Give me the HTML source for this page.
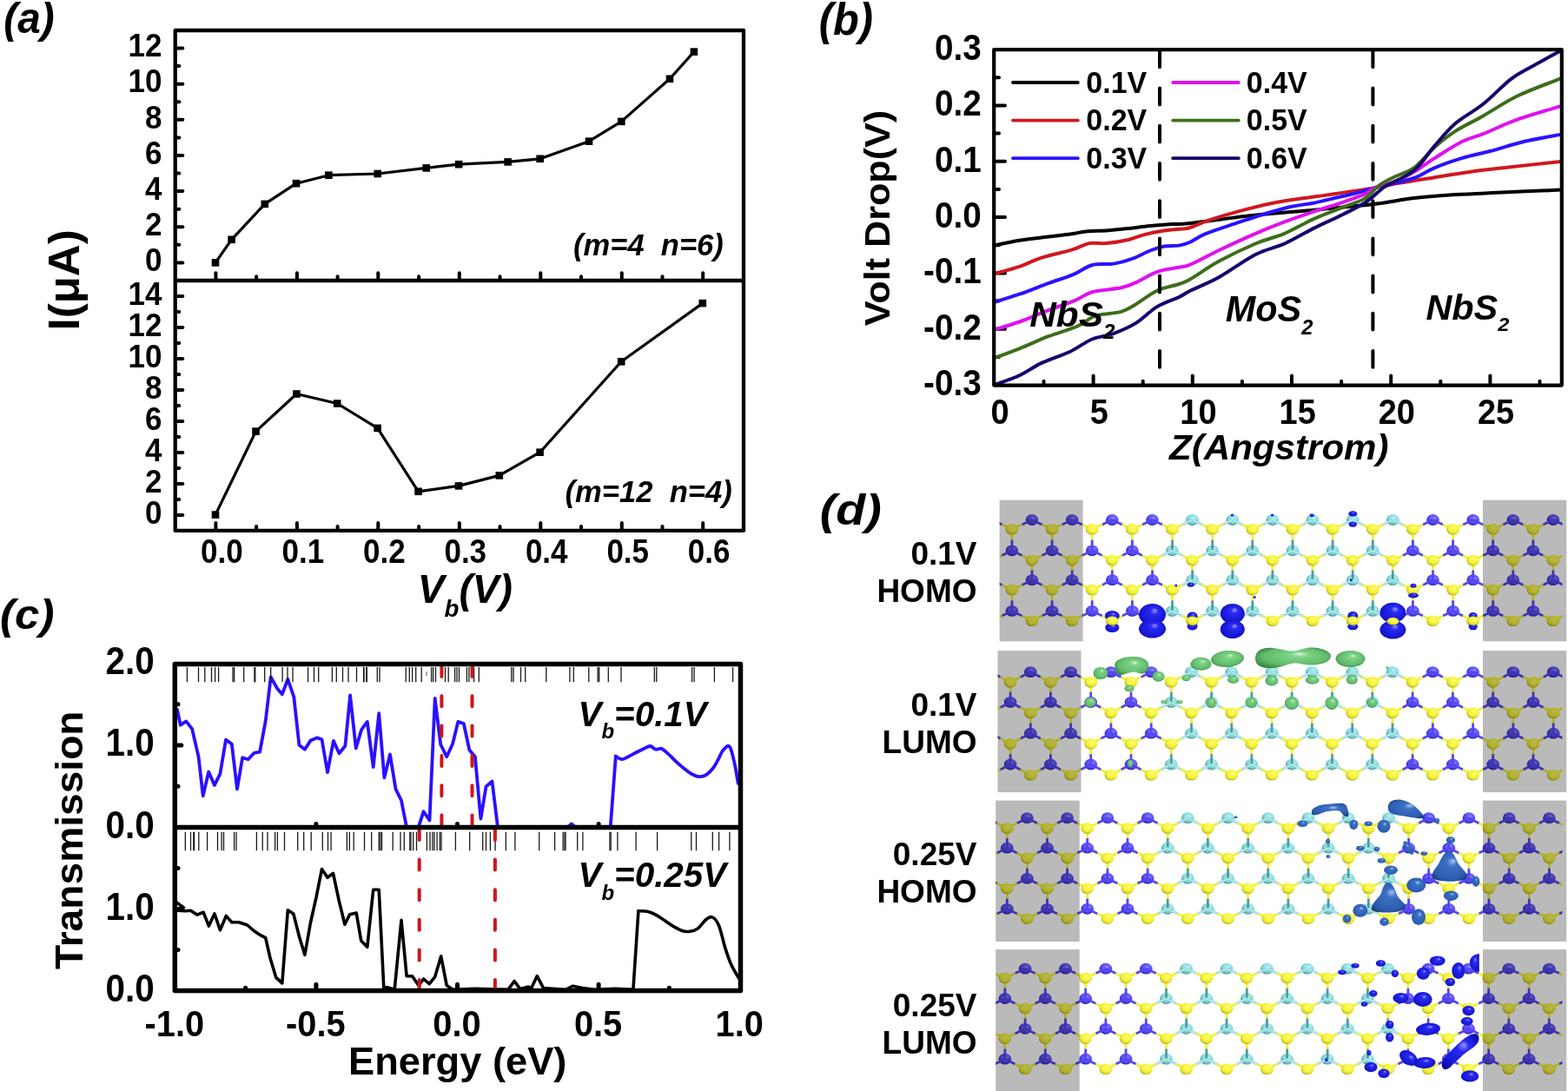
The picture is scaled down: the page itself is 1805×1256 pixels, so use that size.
<!DOCTYPE html>
<html><head><meta charset="utf-8"><title>Figure</title>
<style>
html,body{margin:0;padding:0;background:#fff;overflow:hidden;width:1805px;height:1256px;}
svg{display:block;}
text{font-family:'Liberation Sans', Arial, sans-serif;}
</style></head>
<body>
<svg width="1805" height="1256" viewBox="0 0 1805 1256">
<rect width="1805" height="1256" fill="#fff"/>
<line x1="201.7" y1="302.4" x2="210.3" y2="302.4" stroke="#000" stroke-width="4" stroke-linecap="round" />
<line x1="201.7" y1="281.8" x2="206.3" y2="281.8" stroke="#000" stroke-width="4" stroke-linecap="round" />
<line x1="201.7" y1="261.3" x2="210.3" y2="261.3" stroke="#000" stroke-width="4" stroke-linecap="round" />
<line x1="201.7" y1="240.7" x2="206.3" y2="240.7" stroke="#000" stroke-width="4" stroke-linecap="round" />
<line x1="201.7" y1="220.1" x2="210.3" y2="220.1" stroke="#000" stroke-width="4" stroke-linecap="round" />
<line x1="201.7" y1="199.5" x2="206.3" y2="199.5" stroke="#000" stroke-width="4" stroke-linecap="round" />
<line x1="201.7" y1="179.0" x2="210.3" y2="179.0" stroke="#000" stroke-width="4" stroke-linecap="round" />
<line x1="201.7" y1="158.4" x2="206.3" y2="158.4" stroke="#000" stroke-width="4" stroke-linecap="round" />
<line x1="201.7" y1="137.8" x2="210.3" y2="137.8" stroke="#000" stroke-width="4" stroke-linecap="round" />
<line x1="201.7" y1="117.3" x2="206.3" y2="117.3" stroke="#000" stroke-width="4" stroke-linecap="round" />
<line x1="201.7" y1="96.7" x2="210.3" y2="96.7" stroke="#000" stroke-width="4" stroke-linecap="round" />
<line x1="201.7" y1="76.1" x2="206.3" y2="76.1" stroke="#000" stroke-width="4" stroke-linecap="round" />
<line x1="201.7" y1="55.6" x2="210.3" y2="55.6" stroke="#000" stroke-width="4" stroke-linecap="round" />
<line x1="201.7" y1="592.9" x2="210.3" y2="592.9" stroke="#000" stroke-width="4" stroke-linecap="round" />
<line x1="201.7" y1="574.9" x2="206.3" y2="574.9" stroke="#000" stroke-width="4" stroke-linecap="round" />
<line x1="201.7" y1="556.9" x2="210.3" y2="556.9" stroke="#000" stroke-width="4" stroke-linecap="round" />
<line x1="201.7" y1="538.9" x2="206.3" y2="538.9" stroke="#000" stroke-width="4" stroke-linecap="round" />
<line x1="201.7" y1="520.9" x2="210.3" y2="520.9" stroke="#000" stroke-width="4" stroke-linecap="round" />
<line x1="201.7" y1="502.9" x2="206.3" y2="502.9" stroke="#000" stroke-width="4" stroke-linecap="round" />
<line x1="201.7" y1="484.9" x2="210.3" y2="484.9" stroke="#000" stroke-width="4" stroke-linecap="round" />
<line x1="201.7" y1="466.9" x2="206.3" y2="466.9" stroke="#000" stroke-width="4" stroke-linecap="round" />
<line x1="201.7" y1="448.9" x2="210.3" y2="448.9" stroke="#000" stroke-width="4" stroke-linecap="round" />
<line x1="201.7" y1="430.9" x2="206.3" y2="430.9" stroke="#000" stroke-width="4" stroke-linecap="round" />
<line x1="201.7" y1="412.9" x2="210.3" y2="412.9" stroke="#000" stroke-width="4" stroke-linecap="round" />
<line x1="201.7" y1="394.9" x2="206.3" y2="394.9" stroke="#000" stroke-width="4" stroke-linecap="round" />
<line x1="201.7" y1="376.9" x2="210.3" y2="376.9" stroke="#000" stroke-width="4" stroke-linecap="round" />
<line x1="201.7" y1="358.9" x2="206.3" y2="358.9" stroke="#000" stroke-width="4" stroke-linecap="round" />
<line x1="201.7" y1="340.9" x2="210.3" y2="340.9" stroke="#000" stroke-width="4" stroke-linecap="round" />
<line x1="248.4" y1="323.0" x2="248.4" y2="314.2" stroke="#000" stroke-width="4" stroke-linecap="round" />
<line x1="248.4" y1="610.9" x2="248.4" y2="602.1" stroke="#000" stroke-width="4" stroke-linecap="round" />
<line x1="295.1" y1="323.0" x2="295.1" y2="318.2" stroke="#000" stroke-width="4" stroke-linecap="round" />
<line x1="295.1" y1="610.9" x2="295.1" y2="606.1" stroke="#000" stroke-width="4" stroke-linecap="round" />
<line x1="341.9" y1="323.0" x2="341.9" y2="314.2" stroke="#000" stroke-width="4" stroke-linecap="round" />
<line x1="341.9" y1="610.9" x2="341.9" y2="602.1" stroke="#000" stroke-width="4" stroke-linecap="round" />
<line x1="388.6" y1="323.0" x2="388.6" y2="318.2" stroke="#000" stroke-width="4" stroke-linecap="round" />
<line x1="388.6" y1="610.9" x2="388.6" y2="606.1" stroke="#000" stroke-width="4" stroke-linecap="round" />
<line x1="435.3" y1="323.0" x2="435.3" y2="314.2" stroke="#000" stroke-width="4" stroke-linecap="round" />
<line x1="435.3" y1="610.9" x2="435.3" y2="602.1" stroke="#000" stroke-width="4" stroke-linecap="round" />
<line x1="482.1" y1="323.0" x2="482.1" y2="318.2" stroke="#000" stroke-width="4" stroke-linecap="round" />
<line x1="482.1" y1="610.9" x2="482.1" y2="606.1" stroke="#000" stroke-width="4" stroke-linecap="round" />
<line x1="528.8" y1="323.0" x2="528.8" y2="314.2" stroke="#000" stroke-width="4" stroke-linecap="round" />
<line x1="528.8" y1="610.9" x2="528.8" y2="602.1" stroke="#000" stroke-width="4" stroke-linecap="round" />
<line x1="575.5" y1="323.0" x2="575.5" y2="318.2" stroke="#000" stroke-width="4" stroke-linecap="round" />
<line x1="575.5" y1="610.9" x2="575.5" y2="606.1" stroke="#000" stroke-width="4" stroke-linecap="round" />
<line x1="622.3" y1="323.0" x2="622.3" y2="314.2" stroke="#000" stroke-width="4" stroke-linecap="round" />
<line x1="622.3" y1="610.9" x2="622.3" y2="602.1" stroke="#000" stroke-width="4" stroke-linecap="round" />
<line x1="669.0" y1="323.0" x2="669.0" y2="318.2" stroke="#000" stroke-width="4" stroke-linecap="round" />
<line x1="669.0" y1="610.9" x2="669.0" y2="606.1" stroke="#000" stroke-width="4" stroke-linecap="round" />
<line x1="715.8" y1="323.0" x2="715.8" y2="314.2" stroke="#000" stroke-width="4" stroke-linecap="round" />
<line x1="715.8" y1="610.9" x2="715.8" y2="602.1" stroke="#000" stroke-width="4" stroke-linecap="round" />
<line x1="762.5" y1="323.0" x2="762.5" y2="318.2" stroke="#000" stroke-width="4" stroke-linecap="round" />
<line x1="762.5" y1="610.9" x2="762.5" y2="606.1" stroke="#000" stroke-width="4" stroke-linecap="round" />
<line x1="809.2" y1="323.0" x2="809.2" y2="314.2" stroke="#000" stroke-width="4" stroke-linecap="round" />
<line x1="809.2" y1="610.9" x2="809.2" y2="602.1" stroke="#000" stroke-width="4" stroke-linecap="round" />
<path d="M201.7,610.9 L201.7,35.0 L856.0,35.0 L856.0,610.9 Z M201.7,323.0 L856.0,323.0" fill="none" stroke="#000" stroke-width="4.3" stroke-linejoin="round"/>
<text transform="translate(186.50,299.40) scale(1.0,1.08)" x="0" y="11.83" font-size="35" text-anchor="end" font-weight="bold">0</text>
<text transform="translate(186.50,258.26) scale(1.0,1.08)" x="0" y="11.83" font-size="35" text-anchor="end" font-weight="bold">2</text>
<text transform="translate(186.50,217.12) scale(1.0,1.08)" x="0" y="11.83" font-size="35" text-anchor="end" font-weight="bold">4</text>
<text transform="translate(186.50,175.98) scale(1.0,1.08)" x="0" y="11.83" font-size="35" text-anchor="end" font-weight="bold">6</text>
<text transform="translate(186.50,134.84) scale(1.0,1.08)" x="0" y="11.83" font-size="35" text-anchor="end" font-weight="bold">8</text>
<text transform="translate(186.50,93.70) scale(1.0,1.08)" x="0" y="11.83" font-size="35" text-anchor="end" font-weight="bold">10</text>
<text transform="translate(186.50,52.56) scale(1.0,1.08)" x="0" y="11.83" font-size="35" text-anchor="end" font-weight="bold">12</text>
<text transform="translate(186.50,589.90) scale(1.0,1.08)" x="0" y="11.83" font-size="35" text-anchor="end" font-weight="bold">0</text>
<text transform="translate(186.50,553.90) scale(1.0,1.08)" x="0" y="11.83" font-size="35" text-anchor="end" font-weight="bold">2</text>
<text transform="translate(186.50,517.90) scale(1.0,1.08)" x="0" y="11.83" font-size="35" text-anchor="end" font-weight="bold">4</text>
<text transform="translate(186.50,481.90) scale(1.0,1.08)" x="0" y="11.83" font-size="35" text-anchor="end" font-weight="bold">6</text>
<text transform="translate(186.50,445.90) scale(1.0,1.08)" x="0" y="11.83" font-size="35" text-anchor="end" font-weight="bold">8</text>
<text transform="translate(186.50,409.90) scale(1.0,1.08)" x="0" y="11.83" font-size="35" text-anchor="end" font-weight="bold">10</text>
<text transform="translate(186.50,373.90) scale(1.0,1.08)" x="0" y="11.83" font-size="35" text-anchor="end" font-weight="bold">12</text>
<text transform="translate(186.50,337.90) scale(1.0,1.08)" x="0" y="11.83" font-size="35" text-anchor="end" font-weight="bold">14</text>
<text transform="translate(255.35,635.10) scale(1.0,1.09)" x="0" y="11.83" font-size="35" text-anchor="middle" font-weight="bold">0.0</text>
<text transform="translate(348.82,635.10) scale(1.0,1.09)" x="0" y="11.83" font-size="35" text-anchor="middle" font-weight="bold">0.1</text>
<text transform="translate(442.29,635.10) scale(1.0,1.09)" x="0" y="11.83" font-size="35" text-anchor="middle" font-weight="bold">0.2</text>
<text transform="translate(535.76,635.10) scale(1.0,1.09)" x="0" y="11.83" font-size="35" text-anchor="middle" font-weight="bold">0.3</text>
<text transform="translate(629.23,635.10) scale(1.0,1.09)" x="0" y="11.83" font-size="35" text-anchor="middle" font-weight="bold">0.4</text>
<text transform="translate(722.70,635.10) scale(1.0,1.09)" x="0" y="11.83" font-size="35" text-anchor="middle" font-weight="bold">0.5</text>
<text transform="translate(816.17,635.10) scale(1.0,1.09)" x="0" y="11.83" font-size="35" text-anchor="middle" font-weight="bold">0.6</text>
<polyline points="248.0,302.4 266.6,275.8 304.8,234.9 341.0,211.2 378.4,201.7 434.7,200.0 490.7,193.4 528.1,189.2 584.6,186.4 621.7,182.8 678.0,162.7 715.3,139.9 771.0,90.8 798.9,59.6" fill="none" stroke="#000" stroke-width="3.2" stroke-linejoin="round" stroke-linecap="round" />
<rect x="243.7" y="298.1" width="8.6" height="8.6" fill="#000"/>
<rect x="262.3" y="271.5" width="8.6" height="8.6" fill="#000"/>
<rect x="300.5" y="230.6" width="8.6" height="8.6" fill="#000"/>
<rect x="336.7" y="206.9" width="8.6" height="8.6" fill="#000"/>
<rect x="374.1" y="197.4" width="8.6" height="8.6" fill="#000"/>
<rect x="430.4" y="195.7" width="8.6" height="8.6" fill="#000"/>
<rect x="486.4" y="189.1" width="8.6" height="8.6" fill="#000"/>
<rect x="523.8" y="184.9" width="8.6" height="8.6" fill="#000"/>
<rect x="580.3" y="182.1" width="8.6" height="8.6" fill="#000"/>
<rect x="617.4" y="178.5" width="8.6" height="8.6" fill="#000"/>
<rect x="673.7" y="158.4" width="8.6" height="8.6" fill="#000"/>
<rect x="711.0" y="135.6" width="8.6" height="8.6" fill="#000"/>
<rect x="766.7" y="86.5" width="8.6" height="8.6" fill="#000"/>
<rect x="794.6" y="55.3" width="8.6" height="8.6" fill="#000"/>
<polyline points="248.0,592.6 294.5,496.6 341.4,453.5 388.2,464.5 434.6,492.9 481.5,565.8 528.0,559.4 574.8,547.4 621.6,520.7 715.2,416.3 808.8,349.1" fill="none" stroke="#000" stroke-width="3.2" stroke-linejoin="round" stroke-linecap="round" />
<rect x="243.7" y="588.3" width="8.6" height="8.6" fill="#000"/>
<rect x="290.2" y="492.3" width="8.6" height="8.6" fill="#000"/>
<rect x="337.1" y="449.2" width="8.6" height="8.6" fill="#000"/>
<rect x="383.9" y="460.2" width="8.6" height="8.6" fill="#000"/>
<rect x="430.3" y="488.6" width="8.6" height="8.6" fill="#000"/>
<rect x="477.2" y="561.5" width="8.6" height="8.6" fill="#000"/>
<rect x="523.7" y="555.1" width="8.6" height="8.6" fill="#000"/>
<rect x="570.5" y="543.1" width="8.6" height="8.6" fill="#000"/>
<rect x="617.3" y="516.4" width="8.6" height="8.6" fill="#000"/>
<rect x="710.9" y="412.0" width="8.6" height="8.6" fill="#000"/>
<rect x="804.5" y="344.8" width="8.6" height="8.6" fill="#000"/>
<text transform="translate(4.33,38.22) scale(0.9356,0.9796)" font-size="51" font-weight="bold" style="font-style:italic;white-space:pre" xml:space="preserve">(a)</text>
<text transform="translate(91.14,380.54) rotate(-90) scale(0.9814,0.9694)" font-size="52" font-weight="bold" style="white-space:pre" xml:space="preserve">I(μA)</text>
<text transform="translate(480.79,694.09) scale(1.0029,0.9880)" font-size="46" font-weight="bold" style="font-style:italic;white-space:pre" xml:space="preserve">V<tspan font-size="27.5" dy="16">b</tspan><tspan dy="-16">(V)</tspan></text>
<text transform="translate(660.08,293.75) scale(1.0155,1.0355)" font-size="34" font-weight="bold" style="font-style:italic;white-space:pre" xml:space="preserve">(m=4  n=6)</text>
<text transform="translate(650.58,578.29) scale(1.0176,1.0581)" font-size="34" font-weight="bold" style="font-style:italic;white-space:pre" xml:space="preserve">(m=12  n=4)</text>
<line x1="1144.2" y1="410.9" x2="1150.0" y2="410.9" stroke="#000" stroke-width="4" stroke-linecap="round" />
<line x1="1144.2" y1="378.7" x2="1157.0" y2="378.7" stroke="#000" stroke-width="4" stroke-linecap="round" />
<line x1="1144.2" y1="346.6" x2="1150.0" y2="346.6" stroke="#000" stroke-width="4" stroke-linecap="round" />
<line x1="1144.2" y1="314.4" x2="1157.0" y2="314.4" stroke="#000" stroke-width="4" stroke-linecap="round" />
<line x1="1144.2" y1="282.2" x2="1150.0" y2="282.2" stroke="#000" stroke-width="4" stroke-linecap="round" />
<line x1="1144.2" y1="250.1" x2="1157.0" y2="250.1" stroke="#000" stroke-width="4" stroke-linecap="round" />
<line x1="1144.2" y1="217.9" x2="1150.0" y2="217.9" stroke="#000" stroke-width="4" stroke-linecap="round" />
<line x1="1144.2" y1="185.8" x2="1157.0" y2="185.8" stroke="#000" stroke-width="4" stroke-linecap="round" />
<line x1="1144.2" y1="153.6" x2="1150.0" y2="153.6" stroke="#000" stroke-width="4" stroke-linecap="round" />
<line x1="1144.2" y1="121.5" x2="1157.0" y2="121.5" stroke="#000" stroke-width="4" stroke-linecap="round" />
<line x1="1144.2" y1="89.3" x2="1150.0" y2="89.3" stroke="#000" stroke-width="4" stroke-linecap="round" />
<line x1="1201.5" y1="443.6" x2="1201.5" y2="438.7" stroke="#000" stroke-width="4" stroke-linecap="round" />
<line x1="1258.6" y1="443.6" x2="1258.6" y2="432.4" stroke="#000" stroke-width="4" stroke-linecap="round" />
<line x1="1315.7" y1="443.6" x2="1315.7" y2="438.7" stroke="#000" stroke-width="4" stroke-linecap="round" />
<line x1="1372.8" y1="443.6" x2="1372.8" y2="432.4" stroke="#000" stroke-width="4" stroke-linecap="round" />
<line x1="1429.9" y1="443.6" x2="1429.9" y2="438.7" stroke="#000" stroke-width="4" stroke-linecap="round" />
<line x1="1487.0" y1="443.6" x2="1487.0" y2="432.4" stroke="#000" stroke-width="4" stroke-linecap="round" />
<line x1="1544.1" y1="443.6" x2="1544.1" y2="438.7" stroke="#000" stroke-width="4" stroke-linecap="round" />
<line x1="1601.2" y1="443.6" x2="1601.2" y2="432.4" stroke="#000" stroke-width="4" stroke-linecap="round" />
<line x1="1658.3" y1="443.6" x2="1658.3" y2="438.7" stroke="#000" stroke-width="4" stroke-linecap="round" />
<line x1="1715.4" y1="443.6" x2="1715.4" y2="432.4" stroke="#000" stroke-width="4" stroke-linecap="round" />
<line x1="1772.5" y1="443.6" x2="1772.5" y2="438.7" stroke="#000" stroke-width="4" stroke-linecap="round" />
<clipPath id="bclip"><rect x="1144.2" y="55.2" width="653.5999999999999" height="390.40000000000003"/></clipPath>
<g clip-path="url(#bclip)">
<path d="M1144.2,282.6 C1149.1,281.6 1163.0,278.5 1173.5,276.8 C1184.0,275.1 1196.9,273.9 1206.9,272.6 C1216.9,271.4 1226.5,270.3 1233.7,269.3 C1241.0,268.3 1243.7,267.0 1250.4,266.4 C1257.1,265.8 1265.7,265.9 1273.8,265.4 C1281.9,264.8 1290.5,264.0 1298.9,263.1 C1307.3,262.2 1315.6,260.9 1324.0,260.1 C1332.4,259.3 1341.4,258.6 1349.1,258.1 C1356.8,257.6 1355.4,258.7 1370.0,257.1 C1384.6,255.5 1414.6,250.9 1436.9,248.4 C1459.2,245.9 1480.1,244.6 1503.8,242.4 C1527.5,240.2 1558.4,237.7 1579.1,235.3 C1599.8,232.9 1611.7,230.0 1627.8,228.1 C1643.9,226.2 1659.6,225.1 1675.5,224.1 C1691.4,223.1 1703.1,222.7 1723.3,221.8 C1743.5,220.9 1784.4,219.1 1796.6,218.6" fill="none" stroke="#000000" stroke-width="4" stroke-linejoin="round" stroke-linecap="round" />
<path d="M1144.2,315.3 C1149.1,313.9 1164.5,310.0 1173.5,306.9 C1182.5,303.8 1188.5,300.1 1198.5,296.9 C1208.5,293.7 1224.5,290.5 1233.7,287.7 C1242.9,284.9 1247.0,281.4 1253.7,280.1 C1260.4,278.8 1266.3,280.8 1273.8,280.1 C1281.3,279.4 1291.7,277.7 1298.9,276.0 C1306.2,274.3 1310.9,271.8 1317.3,270.1 C1323.7,268.4 1330.2,267.0 1337.4,265.9 C1344.7,264.8 1355.4,264.0 1360.8,263.4 C1366.2,262.8 1364.3,263.8 1370.0,262.0 C1375.7,260.2 1383.9,256.0 1395.1,252.4 C1406.2,248.8 1424.4,243.7 1436.9,240.4 C1449.5,237.1 1459.2,234.9 1470.4,232.8 C1481.6,230.7 1492.7,229.4 1503.8,227.8 C1514.9,226.2 1524.2,225.1 1537.3,223.1 C1550.4,221.1 1570.0,218.2 1582.4,216.1 C1594.8,214.0 1600.2,212.6 1611.8,210.6 C1623.3,208.6 1638.4,206.3 1651.7,204.2 C1665.0,202.1 1676.9,199.9 1691.5,197.9 C1706.1,195.9 1721.7,194.3 1739.2,192.3 C1756.7,190.3 1787.0,187.0 1796.6,185.9" fill="none" stroke="#d01820" stroke-width="4" stroke-linejoin="round" stroke-linecap="round" />
<path d="M1144.2,347.9 C1149.1,346.4 1163.0,342.3 1173.5,338.7 C1184.0,335.1 1196.6,329.9 1206.9,326.1 C1217.2,322.3 1226.9,319.6 1235.3,316.1 C1243.7,312.6 1249.3,307.3 1257.1,305.2 C1264.9,303.1 1274.4,304.9 1282.2,303.6 C1290.0,302.4 1296.9,300.2 1303.9,297.7 C1310.9,295.2 1317.9,290.9 1324.0,288.5 C1330.1,286.1 1335.1,284.5 1340.7,283.5 C1346.3,282.5 1352.5,283.4 1357.4,282.6 C1362.3,281.8 1365.1,281.0 1370.0,278.8 C1374.9,276.6 1378.3,273.1 1386.7,269.6 C1395.1,266.1 1409.1,261.7 1420.2,257.9 C1431.3,254.1 1442.4,250.3 1453.6,247.0 C1464.8,243.7 1477.3,240.0 1487.1,237.8 C1496.9,235.6 1503.8,235.4 1512.2,233.7 C1520.6,232.0 1529.0,229.8 1537.3,227.8 C1545.6,225.9 1554.8,223.9 1562.3,222.0 C1569.8,220.1 1576.8,217.6 1582.4,216.1 C1588.0,214.6 1588.3,214.8 1595.9,213.0 C1603.5,211.2 1618.5,208.3 1627.8,205.0 C1637.1,201.7 1642.4,196.9 1651.7,193.1 C1661.0,189.2 1672.9,185.1 1683.5,181.9 C1694.1,178.7 1703.5,177.2 1715.4,174.0 C1727.4,170.8 1741.7,166.0 1755.2,162.8 C1768.7,159.6 1789.7,156.2 1796.6,154.9" fill="none" stroke="#2a12ff" stroke-width="4" stroke-linejoin="round" stroke-linecap="round" />
<path d="M1144.2,379.7 C1149.1,378.2 1163.0,374.3 1173.5,370.5 C1184.0,366.7 1196.3,361.2 1206.9,357.1 C1217.5,353.1 1228.6,349.7 1237.0,346.2 C1245.4,342.7 1248.2,338.7 1257.1,336.2 C1266.0,333.7 1282.1,333.0 1290.5,331.2 C1298.9,329.4 1300.3,328.4 1307.3,325.3 C1314.3,322.2 1323.9,315.7 1332.3,312.8 C1340.7,309.9 1351.1,309.1 1357.4,307.7 C1363.7,306.3 1362.3,308.0 1370.0,304.7 C1377.7,301.4 1391.0,294.0 1403.5,288.0 C1416.0,282.0 1432.8,274.2 1445.3,268.8 C1457.8,263.4 1467.5,259.6 1478.7,255.4 C1489.9,251.2 1501.1,247.5 1512.2,243.7 C1523.3,239.9 1535.8,236.2 1545.6,232.8 C1555.3,229.5 1564.6,226.4 1570.7,223.6 C1576.8,220.8 1576.9,218.4 1582.4,216.1 C1587.9,213.8 1596.3,212.8 1603.9,209.8 C1611.5,206.8 1619.8,202.6 1627.8,197.9 C1635.8,193.2 1642.4,187.8 1651.7,181.9 C1661.0,176.1 1674.2,167.4 1683.5,162.8 C1692.8,158.2 1696.8,158.3 1707.4,154.1 C1718.0,149.9 1732.3,142.7 1747.2,137.4 C1762.1,132.1 1788.4,124.7 1796.6,122.2" fill="none" stroke="#e010f0" stroke-width="4" stroke-linejoin="round" stroke-linecap="round" />
<path d="M1144.2,412.3 C1149.1,410.5 1163.0,405.6 1173.5,401.4 C1184.0,397.2 1195.8,391.5 1206.9,387.2 C1218.1,382.9 1231.5,379.4 1240.4,375.5 C1249.3,371.6 1252.1,366.6 1260.4,363.8 C1268.8,361.0 1282.7,361.0 1290.5,358.8 C1298.3,356.6 1300.3,354.4 1307.3,350.4 C1314.3,346.3 1323.9,338.4 1332.3,334.5 C1340.7,330.6 1351.1,329.2 1357.4,327.0 C1363.7,324.8 1362.3,325.9 1370.0,321.5 C1377.7,317.1 1391.0,307.4 1403.5,300.6 C1416.0,293.8 1432.8,285.8 1445.3,280.5 C1457.8,275.2 1467.5,273.5 1478.7,268.8 C1489.9,264.1 1501.1,257.1 1512.2,252.1 C1523.3,247.1 1535.8,242.6 1545.6,238.7 C1555.3,234.8 1563.7,232.8 1570.7,228.6 C1577.7,224.4 1581.9,217.7 1587.4,213.6 C1592.9,209.5 1597.2,207.6 1603.9,204.2 C1610.6,200.8 1619.8,198.9 1627.8,193.1 C1635.8,187.3 1643.8,176.2 1651.7,169.2 C1659.7,162.2 1666.2,156.9 1675.5,150.9 C1684.8,144.9 1695.5,140.2 1707.4,133.4 C1719.4,126.6 1732.3,117.5 1747.2,110.3 C1762.1,103.1 1788.4,93.7 1796.6,90.4" fill="none" stroke="#3c6e1a" stroke-width="4" stroke-linejoin="round" stroke-linecap="round" />
<path d="M1144.2,443.2 C1149.1,441.4 1164.5,436.5 1173.5,432.3 C1182.5,428.1 1188.8,422.7 1198.5,418.1 C1208.2,413.5 1222.2,409.3 1232.0,404.7 C1241.8,400.1 1248.7,394.0 1257.1,390.5 C1265.5,387.0 1273.8,386.9 1282.2,383.8 C1290.6,380.7 1299.0,377.2 1307.3,372.1 C1315.6,367.0 1323.9,357.9 1332.3,352.9 C1340.7,347.9 1351.1,345.0 1357.4,342.0 C1363.7,339.0 1362.3,338.6 1370.0,334.8 C1377.7,331.0 1391.0,326.0 1403.5,319.0 C1416.0,312.0 1432.8,299.4 1445.3,293.0 C1457.8,286.6 1467.5,285.5 1478.7,280.5 C1489.9,275.5 1501.1,268.5 1512.2,262.9 C1523.3,257.3 1535.8,251.9 1545.6,247.0 C1555.3,242.1 1563.7,238.1 1570.7,233.7 C1577.7,229.2 1583.2,223.6 1587.4,220.3 C1591.6,217.0 1589.2,217.8 1595.9,213.8 C1602.6,209.8 1618.5,204.0 1627.8,196.3 C1637.1,188.6 1643.8,176.6 1651.7,167.6 C1659.7,158.6 1666.2,150.1 1675.5,142.1 C1684.8,134.1 1696.8,128.3 1707.4,119.8 C1718.0,111.3 1729.9,98.4 1739.2,91.2 C1748.5,84.0 1753.5,82.2 1763.1,76.8 C1772.7,71.3 1791.0,61.5 1796.6,58.5" fill="none" stroke="#16046e" stroke-width="4" stroke-linejoin="round" stroke-linecap="round" />
</g>
<line x1="1335.0" y1="58.4" x2="1335.0" y2="423" stroke="#000" stroke-width="4" stroke-dasharray="18.8 24.4" stroke-linecap="round"/>
<line x1="1580.4" y1="58.4" x2="1580.4" y2="423" stroke="#000" stroke-width="4" stroke-dasharray="18.8 24.4" stroke-linecap="round"/>
<rect x="1144.2" y="57.2" width="653.5999999999999" height="386.40000000000003" fill="none" stroke="#000" stroke-width="4.2" stroke-linejoin="round"/>
<line x1="1166.0" y1="95.0" x2="1240.8" y2="95.0" stroke="#000000" stroke-width="3.8" stroke-linecap="round" />
<text transform="translate(1250.30,94.55) scale(1.0,1.055)" x="0" y="11.49" font-size="34" text-anchor="start" font-weight="bold">0.1V</text>
<line x1="1166.0" y1="138.6" x2="1240.8" y2="138.6" stroke="#d01820" stroke-width="3.8" stroke-linecap="round" />
<text transform="translate(1250.30,138.15) scale(1.0,1.055)" x="0" y="11.49" font-size="34" text-anchor="start" font-weight="bold">0.2V</text>
<line x1="1166.0" y1="182.2" x2="1240.8" y2="182.2" stroke="#2a12ff" stroke-width="3.8" stroke-linecap="round" />
<text transform="translate(1250.30,181.75) scale(1.0,1.055)" x="0" y="11.49" font-size="34" text-anchor="start" font-weight="bold">0.3V</text>
<line x1="1350.2" y1="95.0" x2="1425.8" y2="95.0" stroke="#e010f0" stroke-width="3.8" stroke-linecap="round" />
<text transform="translate(1434.80,94.55) scale(1.0,1.055)" x="0" y="11.49" font-size="34" text-anchor="start" font-weight="bold">0.4V</text>
<line x1="1350.2" y1="138.6" x2="1425.8" y2="138.6" stroke="#3c6e1a" stroke-width="3.8" stroke-linecap="round" />
<text transform="translate(1434.80,138.15) scale(1.0,1.055)" x="0" y="11.49" font-size="34" text-anchor="start" font-weight="bold">0.5V</text>
<line x1="1350.2" y1="182.2" x2="1425.8" y2="182.2" stroke="#16046e" stroke-width="3.8" stroke-linecap="round" />
<text transform="translate(1434.80,181.75) scale(1.0,1.055)" x="0" y="11.49" font-size="34" text-anchor="start" font-weight="bold">0.6V</text>
<text transform="translate(1129.70,440.90) scale(1.0,1.077)" x="0" y="13.08" font-size="38.7" text-anchor="end" font-weight="bold">-0.3</text>
<text transform="translate(1129.70,376.60) scale(1.0,1.077)" x="0" y="13.08" font-size="38.7" text-anchor="end" font-weight="bold">-0.2</text>
<text transform="translate(1129.70,312.30) scale(1.0,1.077)" x="0" y="13.08" font-size="38.7" text-anchor="end" font-weight="bold">-0.1</text>
<text transform="translate(1129.70,248.00) scale(1.0,1.077)" x="0" y="13.08" font-size="38.7" text-anchor="end" font-weight="bold">0.0</text>
<text transform="translate(1129.70,183.70) scale(1.0,1.077)" x="0" y="13.08" font-size="38.7" text-anchor="end" font-weight="bold">0.1</text>
<text transform="translate(1129.70,119.40) scale(1.0,1.077)" x="0" y="13.08" font-size="38.7" text-anchor="end" font-weight="bold">0.2</text>
<text transform="translate(1129.70,55.10) scale(1.0,1.077)" x="0" y="13.08" font-size="38.7" text-anchor="end" font-weight="bold">0.3</text>
<text transform="translate(1151.05,474.20) scale(1.0,1.08)" x="0" y="12.84" font-size="38" text-anchor="middle" font-weight="bold">0</text>
<text transform="translate(1265.25,474.20) scale(1.0,1.08)" x="0" y="12.84" font-size="38" text-anchor="middle" font-weight="bold">5</text>
<text transform="translate(1379.45,474.20) scale(1.0,1.08)" x="0" y="12.84" font-size="38" text-anchor="middle" font-weight="bold">10</text>
<text transform="translate(1493.65,474.20) scale(1.0,1.08)" x="0" y="12.84" font-size="38" text-anchor="middle" font-weight="bold">15</text>
<text transform="translate(1607.85,474.20) scale(1.0,1.08)" x="0" y="12.84" font-size="38" text-anchor="middle" font-weight="bold">20</text>
<text transform="translate(1722.05,474.20) scale(1.0,1.08)" x="0" y="12.84" font-size="38" text-anchor="middle" font-weight="bold">25</text>
<text transform="translate(942.69,39.70) scale(0.9548,1.0184)" font-size="51" font-weight="bold" style="font-style:italic;white-space:pre" xml:space="preserve">(b)</text>
<text transform="translate(1023.82,375.30) rotate(-90) scale(1.0530,0.9974)" font-size="41" font-weight="bold" style="white-space:pre" xml:space="preserve">Volt Drop(V)</text>
<text transform="translate(1346.00,529.40) scale(1.0024,0.9775)" font-size="42" font-weight="bold" style="font-style:italic;white-space:pre" xml:space="preserve">Z(Angstrom)</text>
<text transform="translate(1185.29,375.96) scale(1.0083,0.9889)" font-size="42" font-weight="bold" style="font-style:italic;white-space:pre" xml:space="preserve">NbS<tspan font-size="24" dy="14.3">2</tspan></text>
<text transform="translate(1410.81,370.17) scale(0.9851,1.0093)" font-size="42" font-weight="bold" style="font-style:italic;white-space:pre" xml:space="preserve">MoS<tspan font-size="24" dy="14.3">2</tspan></text>
<text transform="translate(1641.41,367.88) scale(0.9854,0.9511)" font-size="42" font-weight="bold" style="font-style:italic;white-space:pre" xml:space="preserve">NbS<tspan font-size="24" dy="14.3">2</tspan></text>
<line x1="201.3" y1="905.3" x2="205.0" y2="905.3" stroke="#000" stroke-width="5" stroke-linecap="round" />
<line x1="201.3" y1="1093.5" x2="205.0" y2="1093.5" stroke="#000" stroke-width="5" stroke-linecap="round" />
<line x1="201.3" y1="858.0" x2="208.8" y2="858.0" stroke="#000" stroke-width="5" stroke-linecap="round" />
<line x1="201.3" y1="1046.5" x2="208.8" y2="1046.5" stroke="#000" stroke-width="5" stroke-linecap="round" />
<line x1="201.3" y1="810.7" x2="205.0" y2="810.7" stroke="#000" stroke-width="5" stroke-linecap="round" />
<line x1="201.3" y1="999.5" x2="205.0" y2="999.5" stroke="#000" stroke-width="5" stroke-linecap="round" />
<line x1="282.6" y1="1140.5" x2="282.6" y2="1137.3" stroke="#000" stroke-width="5" stroke-linecap="round" />
<line x1="363.9" y1="952.6" x2="363.9" y2="948.4" stroke="#000" stroke-width="5" stroke-linecap="round" />
<line x1="363.9" y1="1140.5" x2="363.9" y2="1133.2" stroke="#000" stroke-width="5" stroke-linecap="round" />
<line x1="445.2" y1="1140.5" x2="445.2" y2="1137.3" stroke="#000" stroke-width="5" stroke-linecap="round" />
<line x1="526.5" y1="952.6" x2="526.5" y2="948.4" stroke="#000" stroke-width="5" stroke-linecap="round" />
<line x1="526.5" y1="1140.5" x2="526.5" y2="1133.2" stroke="#000" stroke-width="5" stroke-linecap="round" />
<line x1="607.8" y1="1140.5" x2="607.8" y2="1137.3" stroke="#000" stroke-width="5" stroke-linecap="round" />
<line x1="689.1" y1="952.6" x2="689.1" y2="948.4" stroke="#000" stroke-width="5" stroke-linecap="round" />
<line x1="689.1" y1="1140.5" x2="689.1" y2="1133.2" stroke="#000" stroke-width="5" stroke-linecap="round" />
<line x1="770.4" y1="1140.5" x2="770.4" y2="1137.3" stroke="#000" stroke-width="5" stroke-linecap="round" />
<clipPath id="cclip1"><rect x="201.3" y="764.4" width="651.2" height="188.20000000000005"/></clipPath>
<clipPath id="cclip2"><rect x="201.3" y="952.6" width="651.2" height="187.89999999999998"/></clipPath>
<polyline points="204.0,817.0 207.7,834.7 214.3,830.4 221.1,839.1 228.5,870.9 233.7,916.3 240.2,888.5 246.9,903.9 253.4,890.8 260.0,851.6 266.8,856.5 273.0,908.4 279.1,872.2 285.6,874.2 292.6,866.8 299.1,865.7 305.7,830.1 311.7,779.5 319.1,792.5 324.8,799.4 331.3,781.9 338.3,802.3 344.4,857.8 350.9,862.7 357.4,852.6 364.8,849.4 370.5,851.3 377.0,889.2 383.9,852.9 390.4,867.3 397.4,858.7 403.1,800.4 409.7,861.4 416.2,839.9 422.8,830.9 429.7,883.1 436.2,821.1 442.4,895.4 449.0,868.5 455.5,908.4 462.0,921.5 468.1,952.6 481.6,952.6 487.6,934.2 494.5,944.4 500.7,804.0 507.2,857.0 514.2,871.2 521.1,856.2 527.3,830.9 533.8,833.0 540.4,863.6 546.9,871.2 553.4,942.7 559.5,905.5 566.5,899.5 573.0,952.6 653.0,952.6 657.9,948.4 662.8,952.6 702.7,952.6 708.8,870.6" fill="none" stroke="#2a10ff" stroke-width="3.8" stroke-linejoin="round" stroke-linecap="round" clip-path="url(#cclip1)"/>
<path d="M708.8,870.6 C710.0,871.2 713.4,874.1 715.8,874.2 C718.2,874.3 720.2,872.6 723.1,871.2 C726.0,869.8 729.9,867.5 732.9,866.0 C735.9,864.5 738.5,863.1 741.1,861.9 C743.7,860.7 746.2,858.9 748.5,859.0 C750.8,859.1 752.8,862.2 755.0,862.7 C757.2,863.2 759.2,861.1 761.5,861.9 C763.8,862.7 766.0,865.1 768.9,867.6 C771.8,870.1 775.4,874.1 778.6,877.1 C781.9,880.1 785.4,883.2 788.4,885.6 C791.4,888.0 793.9,889.9 796.6,891.3 C799.3,892.7 802.1,894.0 804.8,894.1 C807.5,894.2 810.2,893.8 812.9,892.1 C815.6,890.4 818.8,887.0 821.1,884.0 C823.4,881.0 824.9,877.6 826.8,874.2 C828.7,870.8 830.3,866.1 832.5,863.6 C834.7,861.1 837.7,856.9 839.9,859.5 C842.1,862.1 844.0,872.0 845.6,879.1 C847.2,886.2 849.0,898.1 849.7,901.9" fill="none" stroke="#2a10ff" stroke-width="3.8" stroke-linejoin="round" stroke-linecap="round" clip-path="url(#cclip1)"/>
<polyline points="203.2,1038.9 211.5,1045.0 204.5,1048.2 213.0,1048.7 219.5,1048.2 226.8,1053.1 234.2,1050.3 240.4,1066.1 246.9,1051.9 253.4,1070.7 260.3,1054.4 266.8,1061.7 275.0,1061.7 284.8,1065.0 292.1,1071.5 299.5,1076.4 305.7,1079.7 310.9,1102.5 317.8,1125.4 324.8,1131.9 331.3,1047.8 337.8,1051.9 344.4,1078.0 350.9,1099.3 357.4,1062.5 364.0,1033.1 370.5,1000.5 377.0,1010.3 383.5,1005.4 390.1,1036.4 396.9,1064.2 402.6,1052.7 410.2,1051.1 415.7,1082.9 422.8,1090.3 429.7,1024.2 436.2,1024.2 441.9,1139.3 446.0,1136.8 454.2,1139.3 462.0,1059.3 468.1,1123.7 474.6,1123.7 481.9,1134.4 487.6,1127.0 494.2,1132.7 500.7,1124.6 507.7,1100.9 514.2,1134.4 521.1,1139.3 546.4,1138.4 584.8,1139.3 592.1,1129.5 598.6,1138.4 608.4,1136.0 611.7,1137.6 618.2,1123.7 625.6,1137.6 651.3,1139.3 659.5,1135.2 670.9,1137.6 684.0,1139.3 708.5,1138.4 719.9,1138.9 728.9,1139.3 734.9,1048.7" fill="none" stroke="#000" stroke-width="3.6" stroke-linejoin="round" stroke-linecap="round" clip-path="url(#cclip2)"/>
<path d="M734.9,1048.7 C736.8,1048.8 742.5,1048.7 746.0,1049.5 C749.5,1050.3 752.5,1051.8 755.8,1053.6 C759.1,1055.4 762.3,1057.9 765.6,1060.1 C768.9,1062.3 772.1,1064.7 775.4,1066.6 C778.7,1068.5 782.1,1070.5 785.2,1071.5 C788.3,1072.5 791.2,1072.7 794.2,1072.3 C797.2,1071.9 800.0,1071.4 803.1,1069.1 C806.2,1066.8 810.0,1060.7 812.9,1058.5 C815.8,1056.3 817.8,1054.8 820.3,1056.0 C822.8,1057.2 825.1,1059.8 827.6,1065.8 C830.1,1071.8 832.7,1084.6 835.0,1091.9 C837.3,1099.2 838.9,1104.2 841.5,1109.9 C844.1,1115.6 849.0,1123.5 850.5,1126.2" fill="none" stroke="#000" stroke-width="3.6" stroke-linejoin="round" stroke-linecap="round" clip-path="url(#cclip2)"/>
<g stroke="#1a1a1a" stroke-width="1.3">
<line x1="215.4" y1="768.1" x2="215.4" y2="785.2"/>
<line x1="228.5" y1="768.1" x2="228.5" y2="785.2"/>
<line x1="235.8" y1="768.1" x2="235.8" y2="785.2"/>
<line x1="243.5" y1="768.1" x2="243.5" y2="785.2"/>
<line x1="247.6" y1="768.1" x2="247.6" y2="785.2"/>
<line x1="251.6" y1="768.1" x2="251.6" y2="785.2"/>
<line x1="268.0" y1="768.1" x2="268.0" y2="785.2"/>
<line x1="269.6" y1="768.1" x2="269.6" y2="785.2"/>
<line x1="280.7" y1="768.1" x2="280.7" y2="785.2"/>
<line x1="292.9" y1="768.1" x2="292.9" y2="785.2"/>
<line x1="293.8" y1="768.1" x2="293.8" y2="785.2"/>
<line x1="304.7" y1="768.1" x2="304.7" y2="785.2"/>
<line x1="311.7" y1="768.1" x2="311.7" y2="785.2"/>
<line x1="325.1" y1="768.1" x2="325.1" y2="785.2"/>
<line x1="331.0" y1="768.1" x2="331.0" y2="785.2"/>
<line x1="337.0" y1="768.1" x2="337.0" y2="785.2"/>
<line x1="354.6" y1="768.1" x2="354.6" y2="785.2"/>
<line x1="361.5" y1="768.1" x2="361.5" y2="785.2"/>
<line x1="366.7" y1="768.1" x2="366.7" y2="785.2"/>
<line x1="382.4" y1="768.1" x2="382.4" y2="785.2"/>
<line x1="387.3" y1="768.1" x2="387.3" y2="785.2"/>
<line x1="394.5" y1="768.1" x2="394.5" y2="785.2"/>
<line x1="401.0" y1="768.1" x2="401.0" y2="785.2"/>
<line x1="410.5" y1="768.1" x2="410.5" y2="785.2"/>
<line x1="419.0" y1="768.1" x2="419.0" y2="785.2"/>
<line x1="421.9" y1="768.1" x2="421.9" y2="785.2"/>
<line x1="418.6" y1="768.1" x2="418.6" y2="785.2"/>
<line x1="422.3" y1="768.1" x2="422.3" y2="785.2"/>
<line x1="434.3" y1="768.1" x2="434.3" y2="785.2"/>
<line x1="437.0" y1="768.1" x2="437.0" y2="785.2"/>
<line x1="467.2" y1="768.1" x2="467.2" y2="785.2"/>
<line x1="471.3" y1="768.1" x2="471.3" y2="785.2"/>
<line x1="474.6" y1="768.1" x2="474.6" y2="785.2"/>
<line x1="478.7" y1="768.1" x2="478.7" y2="785.2"/>
<line x1="485.2" y1="768.1" x2="485.2" y2="785.2"/>
<line x1="496.6" y1="768.1" x2="496.6" y2="785.2"/>
<line x1="498.6" y1="768.1" x2="498.6" y2="785.2"/>
<line x1="501.5" y1="768.1" x2="501.5" y2="785.2"/>
<line x1="512.5" y1="768.1" x2="512.5" y2="785.2"/>
<line x1="516.2" y1="768.1" x2="516.2" y2="785.2"/>
<line x1="523.6" y1="768.1" x2="523.6" y2="785.2"/>
<line x1="526.0" y1="768.1" x2="526.0" y2="785.2"/>
<line x1="528.5" y1="768.1" x2="528.5" y2="785.2"/>
<line x1="537.4" y1="768.1" x2="537.4" y2="785.2"/>
<line x1="539.9" y1="768.1" x2="539.9" y2="785.2"/>
<line x1="545.6" y1="768.1" x2="545.6" y2="785.2"/>
<line x1="551.3" y1="768.1" x2="551.3" y2="785.2"/>
<line x1="588.8" y1="768.1" x2="588.8" y2="785.2"/>
<line x1="591.0" y1="768.1" x2="591.0" y2="785.2"/>
<line x1="599.5" y1="768.1" x2="599.5" y2="785.2"/>
<line x1="604.7" y1="768.1" x2="604.7" y2="785.2"/>
<line x1="628.8" y1="768.1" x2="628.8" y2="785.2"/>
<line x1="655.9" y1="768.1" x2="655.9" y2="785.2"/>
<line x1="660.3" y1="768.1" x2="660.3" y2="785.2"/>
<line x1="677.8" y1="768.1" x2="677.8" y2="785.2"/>
<line x1="688.1" y1="768.1" x2="688.1" y2="785.2"/>
<line x1="689.7" y1="768.1" x2="689.7" y2="785.2"/>
<line x1="700.3" y1="768.1" x2="700.3" y2="785.2"/>
<line x1="715.0" y1="768.1" x2="715.0" y2="785.2"/>
<line x1="753.3" y1="768.1" x2="753.3" y2="785.2"/>
<line x1="755.8" y1="768.1" x2="755.8" y2="785.2"/>
<line x1="796.6" y1="768.1" x2="796.6" y2="785.2"/>
<line x1="799.1" y1="768.1" x2="799.1" y2="785.2"/>
<line x1="822.4" y1="768.1" x2="822.4" y2="785.2"/>
<line x1="843.6" y1="768.1" x2="843.6" y2="785.2"/>
<line x1="213.3" y1="957.8" x2="213.3" y2="979.3"/>
<line x1="219.5" y1="957.8" x2="219.5" y2="979.3"/>
<line x1="222.8" y1="957.8" x2="222.8" y2="979.3"/>
<line x1="223.6" y1="957.8" x2="223.6" y2="979.3"/>
<line x1="228.8" y1="957.8" x2="228.8" y2="979.3"/>
<line x1="238.6" y1="957.8" x2="238.6" y2="979.3"/>
<line x1="250.5" y1="957.8" x2="250.5" y2="979.3"/>
<line x1="255.1" y1="957.8" x2="255.1" y2="979.3"/>
<line x1="257.5" y1="957.8" x2="257.5" y2="979.3"/>
<line x1="269.6" y1="957.8" x2="269.6" y2="979.3"/>
<line x1="272.0" y1="957.8" x2="272.0" y2="979.3"/>
<line x1="295.4" y1="957.8" x2="295.4" y2="979.3"/>
<line x1="302.2" y1="957.8" x2="302.2" y2="979.3"/>
<line x1="308.0" y1="957.8" x2="308.0" y2="979.3"/>
<line x1="316.6" y1="957.8" x2="316.6" y2="979.3"/>
<line x1="319.4" y1="957.8" x2="319.4" y2="979.3"/>
<line x1="327.5" y1="957.8" x2="327.5" y2="979.3"/>
<line x1="342.7" y1="957.8" x2="342.7" y2="979.3"/>
<line x1="349.7" y1="957.8" x2="349.7" y2="979.3"/>
<line x1="358.2" y1="957.8" x2="358.2" y2="979.3"/>
<line x1="371.3" y1="957.8" x2="371.3" y2="979.3"/>
<line x1="377.5" y1="957.8" x2="377.5" y2="979.3"/>
<line x1="381.1" y1="957.8" x2="381.1" y2="979.3"/>
<line x1="399.4" y1="957.8" x2="399.4" y2="979.3"/>
<line x1="402.3" y1="957.8" x2="402.3" y2="979.3"/>
<line x1="407.2" y1="957.8" x2="407.2" y2="979.3"/>
<line x1="419.5" y1="957.8" x2="419.5" y2="979.3"/>
<line x1="427.7" y1="957.8" x2="427.7" y2="979.3"/>
<line x1="436.2" y1="957.8" x2="436.2" y2="979.3"/>
<line x1="437.9" y1="957.8" x2="437.9" y2="979.3"/>
<line x1="439.5" y1="957.8" x2="439.5" y2="979.3"/>
<line x1="452.2" y1="957.8" x2="452.2" y2="979.3"/>
<line x1="461.0" y1="957.8" x2="461.0" y2="979.3"/>
<line x1="465.3" y1="957.8" x2="465.3" y2="979.3"/>
<line x1="471.8" y1="957.8" x2="471.8" y2="979.3"/>
<line x1="473.0" y1="957.8" x2="473.0" y2="979.3"/>
<line x1="475.7" y1="957.8" x2="475.7" y2="979.3"/>
<line x1="479.5" y1="957.8" x2="479.5" y2="979.3"/>
<line x1="491.4" y1="957.8" x2="491.4" y2="979.3"/>
<line x1="495.0" y1="957.8" x2="495.0" y2="979.3"/>
<line x1="497.9" y1="957.8" x2="497.9" y2="979.3"/>
<line x1="499.9" y1="957.8" x2="499.9" y2="979.3"/>
<line x1="503.1" y1="957.8" x2="503.1" y2="979.3"/>
<line x1="506.4" y1="957.8" x2="506.4" y2="979.3"/>
<line x1="508.0" y1="957.8" x2="508.0" y2="979.3"/>
<line x1="524.4" y1="957.8" x2="524.4" y2="979.3"/>
<line x1="540.7" y1="957.8" x2="540.7" y2="979.3"/>
<line x1="555.7" y1="957.8" x2="555.7" y2="979.3"/>
<line x1="559.5" y1="957.8" x2="559.5" y2="979.3"/>
<line x1="564.4" y1="957.8" x2="564.4" y2="979.3"/>
<line x1="570.1" y1="957.8" x2="570.1" y2="979.3"/>
<line x1="582.3" y1="957.8" x2="582.3" y2="979.3"/>
<line x1="592.9" y1="957.8" x2="592.9" y2="979.3"/>
<line x1="620.7" y1="957.8" x2="620.7" y2="979.3"/>
<line x1="638.6" y1="957.8" x2="638.6" y2="979.3"/>
<line x1="648.1" y1="957.8" x2="648.1" y2="979.3"/>
<line x1="650.0" y1="957.8" x2="650.0" y2="979.3"/>
<line x1="651.0" y1="957.8" x2="651.0" y2="979.3"/>
<line x1="664.7" y1="957.8" x2="664.7" y2="979.3"/>
<line x1="670.9" y1="957.8" x2="670.9" y2="979.3"/>
<line x1="701.9" y1="957.8" x2="701.9" y2="979.3"/>
<line x1="703.2" y1="957.8" x2="703.2" y2="979.3"/>
<line x1="710.9" y1="957.8" x2="710.9" y2="979.3"/>
<line x1="732.1" y1="957.8" x2="732.1" y2="979.3"/>
<line x1="756.6" y1="957.8" x2="756.6" y2="979.3"/>
<line x1="795.8" y1="957.8" x2="795.8" y2="979.3"/>
<line x1="801.5" y1="957.8" x2="801.5" y2="979.3"/>
<line x1="820.3" y1="957.8" x2="820.3" y2="979.3"/>
<line x1="827.6" y1="957.8" x2="827.6" y2="979.3"/>
<line x1="839.9" y1="957.8" x2="839.9" y2="979.3"/>
<g stroke="#555" stroke-width="1"><line x1="491" y1="773" x2="491" y2="778"/></g>
</g>
<line x1="508.4" y1="767" x2="508.4" y2="952" stroke="#d0141c" stroke-width="4" stroke-dasharray="12 22.3" stroke-linecap="round"/>
<line x1="543.5" y1="767" x2="543.5" y2="952" stroke="#d0141c" stroke-width="4" stroke-dasharray="12 22.3" stroke-linecap="round"/>
<line x1="482.7" y1="955" x2="482.7" y2="1140" stroke="#d0141c" stroke-width="4" stroke-dasharray="12 22.6" stroke-linecap="round"/>
<line x1="569.9" y1="955" x2="569.9" y2="1140" stroke="#d0141c" stroke-width="4" stroke-dasharray="12 22.6" stroke-linecap="round"/>
<path d="M201.3,1140.5 L201.3,764.4 L852.5,764.4 L852.5,1140.5 Z M201.3,952.6 L852.5,952.6" fill="none" stroke="#000" stroke-width="5.5" stroke-linejoin="round"/>
<text transform="translate(177.70,761.60) scale(1.0,1.087)" x="0" y="13.66" font-size="40.4" text-anchor="end" font-weight="bold">2.0</text>
<text transform="translate(177.70,855.20) scale(1.0,1.087)" x="0" y="13.66" font-size="40.4" text-anchor="end" font-weight="bold">1.0</text>
<text transform="translate(177.70,949.80) scale(1.0,1.087)" x="0" y="13.66" font-size="40.4" text-anchor="end" font-weight="bold">0.0</text>
<text transform="translate(177.70,1043.70) scale(1.0,1.087)" x="0" y="13.66" font-size="40.4" text-anchor="end" font-weight="bold">1.0</text>
<text transform="translate(177.70,1137.70) scale(1.0,1.087)" x="0" y="13.66" font-size="40.4" text-anchor="end" font-weight="bold">0.0</text>
<text transform="translate(200.80,1178.60) scale(1.0,1.061)" x="0" y="13.45" font-size="39.8" text-anchor="middle" font-weight="bold">-1.0</text>
<text transform="translate(363.40,1178.60) scale(1.0,1.061)" x="0" y="13.45" font-size="39.8" text-anchor="middle" font-weight="bold">-0.5</text>
<text transform="translate(526.00,1178.60) scale(1.0,1.061)" x="0" y="13.45" font-size="39.8" text-anchor="middle" font-weight="bold">0.0</text>
<text transform="translate(688.60,1178.60) scale(1.0,1.061)" x="0" y="13.45" font-size="39.8" text-anchor="middle" font-weight="bold">0.5</text>
<text transform="translate(851.20,1178.60) scale(1.0,1.061)" x="0" y="13.45" font-size="39.8" text-anchor="middle" font-weight="bold">1.0</text>
<text transform="translate(0.10,724.35) scale(1.0000,0.9592)" font-size="51" font-weight="bold" style="font-style:italic;white-space:pre" xml:space="preserve">(c)</text>
<text transform="translate(95.40,1116.00) rotate(-90) scale(1.0034,0.9735)" font-size="46" font-weight="bold" style="white-space:pre" xml:space="preserve">Transmission</text>
<text transform="translate(401.02,1237.46) scale(0.9944,0.9636)" font-size="45.5" font-weight="bold" style="white-space:pre" xml:space="preserve">Energy (eV)</text>
<text transform="translate(665.51,836.20) scale(0.9980,1.0214)" font-size="40.5" font-weight="bold" style="font-style:italic;white-space:pre" xml:space="preserve">V<tspan font-size="24" dy="13.9">b</tspan><tspan dy="-13.9">=0.1V</tspan></text>
<text transform="translate(665.51,1021.30) scale(0.9977,1.0214)" font-size="40.5" font-weight="bold" style="font-style:italic;white-space:pre" xml:space="preserve">V<tspan font-size="24" dy="14.2">b</tspan><tspan dy="-14.2">=0.25V</tspan></text>
<defs>
<radialGradient id="gB" cx="0.56" cy="0.4" r="0.66" fx="0.6" fy="0.34">
 <stop offset="0" stop-color="#e4e0ff"/><stop offset="0.1" stop-color="#7c72ff"/><stop offset="0.55" stop-color="#5a4ef8"/><stop offset="0.82" stop-color="#3e32cc"/><stop offset="1" stop-color="#1c1272"/></radialGradient>
<radialGradient id="gY" cx="0.56" cy="0.4" r="0.66" fx="0.6" fy="0.34">
 <stop offset="0" stop-color="#ffffec"/><stop offset="0.1" stop-color="#fafa62"/><stop offset="0.55" stop-color="#f6f43a"/><stop offset="0.82" stop-color="#d8d424"/><stop offset="1" stop-color="#707010"/></radialGradient>
<radialGradient id="gC" cx="0.56" cy="0.4" r="0.66" fx="0.6" fy="0.34">
 <stop offset="0" stop-color="#f6ffff"/><stop offset="0.1" stop-color="#aaeef0"/><stop offset="0.55" stop-color="#8adcdc"/><stop offset="0.82" stop-color="#5eb2b4"/><stop offset="1" stop-color="#2a6a6c"/></radialGradient>
<radialGradient id="oB" cx="0.5" cy="0.5" r="0.6" fx="0.6" fy="0.3">
 <stop offset="0" stop-color="#9a9aff"/><stop offset="0.25" stop-color="#2a2af0"/><stop offset="0.8" stop-color="#1414d0"/><stop offset="1" stop-color="#0c0c9a"/></radialGradient>
<radialGradient id="oG" cx="0.5" cy="0.5" r="0.6" fx="0.6" fy="0.3">
 <stop offset="0" stop-color="#d4f8d4"/><stop offset="0.2" stop-color="#7ed488"/><stop offset="0.7" stop-color="#62bc6c"/><stop offset="1" stop-color="#347c40"/></radialGradient>
<radialGradient id="oS" cx="0.5" cy="0.5" r="0.6" fx="0.6" fy="0.3">
 <stop offset="0" stop-color="#a8c4f0"/><stop offset="0.25" stop-color="#3c70c4"/><stop offset="0.8" stop-color="#2c5cb0"/><stop offset="1" stop-color="#1a3c80"/></radialGradient>
</defs>
<clipPath id="dclip0"><rect x="1150.6" y="555.7" width="647.9000000000001" height="202.5999999999999"/></clipPath>
<g clip-path="url(#dclip0)">
<ellipse cx="1141.8" cy="598.5" rx="7.3" ry="6.4" fill="url(#gB)"/>
<ellipse cx="1188.0" cy="598.5" rx="7.3" ry="6.4" fill="url(#gB)"/>
<ellipse cx="1234.2" cy="598.5" rx="7.3" ry="6.4" fill="url(#gB)"/>
<ellipse cx="1280.3" cy="598.5" rx="7.3" ry="6.4" fill="url(#gB)"/>
<ellipse cx="1326.5" cy="598.5" rx="7.3" ry="6.4" fill="url(#gB)"/>
<ellipse cx="1372.6" cy="598.5" rx="7.3" ry="6.4" fill="url(#gC)"/>
<ellipse cx="1418.8" cy="598.5" rx="7.3" ry="6.4" fill="url(#gC)"/>
<ellipse cx="1464.9" cy="598.5" rx="7.3" ry="6.4" fill="url(#gC)"/>
<ellipse cx="1511.0" cy="598.5" rx="7.3" ry="6.4" fill="url(#gC)"/>
<ellipse cx="1557.2" cy="598.5" rx="7.3" ry="6.4" fill="url(#gC)"/>
<ellipse cx="1603.3" cy="598.5" rx="7.3" ry="6.4" fill="url(#gC)"/>
<ellipse cx="1649.5" cy="598.5" rx="7.3" ry="6.4" fill="url(#gB)"/>
<ellipse cx="1695.7" cy="598.5" rx="7.3" ry="6.4" fill="url(#gB)"/>
<ellipse cx="1741.8" cy="598.5" rx="7.3" ry="6.4" fill="url(#gB)"/>
<ellipse cx="1787.9" cy="598.5" rx="7.3" ry="6.4" fill="url(#gB)"/>
<ellipse cx="1164.9" cy="633.8" rx="7.3" ry="6.4" fill="url(#gB)"/>
<ellipse cx="1211.1" cy="633.8" rx="7.3" ry="6.4" fill="url(#gB)"/>
<ellipse cx="1257.2" cy="633.8" rx="7.3" ry="6.4" fill="url(#gB)"/>
<ellipse cx="1303.4" cy="633.8" rx="7.3" ry="6.4" fill="url(#gB)"/>
<ellipse cx="1349.5" cy="633.8" rx="7.3" ry="6.4" fill="url(#gC)"/>
<ellipse cx="1395.7" cy="633.8" rx="7.3" ry="6.4" fill="url(#gC)"/>
<ellipse cx="1441.8" cy="633.8" rx="7.3" ry="6.4" fill="url(#gC)"/>
<ellipse cx="1488.0" cy="633.8" rx="7.3" ry="6.4" fill="url(#gC)"/>
<ellipse cx="1534.1" cy="633.8" rx="7.3" ry="6.4" fill="url(#gC)"/>
<ellipse cx="1580.3" cy="633.8" rx="7.3" ry="6.4" fill="url(#gC)"/>
<ellipse cx="1626.4" cy="633.8" rx="7.3" ry="6.4" fill="url(#gB)"/>
<ellipse cx="1672.6" cy="633.8" rx="7.3" ry="6.4" fill="url(#gB)"/>
<ellipse cx="1718.7" cy="633.8" rx="7.3" ry="6.4" fill="url(#gB)"/>
<ellipse cx="1764.9" cy="633.8" rx="7.3" ry="6.4" fill="url(#gB)"/>
<ellipse cx="1811.0" cy="633.8" rx="7.3" ry="6.4" fill="url(#gB)"/>
<ellipse cx="1141.8" cy="667.7" rx="7.3" ry="6.4" fill="url(#gB)"/>
<ellipse cx="1188.0" cy="667.7" rx="7.3" ry="6.4" fill="url(#gB)"/>
<ellipse cx="1234.2" cy="667.7" rx="7.3" ry="6.4" fill="url(#gB)"/>
<ellipse cx="1280.3" cy="667.7" rx="7.3" ry="6.4" fill="url(#gB)"/>
<ellipse cx="1326.5" cy="667.7" rx="7.3" ry="6.4" fill="url(#gB)"/>
<ellipse cx="1372.6" cy="667.7" rx="7.3" ry="6.4" fill="url(#gC)"/>
<ellipse cx="1418.8" cy="667.7" rx="7.3" ry="6.4" fill="url(#gC)"/>
<ellipse cx="1464.9" cy="667.7" rx="7.3" ry="6.4" fill="url(#gC)"/>
<ellipse cx="1511.0" cy="667.7" rx="7.3" ry="6.4" fill="url(#gC)"/>
<ellipse cx="1557.2" cy="667.7" rx="7.3" ry="6.4" fill="url(#gC)"/>
<ellipse cx="1603.3" cy="667.7" rx="7.3" ry="6.4" fill="url(#gC)"/>
<ellipse cx="1649.5" cy="667.7" rx="7.3" ry="6.4" fill="url(#gB)"/>
<ellipse cx="1695.7" cy="667.7" rx="7.3" ry="6.4" fill="url(#gB)"/>
<ellipse cx="1741.8" cy="667.7" rx="7.3" ry="6.4" fill="url(#gB)"/>
<ellipse cx="1787.9" cy="667.7" rx="7.3" ry="6.4" fill="url(#gB)"/>
<ellipse cx="1164.9" cy="703.4" rx="7.3" ry="6.4" fill="url(#gB)"/>
<ellipse cx="1211.1" cy="703.4" rx="7.3" ry="6.4" fill="url(#gB)"/>
<ellipse cx="1257.2" cy="703.4" rx="7.3" ry="6.4" fill="url(#gB)"/>
<ellipse cx="1303.4" cy="703.4" rx="7.3" ry="6.4" fill="url(#gB)"/>
<ellipse cx="1349.5" cy="703.4" rx="7.3" ry="6.4" fill="url(#gC)"/>
<ellipse cx="1395.7" cy="703.4" rx="7.3" ry="6.4" fill="url(#gC)"/>
<ellipse cx="1441.8" cy="703.4" rx="7.3" ry="6.4" fill="url(#gC)"/>
<ellipse cx="1488.0" cy="703.4" rx="7.3" ry="6.4" fill="url(#gC)"/>
<ellipse cx="1534.1" cy="703.4" rx="7.3" ry="6.4" fill="url(#gC)"/>
<ellipse cx="1580.3" cy="703.4" rx="7.3" ry="6.4" fill="url(#gC)"/>
<ellipse cx="1626.4" cy="703.4" rx="7.3" ry="6.4" fill="url(#gB)"/>
<ellipse cx="1672.6" cy="703.4" rx="7.3" ry="6.4" fill="url(#gB)"/>
<ellipse cx="1718.7" cy="703.4" rx="7.3" ry="6.4" fill="url(#gB)"/>
<ellipse cx="1764.9" cy="703.4" rx="7.3" ry="6.4" fill="url(#gB)"/>
<ellipse cx="1811.0" cy="703.4" rx="7.3" ry="6.4" fill="url(#gB)"/>
<line x1="1141.8" y1="598.5" x2="1130.3" y2="603.9" stroke="#5446f2" stroke-width="2.8"/>
<line x1="1118.8" y1="609.3" x2="1130.3" y2="603.9" stroke="#f2f030" stroke-width="2.8"/>
<line x1="1141.8" y1="598.5" x2="1153.4" y2="603.9" stroke="#5446f2" stroke-width="2.8"/>
<line x1="1164.9" y1="609.3" x2="1153.4" y2="603.9" stroke="#f2f030" stroke-width="2.8"/>
<line x1="1118.8" y1="633.8" x2="1130.3" y2="639.5" stroke="#5446f2" stroke-width="2.8"/>
<line x1="1141.8" y1="645.1" x2="1130.3" y2="639.5" stroke="#f2f030" stroke-width="2.8"/>
<line x1="1141.8" y1="645.1" x2="1141.8" y2="656.4" stroke="#f2f030" stroke-width="2.8"/>
<line x1="1141.8" y1="667.7" x2="1141.8" y2="656.4" stroke="#5446f2" stroke-width="2.8"/>
<line x1="1141.8" y1="667.7" x2="1130.3" y2="673.4" stroke="#5446f2" stroke-width="2.8"/>
<line x1="1118.8" y1="679.0" x2="1130.3" y2="673.4" stroke="#f2f030" stroke-width="2.8"/>
<line x1="1141.8" y1="667.7" x2="1153.4" y2="673.4" stroke="#5446f2" stroke-width="2.8"/>
<line x1="1164.9" y1="679.0" x2="1153.4" y2="673.4" stroke="#f2f030" stroke-width="2.8"/>
<line x1="1118.8" y1="703.4" x2="1130.3" y2="709.0" stroke="#5446f2" stroke-width="2.8"/>
<line x1="1141.8" y1="714.7" x2="1130.3" y2="709.0" stroke="#f2f030" stroke-width="2.8"/>
<line x1="1188.0" y1="598.5" x2="1176.5" y2="603.9" stroke="#5446f2" stroke-width="2.8"/>
<line x1="1164.9" y1="609.3" x2="1176.5" y2="603.9" stroke="#f2f030" stroke-width="2.8"/>
<line x1="1188.0" y1="598.5" x2="1199.5" y2="603.9" stroke="#5446f2" stroke-width="2.8"/>
<line x1="1211.1" y1="609.3" x2="1199.5" y2="603.9" stroke="#f2f030" stroke-width="2.8"/>
<line x1="1164.9" y1="609.3" x2="1164.9" y2="621.5" stroke="#f2f030" stroke-width="2.8"/>
<line x1="1164.9" y1="633.8" x2="1164.9" y2="621.5" stroke="#5446f2" stroke-width="2.8"/>
<line x1="1164.9" y1="633.8" x2="1153.4" y2="639.5" stroke="#5446f2" stroke-width="2.8"/>
<line x1="1141.8" y1="645.1" x2="1153.4" y2="639.5" stroke="#f2f030" stroke-width="2.8"/>
<line x1="1164.9" y1="633.8" x2="1176.5" y2="639.5" stroke="#5446f2" stroke-width="2.8"/>
<line x1="1188.0" y1="645.1" x2="1176.5" y2="639.5" stroke="#f2f030" stroke-width="2.8"/>
<line x1="1188.0" y1="645.1" x2="1188.0" y2="656.4" stroke="#f2f030" stroke-width="2.8"/>
<line x1="1188.0" y1="667.7" x2="1188.0" y2="656.4" stroke="#5446f2" stroke-width="2.8"/>
<line x1="1188.0" y1="667.7" x2="1176.5" y2="673.4" stroke="#5446f2" stroke-width="2.8"/>
<line x1="1164.9" y1="679.0" x2="1176.5" y2="673.4" stroke="#f2f030" stroke-width="2.8"/>
<line x1="1188.0" y1="667.7" x2="1199.5" y2="673.4" stroke="#5446f2" stroke-width="2.8"/>
<line x1="1211.1" y1="679.0" x2="1199.5" y2="673.4" stroke="#f2f030" stroke-width="2.8"/>
<line x1="1164.9" y1="679.0" x2="1164.9" y2="691.2" stroke="#f2f030" stroke-width="2.8"/>
<line x1="1164.9" y1="703.4" x2="1164.9" y2="691.2" stroke="#5446f2" stroke-width="2.8"/>
<line x1="1164.9" y1="703.4" x2="1153.4" y2="709.0" stroke="#5446f2" stroke-width="2.8"/>
<line x1="1141.8" y1="714.7" x2="1153.4" y2="709.0" stroke="#f2f030" stroke-width="2.8"/>
<line x1="1164.9" y1="703.4" x2="1176.5" y2="709.0" stroke="#5446f2" stroke-width="2.8"/>
<line x1="1188.0" y1="714.7" x2="1176.5" y2="709.0" stroke="#f2f030" stroke-width="2.8"/>
<line x1="1234.2" y1="598.5" x2="1222.6" y2="603.9" stroke="#5446f2" stroke-width="2.8"/>
<line x1="1211.1" y1="609.3" x2="1222.6" y2="603.9" stroke="#f2f030" stroke-width="2.8"/>
<line x1="1234.2" y1="598.5" x2="1245.7" y2="603.9" stroke="#5446f2" stroke-width="2.8"/>
<line x1="1257.2" y1="609.3" x2="1245.7" y2="603.9" stroke="#f2f030" stroke-width="2.8"/>
<line x1="1211.1" y1="609.3" x2="1211.1" y2="621.5" stroke="#f2f030" stroke-width="2.8"/>
<line x1="1211.1" y1="633.8" x2="1211.1" y2="621.5" stroke="#5446f2" stroke-width="2.8"/>
<line x1="1211.1" y1="633.8" x2="1199.5" y2="639.5" stroke="#5446f2" stroke-width="2.8"/>
<line x1="1188.0" y1="645.1" x2="1199.5" y2="639.5" stroke="#f2f030" stroke-width="2.8"/>
<line x1="1211.1" y1="633.8" x2="1222.6" y2="639.5" stroke="#5446f2" stroke-width="2.8"/>
<line x1="1234.2" y1="645.1" x2="1222.6" y2="639.5" stroke="#f2f030" stroke-width="2.8"/>
<line x1="1234.2" y1="645.1" x2="1234.2" y2="656.4" stroke="#f2f030" stroke-width="2.8"/>
<line x1="1234.2" y1="667.7" x2="1234.2" y2="656.4" stroke="#5446f2" stroke-width="2.8"/>
<line x1="1234.2" y1="667.7" x2="1222.6" y2="673.4" stroke="#5446f2" stroke-width="2.8"/>
<line x1="1211.1" y1="679.0" x2="1222.6" y2="673.4" stroke="#f2f030" stroke-width="2.8"/>
<line x1="1234.2" y1="667.7" x2="1245.7" y2="673.4" stroke="#5446f2" stroke-width="2.8"/>
<line x1="1257.2" y1="679.0" x2="1245.7" y2="673.4" stroke="#f2f030" stroke-width="2.8"/>
<line x1="1211.1" y1="679.0" x2="1211.1" y2="691.2" stroke="#f2f030" stroke-width="2.8"/>
<line x1="1211.1" y1="703.4" x2="1211.1" y2="691.2" stroke="#5446f2" stroke-width="2.8"/>
<line x1="1211.1" y1="703.4" x2="1199.5" y2="709.0" stroke="#5446f2" stroke-width="2.8"/>
<line x1="1188.0" y1="714.7" x2="1199.5" y2="709.0" stroke="#f2f030" stroke-width="2.8"/>
<line x1="1211.1" y1="703.4" x2="1222.6" y2="709.0" stroke="#5446f2" stroke-width="2.8"/>
<line x1="1234.2" y1="714.7" x2="1222.6" y2="709.0" stroke="#f2f030" stroke-width="2.8"/>
<line x1="1280.3" y1="598.5" x2="1268.8" y2="603.9" stroke="#5446f2" stroke-width="2.8"/>
<line x1="1257.2" y1="609.3" x2="1268.8" y2="603.9" stroke="#f2f030" stroke-width="2.8"/>
<line x1="1280.3" y1="598.5" x2="1291.8" y2="603.9" stroke="#5446f2" stroke-width="2.8"/>
<line x1="1303.4" y1="609.3" x2="1291.8" y2="603.9" stroke="#f2f030" stroke-width="2.8"/>
<line x1="1257.2" y1="609.3" x2="1257.2" y2="621.5" stroke="#f2f030" stroke-width="2.8"/>
<line x1="1257.2" y1="633.8" x2="1257.2" y2="621.5" stroke="#5446f2" stroke-width="2.8"/>
<line x1="1257.2" y1="633.8" x2="1245.7" y2="639.5" stroke="#5446f2" stroke-width="2.8"/>
<line x1="1234.2" y1="645.1" x2="1245.7" y2="639.5" stroke="#f2f030" stroke-width="2.8"/>
<line x1="1257.2" y1="633.8" x2="1268.8" y2="639.5" stroke="#5446f2" stroke-width="2.8"/>
<line x1="1280.3" y1="645.1" x2="1268.8" y2="639.5" stroke="#f2f030" stroke-width="2.8"/>
<line x1="1280.3" y1="645.1" x2="1280.3" y2="656.4" stroke="#f2f030" stroke-width="2.8"/>
<line x1="1280.3" y1="667.7" x2="1280.3" y2="656.4" stroke="#5446f2" stroke-width="2.8"/>
<line x1="1280.3" y1="667.7" x2="1268.8" y2="673.4" stroke="#5446f2" stroke-width="2.8"/>
<line x1="1257.2" y1="679.0" x2="1268.8" y2="673.4" stroke="#f2f030" stroke-width="2.8"/>
<line x1="1280.3" y1="667.7" x2="1291.8" y2="673.4" stroke="#5446f2" stroke-width="2.8"/>
<line x1="1303.4" y1="679.0" x2="1291.8" y2="673.4" stroke="#f2f030" stroke-width="2.8"/>
<line x1="1257.2" y1="679.0" x2="1257.2" y2="691.2" stroke="#f2f030" stroke-width="2.8"/>
<line x1="1257.2" y1="703.4" x2="1257.2" y2="691.2" stroke="#5446f2" stroke-width="2.8"/>
<line x1="1257.2" y1="703.4" x2="1245.7" y2="709.0" stroke="#5446f2" stroke-width="2.8"/>
<line x1="1234.2" y1="714.7" x2="1245.7" y2="709.0" stroke="#f2f030" stroke-width="2.8"/>
<line x1="1257.2" y1="703.4" x2="1268.8" y2="709.0" stroke="#5446f2" stroke-width="2.8"/>
<line x1="1280.3" y1="714.7" x2="1268.8" y2="709.0" stroke="#f2f030" stroke-width="2.8"/>
<line x1="1326.5" y1="598.5" x2="1314.9" y2="603.9" stroke="#5446f2" stroke-width="2.8"/>
<line x1="1303.4" y1="609.3" x2="1314.9" y2="603.9" stroke="#f2f030" stroke-width="2.8"/>
<line x1="1326.5" y1="598.5" x2="1338.0" y2="603.9" stroke="#5446f2" stroke-width="2.8"/>
<line x1="1349.5" y1="609.3" x2="1338.0" y2="603.9" stroke="#f2f030" stroke-width="2.8"/>
<line x1="1303.4" y1="609.3" x2="1303.4" y2="621.5" stroke="#f2f030" stroke-width="2.8"/>
<line x1="1303.4" y1="633.8" x2="1303.4" y2="621.5" stroke="#5446f2" stroke-width="2.8"/>
<line x1="1303.4" y1="633.8" x2="1291.8" y2="639.5" stroke="#5446f2" stroke-width="2.8"/>
<line x1="1280.3" y1="645.1" x2="1291.8" y2="639.5" stroke="#f2f030" stroke-width="2.8"/>
<line x1="1303.4" y1="633.8" x2="1314.9" y2="639.5" stroke="#5446f2" stroke-width="2.8"/>
<line x1="1326.5" y1="645.1" x2="1314.9" y2="639.5" stroke="#f2f030" stroke-width="2.8"/>
<line x1="1326.5" y1="645.1" x2="1326.5" y2="656.4" stroke="#f2f030" stroke-width="2.8"/>
<line x1="1326.5" y1="667.7" x2="1326.5" y2="656.4" stroke="#5446f2" stroke-width="2.8"/>
<line x1="1326.5" y1="667.7" x2="1314.9" y2="673.4" stroke="#5446f2" stroke-width="2.8"/>
<line x1="1303.4" y1="679.0" x2="1314.9" y2="673.4" stroke="#f2f030" stroke-width="2.8"/>
<line x1="1326.5" y1="667.7" x2="1338.0" y2="673.4" stroke="#5446f2" stroke-width="2.8"/>
<line x1="1349.5" y1="679.0" x2="1338.0" y2="673.4" stroke="#f2f030" stroke-width="2.8"/>
<line x1="1303.4" y1="679.0" x2="1303.4" y2="691.2" stroke="#f2f030" stroke-width="2.8"/>
<line x1="1303.4" y1="703.4" x2="1303.4" y2="691.2" stroke="#5446f2" stroke-width="2.8"/>
<line x1="1303.4" y1="703.4" x2="1291.8" y2="709.0" stroke="#5446f2" stroke-width="2.8"/>
<line x1="1280.3" y1="714.7" x2="1291.8" y2="709.0" stroke="#f2f030" stroke-width="2.8"/>
<line x1="1303.4" y1="703.4" x2="1314.9" y2="709.0" stroke="#5446f2" stroke-width="2.8"/>
<line x1="1326.5" y1="714.7" x2="1314.9" y2="709.0" stroke="#f2f030" stroke-width="2.8"/>
<line x1="1372.6" y1="598.5" x2="1361.1" y2="603.9" stroke="#88d2d6" stroke-width="2.8"/>
<line x1="1372.6" y1="598.5" x2="1361.1" y2="603.9" stroke="#e4fafa" stroke-width="0.9"/>
<line x1="1349.5" y1="609.3" x2="1361.1" y2="603.9" stroke="#f2f030" stroke-width="2.8"/>
<line x1="1372.6" y1="598.5" x2="1384.1" y2="603.9" stroke="#88d2d6" stroke-width="2.8"/>
<line x1="1372.6" y1="598.5" x2="1384.1" y2="603.9" stroke="#e4fafa" stroke-width="0.9"/>
<line x1="1395.7" y1="609.3" x2="1384.1" y2="603.9" stroke="#f2f030" stroke-width="2.8"/>
<line x1="1349.5" y1="609.3" x2="1349.5" y2="621.5" stroke="#f2f030" stroke-width="2.8"/>
<line x1="1349.5" y1="633.8" x2="1349.5" y2="621.5" stroke="#4f9ca0" stroke-width="2.8"/>
<line x1="1349.5" y1="633.8" x2="1338.0" y2="639.5" stroke="#88d2d6" stroke-width="2.8"/>
<line x1="1349.5" y1="633.8" x2="1338.0" y2="639.5" stroke="#e4fafa" stroke-width="0.9"/>
<line x1="1326.5" y1="645.1" x2="1338.0" y2="639.5" stroke="#f2f030" stroke-width="2.8"/>
<line x1="1349.5" y1="633.8" x2="1361.1" y2="639.5" stroke="#88d2d6" stroke-width="2.8"/>
<line x1="1349.5" y1="633.8" x2="1361.1" y2="639.5" stroke="#e4fafa" stroke-width="0.9"/>
<line x1="1372.6" y1="645.1" x2="1361.1" y2="639.5" stroke="#f2f030" stroke-width="2.8"/>
<line x1="1372.6" y1="645.1" x2="1372.6" y2="656.4" stroke="#f2f030" stroke-width="2.8"/>
<line x1="1372.6" y1="667.7" x2="1372.6" y2="656.4" stroke="#4f9ca0" stroke-width="2.8"/>
<line x1="1372.6" y1="667.7" x2="1361.1" y2="673.4" stroke="#88d2d6" stroke-width="2.8"/>
<line x1="1372.6" y1="667.7" x2="1361.1" y2="673.4" stroke="#e4fafa" stroke-width="0.9"/>
<line x1="1349.5" y1="679.0" x2="1361.1" y2="673.4" stroke="#f2f030" stroke-width="2.8"/>
<line x1="1372.6" y1="667.7" x2="1384.1" y2="673.4" stroke="#88d2d6" stroke-width="2.8"/>
<line x1="1372.6" y1="667.7" x2="1384.1" y2="673.4" stroke="#e4fafa" stroke-width="0.9"/>
<line x1="1395.7" y1="679.0" x2="1384.1" y2="673.4" stroke="#f2f030" stroke-width="2.8"/>
<line x1="1349.5" y1="679.0" x2="1349.5" y2="691.2" stroke="#f2f030" stroke-width="2.8"/>
<line x1="1349.5" y1="703.4" x2="1349.5" y2="691.2" stroke="#4f9ca0" stroke-width="2.8"/>
<line x1="1349.5" y1="703.4" x2="1338.0" y2="709.0" stroke="#88d2d6" stroke-width="2.8"/>
<line x1="1349.5" y1="703.4" x2="1338.0" y2="709.0" stroke="#e4fafa" stroke-width="0.9"/>
<line x1="1326.5" y1="714.7" x2="1338.0" y2="709.0" stroke="#f2f030" stroke-width="2.8"/>
<line x1="1349.5" y1="703.4" x2="1361.1" y2="709.0" stroke="#88d2d6" stroke-width="2.8"/>
<line x1="1349.5" y1="703.4" x2="1361.1" y2="709.0" stroke="#e4fafa" stroke-width="0.9"/>
<line x1="1372.6" y1="714.7" x2="1361.1" y2="709.0" stroke="#f2f030" stroke-width="2.8"/>
<line x1="1418.8" y1="598.5" x2="1407.2" y2="603.9" stroke="#88d2d6" stroke-width="2.8"/>
<line x1="1418.8" y1="598.5" x2="1407.2" y2="603.9" stroke="#e4fafa" stroke-width="0.9"/>
<line x1="1395.7" y1="609.3" x2="1407.2" y2="603.9" stroke="#f2f030" stroke-width="2.8"/>
<line x1="1418.8" y1="598.5" x2="1430.3" y2="603.9" stroke="#88d2d6" stroke-width="2.8"/>
<line x1="1418.8" y1="598.5" x2="1430.3" y2="603.9" stroke="#e4fafa" stroke-width="0.9"/>
<line x1="1441.8" y1="609.3" x2="1430.3" y2="603.9" stroke="#f2f030" stroke-width="2.8"/>
<line x1="1395.7" y1="609.3" x2="1395.7" y2="621.5" stroke="#f2f030" stroke-width="2.8"/>
<line x1="1395.7" y1="633.8" x2="1395.7" y2="621.5" stroke="#4f9ca0" stroke-width="2.8"/>
<line x1="1395.7" y1="633.8" x2="1384.1" y2="639.5" stroke="#88d2d6" stroke-width="2.8"/>
<line x1="1395.7" y1="633.8" x2="1384.1" y2="639.5" stroke="#e4fafa" stroke-width="0.9"/>
<line x1="1372.6" y1="645.1" x2="1384.1" y2="639.5" stroke="#f2f030" stroke-width="2.8"/>
<line x1="1395.7" y1="633.8" x2="1407.2" y2="639.5" stroke="#88d2d6" stroke-width="2.8"/>
<line x1="1395.7" y1="633.8" x2="1407.2" y2="639.5" stroke="#e4fafa" stroke-width="0.9"/>
<line x1="1418.8" y1="645.1" x2="1407.2" y2="639.5" stroke="#f2f030" stroke-width="2.8"/>
<line x1="1418.8" y1="645.1" x2="1418.8" y2="656.4" stroke="#f2f030" stroke-width="2.8"/>
<line x1="1418.8" y1="667.7" x2="1418.8" y2="656.4" stroke="#4f9ca0" stroke-width="2.8"/>
<line x1="1418.8" y1="667.7" x2="1407.2" y2="673.4" stroke="#88d2d6" stroke-width="2.8"/>
<line x1="1418.8" y1="667.7" x2="1407.2" y2="673.4" stroke="#e4fafa" stroke-width="0.9"/>
<line x1="1395.7" y1="679.0" x2="1407.2" y2="673.4" stroke="#f2f030" stroke-width="2.8"/>
<line x1="1418.8" y1="667.7" x2="1430.3" y2="673.4" stroke="#88d2d6" stroke-width="2.8"/>
<line x1="1418.8" y1="667.7" x2="1430.3" y2="673.4" stroke="#e4fafa" stroke-width="0.9"/>
<line x1="1441.8" y1="679.0" x2="1430.3" y2="673.4" stroke="#f2f030" stroke-width="2.8"/>
<line x1="1395.7" y1="679.0" x2="1395.7" y2="691.2" stroke="#f2f030" stroke-width="2.8"/>
<line x1="1395.7" y1="703.4" x2="1395.7" y2="691.2" stroke="#4f9ca0" stroke-width="2.8"/>
<line x1="1395.7" y1="703.4" x2="1384.1" y2="709.0" stroke="#88d2d6" stroke-width="2.8"/>
<line x1="1395.7" y1="703.4" x2="1384.1" y2="709.0" stroke="#e4fafa" stroke-width="0.9"/>
<line x1="1372.6" y1="714.7" x2="1384.1" y2="709.0" stroke="#f2f030" stroke-width="2.8"/>
<line x1="1395.7" y1="703.4" x2="1407.2" y2="709.0" stroke="#88d2d6" stroke-width="2.8"/>
<line x1="1395.7" y1="703.4" x2="1407.2" y2="709.0" stroke="#e4fafa" stroke-width="0.9"/>
<line x1="1418.8" y1="714.7" x2="1407.2" y2="709.0" stroke="#f2f030" stroke-width="2.8"/>
<line x1="1464.9" y1="598.5" x2="1453.4" y2="603.9" stroke="#88d2d6" stroke-width="2.8"/>
<line x1="1464.9" y1="598.5" x2="1453.4" y2="603.9" stroke="#e4fafa" stroke-width="0.9"/>
<line x1="1441.8" y1="609.3" x2="1453.4" y2="603.9" stroke="#f2f030" stroke-width="2.8"/>
<line x1="1464.9" y1="598.5" x2="1476.4" y2="603.9" stroke="#88d2d6" stroke-width="2.8"/>
<line x1="1464.9" y1="598.5" x2="1476.4" y2="603.9" stroke="#e4fafa" stroke-width="0.9"/>
<line x1="1488.0" y1="609.3" x2="1476.4" y2="603.9" stroke="#f2f030" stroke-width="2.8"/>
<line x1="1441.8" y1="609.3" x2="1441.8" y2="621.5" stroke="#f2f030" stroke-width="2.8"/>
<line x1="1441.8" y1="633.8" x2="1441.8" y2="621.5" stroke="#4f9ca0" stroke-width="2.8"/>
<line x1="1441.8" y1="633.8" x2="1430.3" y2="639.5" stroke="#88d2d6" stroke-width="2.8"/>
<line x1="1441.8" y1="633.8" x2="1430.3" y2="639.5" stroke="#e4fafa" stroke-width="0.9"/>
<line x1="1418.8" y1="645.1" x2="1430.3" y2="639.5" stroke="#f2f030" stroke-width="2.8"/>
<line x1="1441.8" y1="633.8" x2="1453.4" y2="639.5" stroke="#88d2d6" stroke-width="2.8"/>
<line x1="1441.8" y1="633.8" x2="1453.4" y2="639.5" stroke="#e4fafa" stroke-width="0.9"/>
<line x1="1464.9" y1="645.1" x2="1453.4" y2="639.5" stroke="#f2f030" stroke-width="2.8"/>
<line x1="1464.9" y1="645.1" x2="1464.9" y2="656.4" stroke="#f2f030" stroke-width="2.8"/>
<line x1="1464.9" y1="667.7" x2="1464.9" y2="656.4" stroke="#4f9ca0" stroke-width="2.8"/>
<line x1="1464.9" y1="667.7" x2="1453.4" y2="673.4" stroke="#88d2d6" stroke-width="2.8"/>
<line x1="1464.9" y1="667.7" x2="1453.4" y2="673.4" stroke="#e4fafa" stroke-width="0.9"/>
<line x1="1441.8" y1="679.0" x2="1453.4" y2="673.4" stroke="#f2f030" stroke-width="2.8"/>
<line x1="1464.9" y1="667.7" x2="1476.4" y2="673.4" stroke="#88d2d6" stroke-width="2.8"/>
<line x1="1464.9" y1="667.7" x2="1476.4" y2="673.4" stroke="#e4fafa" stroke-width="0.9"/>
<line x1="1488.0" y1="679.0" x2="1476.4" y2="673.4" stroke="#f2f030" stroke-width="2.8"/>
<line x1="1441.8" y1="679.0" x2="1441.8" y2="691.2" stroke="#f2f030" stroke-width="2.8"/>
<line x1="1441.8" y1="703.4" x2="1441.8" y2="691.2" stroke="#4f9ca0" stroke-width="2.8"/>
<line x1="1441.8" y1="703.4" x2="1430.3" y2="709.0" stroke="#88d2d6" stroke-width="2.8"/>
<line x1="1441.8" y1="703.4" x2="1430.3" y2="709.0" stroke="#e4fafa" stroke-width="0.9"/>
<line x1="1418.8" y1="714.7" x2="1430.3" y2="709.0" stroke="#f2f030" stroke-width="2.8"/>
<line x1="1441.8" y1="703.4" x2="1453.4" y2="709.0" stroke="#88d2d6" stroke-width="2.8"/>
<line x1="1441.8" y1="703.4" x2="1453.4" y2="709.0" stroke="#e4fafa" stroke-width="0.9"/>
<line x1="1464.9" y1="714.7" x2="1453.4" y2="709.0" stroke="#f2f030" stroke-width="2.8"/>
<line x1="1511.0" y1="598.5" x2="1499.5" y2="603.9" stroke="#88d2d6" stroke-width="2.8"/>
<line x1="1511.0" y1="598.5" x2="1499.5" y2="603.9" stroke="#e4fafa" stroke-width="0.9"/>
<line x1="1488.0" y1="609.3" x2="1499.5" y2="603.9" stroke="#f2f030" stroke-width="2.8"/>
<line x1="1511.0" y1="598.5" x2="1522.6" y2="603.9" stroke="#88d2d6" stroke-width="2.8"/>
<line x1="1511.0" y1="598.5" x2="1522.6" y2="603.9" stroke="#e4fafa" stroke-width="0.9"/>
<line x1="1534.1" y1="609.3" x2="1522.6" y2="603.9" stroke="#f2f030" stroke-width="2.8"/>
<line x1="1488.0" y1="609.3" x2="1488.0" y2="621.5" stroke="#f2f030" stroke-width="2.8"/>
<line x1="1488.0" y1="633.8" x2="1488.0" y2="621.5" stroke="#4f9ca0" stroke-width="2.8"/>
<line x1="1488.0" y1="633.8" x2="1476.4" y2="639.5" stroke="#88d2d6" stroke-width="2.8"/>
<line x1="1488.0" y1="633.8" x2="1476.4" y2="639.5" stroke="#e4fafa" stroke-width="0.9"/>
<line x1="1464.9" y1="645.1" x2="1476.4" y2="639.5" stroke="#f2f030" stroke-width="2.8"/>
<line x1="1488.0" y1="633.8" x2="1499.5" y2="639.5" stroke="#88d2d6" stroke-width="2.8"/>
<line x1="1488.0" y1="633.8" x2="1499.5" y2="639.5" stroke="#e4fafa" stroke-width="0.9"/>
<line x1="1511.0" y1="645.1" x2="1499.5" y2="639.5" stroke="#f2f030" stroke-width="2.8"/>
<line x1="1511.0" y1="645.1" x2="1511.0" y2="656.4" stroke="#f2f030" stroke-width="2.8"/>
<line x1="1511.0" y1="667.7" x2="1511.0" y2="656.4" stroke="#4f9ca0" stroke-width="2.8"/>
<line x1="1511.0" y1="667.7" x2="1499.5" y2="673.4" stroke="#88d2d6" stroke-width="2.8"/>
<line x1="1511.0" y1="667.7" x2="1499.5" y2="673.4" stroke="#e4fafa" stroke-width="0.9"/>
<line x1="1488.0" y1="679.0" x2="1499.5" y2="673.4" stroke="#f2f030" stroke-width="2.8"/>
<line x1="1511.0" y1="667.7" x2="1522.6" y2="673.4" stroke="#88d2d6" stroke-width="2.8"/>
<line x1="1511.0" y1="667.7" x2="1522.6" y2="673.4" stroke="#e4fafa" stroke-width="0.9"/>
<line x1="1534.1" y1="679.0" x2="1522.6" y2="673.4" stroke="#f2f030" stroke-width="2.8"/>
<line x1="1488.0" y1="679.0" x2="1488.0" y2="691.2" stroke="#f2f030" stroke-width="2.8"/>
<line x1="1488.0" y1="703.4" x2="1488.0" y2="691.2" stroke="#4f9ca0" stroke-width="2.8"/>
<line x1="1488.0" y1="703.4" x2="1476.4" y2="709.0" stroke="#88d2d6" stroke-width="2.8"/>
<line x1="1488.0" y1="703.4" x2="1476.4" y2="709.0" stroke="#e4fafa" stroke-width="0.9"/>
<line x1="1464.9" y1="714.7" x2="1476.4" y2="709.0" stroke="#f2f030" stroke-width="2.8"/>
<line x1="1488.0" y1="703.4" x2="1499.5" y2="709.0" stroke="#88d2d6" stroke-width="2.8"/>
<line x1="1488.0" y1="703.4" x2="1499.5" y2="709.0" stroke="#e4fafa" stroke-width="0.9"/>
<line x1="1511.0" y1="714.7" x2="1499.5" y2="709.0" stroke="#f2f030" stroke-width="2.8"/>
<line x1="1557.2" y1="598.5" x2="1545.7" y2="603.9" stroke="#88d2d6" stroke-width="2.8"/>
<line x1="1557.2" y1="598.5" x2="1545.7" y2="603.9" stroke="#e4fafa" stroke-width="0.9"/>
<line x1="1534.1" y1="609.3" x2="1545.7" y2="603.9" stroke="#f2f030" stroke-width="2.8"/>
<line x1="1557.2" y1="598.5" x2="1568.7" y2="603.9" stroke="#88d2d6" stroke-width="2.8"/>
<line x1="1557.2" y1="598.5" x2="1568.7" y2="603.9" stroke="#e4fafa" stroke-width="0.9"/>
<line x1="1580.3" y1="609.3" x2="1568.7" y2="603.9" stroke="#f2f030" stroke-width="2.8"/>
<line x1="1534.1" y1="609.3" x2="1534.1" y2="621.5" stroke="#f2f030" stroke-width="2.8"/>
<line x1="1534.1" y1="633.8" x2="1534.1" y2="621.5" stroke="#4f9ca0" stroke-width="2.8"/>
<line x1="1534.1" y1="633.8" x2="1522.6" y2="639.5" stroke="#88d2d6" stroke-width="2.8"/>
<line x1="1534.1" y1="633.8" x2="1522.6" y2="639.5" stroke="#e4fafa" stroke-width="0.9"/>
<line x1="1511.0" y1="645.1" x2="1522.6" y2="639.5" stroke="#f2f030" stroke-width="2.8"/>
<line x1="1534.1" y1="633.8" x2="1545.7" y2="639.5" stroke="#88d2d6" stroke-width="2.8"/>
<line x1="1534.1" y1="633.8" x2="1545.7" y2="639.5" stroke="#e4fafa" stroke-width="0.9"/>
<line x1="1557.2" y1="645.1" x2="1545.7" y2="639.5" stroke="#f2f030" stroke-width="2.8"/>
<line x1="1557.2" y1="645.1" x2="1557.2" y2="656.4" stroke="#f2f030" stroke-width="2.8"/>
<line x1="1557.2" y1="667.7" x2="1557.2" y2="656.4" stroke="#4f9ca0" stroke-width="2.8"/>
<line x1="1557.2" y1="667.7" x2="1545.7" y2="673.4" stroke="#88d2d6" stroke-width="2.8"/>
<line x1="1557.2" y1="667.7" x2="1545.7" y2="673.4" stroke="#e4fafa" stroke-width="0.9"/>
<line x1="1534.1" y1="679.0" x2="1545.7" y2="673.4" stroke="#f2f030" stroke-width="2.8"/>
<line x1="1557.2" y1="667.7" x2="1568.7" y2="673.4" stroke="#88d2d6" stroke-width="2.8"/>
<line x1="1557.2" y1="667.7" x2="1568.7" y2="673.4" stroke="#e4fafa" stroke-width="0.9"/>
<line x1="1580.3" y1="679.0" x2="1568.7" y2="673.4" stroke="#f2f030" stroke-width="2.8"/>
<line x1="1534.1" y1="679.0" x2="1534.1" y2="691.2" stroke="#f2f030" stroke-width="2.8"/>
<line x1="1534.1" y1="703.4" x2="1534.1" y2="691.2" stroke="#4f9ca0" stroke-width="2.8"/>
<line x1="1534.1" y1="703.4" x2="1522.6" y2="709.0" stroke="#88d2d6" stroke-width="2.8"/>
<line x1="1534.1" y1="703.4" x2="1522.6" y2="709.0" stroke="#e4fafa" stroke-width="0.9"/>
<line x1="1511.0" y1="714.7" x2="1522.6" y2="709.0" stroke="#f2f030" stroke-width="2.8"/>
<line x1="1534.1" y1="703.4" x2="1545.7" y2="709.0" stroke="#88d2d6" stroke-width="2.8"/>
<line x1="1534.1" y1="703.4" x2="1545.7" y2="709.0" stroke="#e4fafa" stroke-width="0.9"/>
<line x1="1557.2" y1="714.7" x2="1545.7" y2="709.0" stroke="#f2f030" stroke-width="2.8"/>
<line x1="1603.3" y1="598.5" x2="1591.8" y2="603.9" stroke="#88d2d6" stroke-width="2.8"/>
<line x1="1603.3" y1="598.5" x2="1591.8" y2="603.9" stroke="#e4fafa" stroke-width="0.9"/>
<line x1="1580.3" y1="609.3" x2="1591.8" y2="603.9" stroke="#f2f030" stroke-width="2.8"/>
<line x1="1603.3" y1="598.5" x2="1614.9" y2="603.9" stroke="#88d2d6" stroke-width="2.8"/>
<line x1="1603.3" y1="598.5" x2="1614.9" y2="603.9" stroke="#e4fafa" stroke-width="0.9"/>
<line x1="1626.4" y1="609.3" x2="1614.9" y2="603.9" stroke="#f2f030" stroke-width="2.8"/>
<line x1="1580.3" y1="609.3" x2="1580.3" y2="621.5" stroke="#f2f030" stroke-width="2.8"/>
<line x1="1580.3" y1="633.8" x2="1580.3" y2="621.5" stroke="#4f9ca0" stroke-width="2.8"/>
<line x1="1580.3" y1="633.8" x2="1568.7" y2="639.5" stroke="#88d2d6" stroke-width="2.8"/>
<line x1="1580.3" y1="633.8" x2="1568.7" y2="639.5" stroke="#e4fafa" stroke-width="0.9"/>
<line x1="1557.2" y1="645.1" x2="1568.7" y2="639.5" stroke="#f2f030" stroke-width="2.8"/>
<line x1="1580.3" y1="633.8" x2="1591.8" y2="639.5" stroke="#88d2d6" stroke-width="2.8"/>
<line x1="1580.3" y1="633.8" x2="1591.8" y2="639.5" stroke="#e4fafa" stroke-width="0.9"/>
<line x1="1603.3" y1="645.1" x2="1591.8" y2="639.5" stroke="#f2f030" stroke-width="2.8"/>
<line x1="1603.3" y1="645.1" x2="1603.3" y2="656.4" stroke="#f2f030" stroke-width="2.8"/>
<line x1="1603.3" y1="667.7" x2="1603.3" y2="656.4" stroke="#4f9ca0" stroke-width="2.8"/>
<line x1="1603.3" y1="667.7" x2="1591.8" y2="673.4" stroke="#88d2d6" stroke-width="2.8"/>
<line x1="1603.3" y1="667.7" x2="1591.8" y2="673.4" stroke="#e4fafa" stroke-width="0.9"/>
<line x1="1580.3" y1="679.0" x2="1591.8" y2="673.4" stroke="#f2f030" stroke-width="2.8"/>
<line x1="1603.3" y1="667.7" x2="1614.9" y2="673.4" stroke="#88d2d6" stroke-width="2.8"/>
<line x1="1603.3" y1="667.7" x2="1614.9" y2="673.4" stroke="#e4fafa" stroke-width="0.9"/>
<line x1="1626.4" y1="679.0" x2="1614.9" y2="673.4" stroke="#f2f030" stroke-width="2.8"/>
<line x1="1580.3" y1="679.0" x2="1580.3" y2="691.2" stroke="#f2f030" stroke-width="2.8"/>
<line x1="1580.3" y1="703.4" x2="1580.3" y2="691.2" stroke="#4f9ca0" stroke-width="2.8"/>
<line x1="1580.3" y1="703.4" x2="1568.7" y2="709.0" stroke="#88d2d6" stroke-width="2.8"/>
<line x1="1580.3" y1="703.4" x2="1568.7" y2="709.0" stroke="#e4fafa" stroke-width="0.9"/>
<line x1="1557.2" y1="714.7" x2="1568.7" y2="709.0" stroke="#f2f030" stroke-width="2.8"/>
<line x1="1580.3" y1="703.4" x2="1591.8" y2="709.0" stroke="#88d2d6" stroke-width="2.8"/>
<line x1="1580.3" y1="703.4" x2="1591.8" y2="709.0" stroke="#e4fafa" stroke-width="0.9"/>
<line x1="1603.3" y1="714.7" x2="1591.8" y2="709.0" stroke="#f2f030" stroke-width="2.8"/>
<line x1="1649.5" y1="598.5" x2="1638.0" y2="603.9" stroke="#5446f2" stroke-width="2.8"/>
<line x1="1626.4" y1="609.3" x2="1638.0" y2="603.9" stroke="#f2f030" stroke-width="2.8"/>
<line x1="1649.5" y1="598.5" x2="1661.0" y2="603.9" stroke="#5446f2" stroke-width="2.8"/>
<line x1="1672.6" y1="609.3" x2="1661.0" y2="603.9" stroke="#f2f030" stroke-width="2.8"/>
<line x1="1626.4" y1="609.3" x2="1626.4" y2="621.5" stroke="#f2f030" stroke-width="2.8"/>
<line x1="1626.4" y1="633.8" x2="1626.4" y2="621.5" stroke="#5446f2" stroke-width="2.8"/>
<line x1="1626.4" y1="633.8" x2="1614.9" y2="639.5" stroke="#5446f2" stroke-width="2.8"/>
<line x1="1603.3" y1="645.1" x2="1614.9" y2="639.5" stroke="#f2f030" stroke-width="2.8"/>
<line x1="1626.4" y1="633.8" x2="1638.0" y2="639.5" stroke="#5446f2" stroke-width="2.8"/>
<line x1="1649.5" y1="645.1" x2="1638.0" y2="639.5" stroke="#f2f030" stroke-width="2.8"/>
<line x1="1649.5" y1="645.1" x2="1649.5" y2="656.4" stroke="#f2f030" stroke-width="2.8"/>
<line x1="1649.5" y1="667.7" x2="1649.5" y2="656.4" stroke="#5446f2" stroke-width="2.8"/>
<line x1="1649.5" y1="667.7" x2="1638.0" y2="673.4" stroke="#5446f2" stroke-width="2.8"/>
<line x1="1626.4" y1="679.0" x2="1638.0" y2="673.4" stroke="#f2f030" stroke-width="2.8"/>
<line x1="1649.5" y1="667.7" x2="1661.0" y2="673.4" stroke="#5446f2" stroke-width="2.8"/>
<line x1="1672.6" y1="679.0" x2="1661.0" y2="673.4" stroke="#f2f030" stroke-width="2.8"/>
<line x1="1626.4" y1="679.0" x2="1626.4" y2="691.2" stroke="#f2f030" stroke-width="2.8"/>
<line x1="1626.4" y1="703.4" x2="1626.4" y2="691.2" stroke="#5446f2" stroke-width="2.8"/>
<line x1="1626.4" y1="703.4" x2="1614.9" y2="709.0" stroke="#5446f2" stroke-width="2.8"/>
<line x1="1603.3" y1="714.7" x2="1614.9" y2="709.0" stroke="#f2f030" stroke-width="2.8"/>
<line x1="1626.4" y1="703.4" x2="1638.0" y2="709.0" stroke="#5446f2" stroke-width="2.8"/>
<line x1="1649.5" y1="714.7" x2="1638.0" y2="709.0" stroke="#f2f030" stroke-width="2.8"/>
<line x1="1695.7" y1="598.5" x2="1684.1" y2="603.9" stroke="#5446f2" stroke-width="2.8"/>
<line x1="1672.6" y1="609.3" x2="1684.1" y2="603.9" stroke="#f2f030" stroke-width="2.8"/>
<line x1="1695.7" y1="598.5" x2="1707.2" y2="603.9" stroke="#5446f2" stroke-width="2.8"/>
<line x1="1718.7" y1="609.3" x2="1707.2" y2="603.9" stroke="#f2f030" stroke-width="2.8"/>
<line x1="1672.6" y1="609.3" x2="1672.6" y2="621.5" stroke="#f2f030" stroke-width="2.8"/>
<line x1="1672.6" y1="633.8" x2="1672.6" y2="621.5" stroke="#5446f2" stroke-width="2.8"/>
<line x1="1672.6" y1="633.8" x2="1661.0" y2="639.5" stroke="#5446f2" stroke-width="2.8"/>
<line x1="1649.5" y1="645.1" x2="1661.0" y2="639.5" stroke="#f2f030" stroke-width="2.8"/>
<line x1="1672.6" y1="633.8" x2="1684.1" y2="639.5" stroke="#5446f2" stroke-width="2.8"/>
<line x1="1695.7" y1="645.1" x2="1684.1" y2="639.5" stroke="#f2f030" stroke-width="2.8"/>
<line x1="1695.7" y1="645.1" x2="1695.7" y2="656.4" stroke="#f2f030" stroke-width="2.8"/>
<line x1="1695.7" y1="667.7" x2="1695.7" y2="656.4" stroke="#5446f2" stroke-width="2.8"/>
<line x1="1695.7" y1="667.7" x2="1684.1" y2="673.4" stroke="#5446f2" stroke-width="2.8"/>
<line x1="1672.6" y1="679.0" x2="1684.1" y2="673.4" stroke="#f2f030" stroke-width="2.8"/>
<line x1="1695.7" y1="667.7" x2="1707.2" y2="673.4" stroke="#5446f2" stroke-width="2.8"/>
<line x1="1718.7" y1="679.0" x2="1707.2" y2="673.4" stroke="#f2f030" stroke-width="2.8"/>
<line x1="1672.6" y1="679.0" x2="1672.6" y2="691.2" stroke="#f2f030" stroke-width="2.8"/>
<line x1="1672.6" y1="703.4" x2="1672.6" y2="691.2" stroke="#5446f2" stroke-width="2.8"/>
<line x1="1672.6" y1="703.4" x2="1661.0" y2="709.0" stroke="#5446f2" stroke-width="2.8"/>
<line x1="1649.5" y1="714.7" x2="1661.0" y2="709.0" stroke="#f2f030" stroke-width="2.8"/>
<line x1="1672.6" y1="703.4" x2="1684.1" y2="709.0" stroke="#5446f2" stroke-width="2.8"/>
<line x1="1695.7" y1="714.7" x2="1684.1" y2="709.0" stroke="#f2f030" stroke-width="2.8"/>
<line x1="1741.8" y1="598.5" x2="1730.3" y2="603.9" stroke="#5446f2" stroke-width="2.8"/>
<line x1="1718.7" y1="609.3" x2="1730.3" y2="603.9" stroke="#f2f030" stroke-width="2.8"/>
<line x1="1741.8" y1="598.5" x2="1753.3" y2="603.9" stroke="#5446f2" stroke-width="2.8"/>
<line x1="1764.9" y1="609.3" x2="1753.3" y2="603.9" stroke="#f2f030" stroke-width="2.8"/>
<line x1="1718.7" y1="609.3" x2="1718.7" y2="621.5" stroke="#f2f030" stroke-width="2.8"/>
<line x1="1718.7" y1="633.8" x2="1718.7" y2="621.5" stroke="#5446f2" stroke-width="2.8"/>
<line x1="1718.7" y1="633.8" x2="1707.2" y2="639.5" stroke="#5446f2" stroke-width="2.8"/>
<line x1="1695.7" y1="645.1" x2="1707.2" y2="639.5" stroke="#f2f030" stroke-width="2.8"/>
<line x1="1718.7" y1="633.8" x2="1730.3" y2="639.5" stroke="#5446f2" stroke-width="2.8"/>
<line x1="1741.8" y1="645.1" x2="1730.3" y2="639.5" stroke="#f2f030" stroke-width="2.8"/>
<line x1="1741.8" y1="645.1" x2="1741.8" y2="656.4" stroke="#f2f030" stroke-width="2.8"/>
<line x1="1741.8" y1="667.7" x2="1741.8" y2="656.4" stroke="#5446f2" stroke-width="2.8"/>
<line x1="1741.8" y1="667.7" x2="1730.3" y2="673.4" stroke="#5446f2" stroke-width="2.8"/>
<line x1="1718.7" y1="679.0" x2="1730.3" y2="673.4" stroke="#f2f030" stroke-width="2.8"/>
<line x1="1741.8" y1="667.7" x2="1753.3" y2="673.4" stroke="#5446f2" stroke-width="2.8"/>
<line x1="1764.9" y1="679.0" x2="1753.3" y2="673.4" stroke="#f2f030" stroke-width="2.8"/>
<line x1="1718.7" y1="679.0" x2="1718.7" y2="691.2" stroke="#f2f030" stroke-width="2.8"/>
<line x1="1718.7" y1="703.4" x2="1718.7" y2="691.2" stroke="#5446f2" stroke-width="2.8"/>
<line x1="1718.7" y1="703.4" x2="1707.2" y2="709.0" stroke="#5446f2" stroke-width="2.8"/>
<line x1="1695.7" y1="714.7" x2="1707.2" y2="709.0" stroke="#f2f030" stroke-width="2.8"/>
<line x1="1718.7" y1="703.4" x2="1730.3" y2="709.0" stroke="#5446f2" stroke-width="2.8"/>
<line x1="1741.8" y1="714.7" x2="1730.3" y2="709.0" stroke="#f2f030" stroke-width="2.8"/>
<line x1="1787.9" y1="598.5" x2="1776.4" y2="603.9" stroke="#5446f2" stroke-width="2.8"/>
<line x1="1764.9" y1="609.3" x2="1776.4" y2="603.9" stroke="#f2f030" stroke-width="2.8"/>
<line x1="1787.9" y1="598.5" x2="1799.5" y2="603.9" stroke="#5446f2" stroke-width="2.8"/>
<line x1="1811.0" y1="609.3" x2="1799.5" y2="603.9" stroke="#f2f030" stroke-width="2.8"/>
<line x1="1764.9" y1="609.3" x2="1764.9" y2="621.5" stroke="#f2f030" stroke-width="2.8"/>
<line x1="1764.9" y1="633.8" x2="1764.9" y2="621.5" stroke="#5446f2" stroke-width="2.8"/>
<line x1="1764.9" y1="633.8" x2="1753.3" y2="639.5" stroke="#5446f2" stroke-width="2.8"/>
<line x1="1741.8" y1="645.1" x2="1753.3" y2="639.5" stroke="#f2f030" stroke-width="2.8"/>
<line x1="1764.9" y1="633.8" x2="1776.4" y2="639.5" stroke="#5446f2" stroke-width="2.8"/>
<line x1="1787.9" y1="645.1" x2="1776.4" y2="639.5" stroke="#f2f030" stroke-width="2.8"/>
<line x1="1787.9" y1="645.1" x2="1787.9" y2="656.4" stroke="#f2f030" stroke-width="2.8"/>
<line x1="1787.9" y1="667.7" x2="1787.9" y2="656.4" stroke="#5446f2" stroke-width="2.8"/>
<line x1="1787.9" y1="667.7" x2="1776.4" y2="673.4" stroke="#5446f2" stroke-width="2.8"/>
<line x1="1764.9" y1="679.0" x2="1776.4" y2="673.4" stroke="#f2f030" stroke-width="2.8"/>
<line x1="1787.9" y1="667.7" x2="1799.5" y2="673.4" stroke="#5446f2" stroke-width="2.8"/>
<line x1="1811.0" y1="679.0" x2="1799.5" y2="673.4" stroke="#f2f030" stroke-width="2.8"/>
<line x1="1764.9" y1="679.0" x2="1764.9" y2="691.2" stroke="#f2f030" stroke-width="2.8"/>
<line x1="1764.9" y1="703.4" x2="1764.9" y2="691.2" stroke="#5446f2" stroke-width="2.8"/>
<line x1="1764.9" y1="703.4" x2="1753.3" y2="709.0" stroke="#5446f2" stroke-width="2.8"/>
<line x1="1741.8" y1="714.7" x2="1753.3" y2="709.0" stroke="#f2f030" stroke-width="2.8"/>
<line x1="1764.9" y1="703.4" x2="1776.4" y2="709.0" stroke="#5446f2" stroke-width="2.8"/>
<line x1="1787.9" y1="714.7" x2="1776.4" y2="709.0" stroke="#f2f030" stroke-width="2.8"/>
<line x1="1834.1" y1="598.5" x2="1822.6" y2="603.9" stroke="#5446f2" stroke-width="2.8"/>
<line x1="1811.0" y1="609.3" x2="1822.6" y2="603.9" stroke="#f2f030" stroke-width="2.8"/>
<line x1="1811.0" y1="609.3" x2="1811.0" y2="621.5" stroke="#f2f030" stroke-width="2.8"/>
<line x1="1811.0" y1="633.8" x2="1811.0" y2="621.5" stroke="#5446f2" stroke-width="2.8"/>
<line x1="1811.0" y1="633.8" x2="1799.5" y2="639.5" stroke="#5446f2" stroke-width="2.8"/>
<line x1="1787.9" y1="645.1" x2="1799.5" y2="639.5" stroke="#f2f030" stroke-width="2.8"/>
<line x1="1811.0" y1="633.8" x2="1822.6" y2="639.5" stroke="#5446f2" stroke-width="2.8"/>
<line x1="1834.1" y1="645.1" x2="1822.6" y2="639.5" stroke="#f2f030" stroke-width="2.8"/>
<line x1="1834.1" y1="667.7" x2="1822.6" y2="673.4" stroke="#5446f2" stroke-width="2.8"/>
<line x1="1811.0" y1="679.0" x2="1822.6" y2="673.4" stroke="#f2f030" stroke-width="2.8"/>
<line x1="1811.0" y1="679.0" x2="1811.0" y2="691.2" stroke="#f2f030" stroke-width="2.8"/>
<line x1="1811.0" y1="703.4" x2="1811.0" y2="691.2" stroke="#5446f2" stroke-width="2.8"/>
<line x1="1811.0" y1="703.4" x2="1799.5" y2="709.0" stroke="#5446f2" stroke-width="2.8"/>
<line x1="1787.9" y1="714.7" x2="1799.5" y2="709.0" stroke="#f2f030" stroke-width="2.8"/>
<line x1="1811.0" y1="703.4" x2="1822.6" y2="709.0" stroke="#5446f2" stroke-width="2.8"/>
<line x1="1834.1" y1="714.7" x2="1822.6" y2="709.0" stroke="#f2f030" stroke-width="2.8"/>
<ellipse cx="1164.9" cy="609.3" rx="7.4" ry="6.3" fill="url(#gY)"/>
<ellipse cx="1211.1" cy="609.3" rx="7.4" ry="6.3" fill="url(#gY)"/>
<ellipse cx="1257.2" cy="609.3" rx="7.4" ry="6.3" fill="url(#gY)"/>
<ellipse cx="1303.4" cy="609.3" rx="7.4" ry="6.3" fill="url(#gY)"/>
<ellipse cx="1349.5" cy="609.3" rx="7.4" ry="6.3" fill="url(#gY)"/>
<ellipse cx="1395.7" cy="609.3" rx="7.4" ry="6.3" fill="url(#gY)"/>
<ellipse cx="1441.8" cy="609.3" rx="7.4" ry="6.3" fill="url(#gY)"/>
<ellipse cx="1488.0" cy="609.3" rx="7.4" ry="6.3" fill="url(#gY)"/>
<ellipse cx="1534.1" cy="609.3" rx="7.4" ry="6.3" fill="url(#gY)"/>
<ellipse cx="1580.3" cy="609.3" rx="7.4" ry="6.3" fill="url(#gY)"/>
<ellipse cx="1626.4" cy="609.3" rx="7.4" ry="6.3" fill="url(#gY)"/>
<ellipse cx="1672.6" cy="609.3" rx="7.4" ry="6.3" fill="url(#gY)"/>
<ellipse cx="1718.7" cy="609.3" rx="7.4" ry="6.3" fill="url(#gY)"/>
<ellipse cx="1764.9" cy="609.3" rx="7.4" ry="6.3" fill="url(#gY)"/>
<ellipse cx="1811.0" cy="609.3" rx="7.4" ry="6.3" fill="url(#gY)"/>
<ellipse cx="1141.8" cy="645.1" rx="7.4" ry="6.3" fill="url(#gY)"/>
<ellipse cx="1188.0" cy="645.1" rx="7.4" ry="6.3" fill="url(#gY)"/>
<ellipse cx="1234.2" cy="645.1" rx="7.4" ry="6.3" fill="url(#gY)"/>
<ellipse cx="1280.3" cy="645.1" rx="7.4" ry="6.3" fill="url(#gY)"/>
<ellipse cx="1326.5" cy="645.1" rx="7.4" ry="6.3" fill="url(#gY)"/>
<ellipse cx="1372.6" cy="645.1" rx="7.4" ry="6.3" fill="url(#gY)"/>
<ellipse cx="1418.8" cy="645.1" rx="7.4" ry="6.3" fill="url(#gY)"/>
<ellipse cx="1464.9" cy="645.1" rx="7.4" ry="6.3" fill="url(#gY)"/>
<ellipse cx="1511.0" cy="645.1" rx="7.4" ry="6.3" fill="url(#gY)"/>
<ellipse cx="1557.2" cy="645.1" rx="7.4" ry="6.3" fill="url(#gY)"/>
<ellipse cx="1603.3" cy="645.1" rx="7.4" ry="6.3" fill="url(#gY)"/>
<ellipse cx="1649.5" cy="645.1" rx="7.4" ry="6.3" fill="url(#gY)"/>
<ellipse cx="1695.7" cy="645.1" rx="7.4" ry="6.3" fill="url(#gY)"/>
<ellipse cx="1741.8" cy="645.1" rx="7.4" ry="6.3" fill="url(#gY)"/>
<ellipse cx="1787.9" cy="645.1" rx="7.4" ry="6.3" fill="url(#gY)"/>
<ellipse cx="1164.9" cy="679.0" rx="7.4" ry="6.3" fill="url(#gY)"/>
<ellipse cx="1211.1" cy="679.0" rx="7.4" ry="6.3" fill="url(#gY)"/>
<ellipse cx="1257.2" cy="679.0" rx="7.4" ry="6.3" fill="url(#gY)"/>
<ellipse cx="1303.4" cy="679.0" rx="7.4" ry="6.3" fill="url(#gY)"/>
<ellipse cx="1349.5" cy="679.0" rx="7.4" ry="6.3" fill="url(#gY)"/>
<ellipse cx="1395.7" cy="679.0" rx="7.4" ry="6.3" fill="url(#gY)"/>
<ellipse cx="1441.8" cy="679.0" rx="7.4" ry="6.3" fill="url(#gY)"/>
<ellipse cx="1488.0" cy="679.0" rx="7.4" ry="6.3" fill="url(#gY)"/>
<ellipse cx="1534.1" cy="679.0" rx="7.4" ry="6.3" fill="url(#gY)"/>
<ellipse cx="1580.3" cy="679.0" rx="7.4" ry="6.3" fill="url(#gY)"/>
<ellipse cx="1626.4" cy="679.0" rx="7.4" ry="6.3" fill="url(#gY)"/>
<ellipse cx="1672.6" cy="679.0" rx="7.4" ry="6.3" fill="url(#gY)"/>
<ellipse cx="1718.7" cy="679.0" rx="7.4" ry="6.3" fill="url(#gY)"/>
<ellipse cx="1764.9" cy="679.0" rx="7.4" ry="6.3" fill="url(#gY)"/>
<ellipse cx="1811.0" cy="679.0" rx="7.4" ry="6.3" fill="url(#gY)"/>
<ellipse cx="1141.8" cy="714.7" rx="7.4" ry="6.3" fill="url(#gY)"/>
<ellipse cx="1188.0" cy="714.7" rx="7.4" ry="6.3" fill="url(#gY)"/>
<ellipse cx="1234.2" cy="714.7" rx="7.4" ry="6.3" fill="url(#gY)"/>
<ellipse cx="1280.3" cy="714.7" rx="7.4" ry="6.3" fill="url(#gY)"/>
<ellipse cx="1326.5" cy="714.7" rx="7.4" ry="6.3" fill="url(#gY)"/>
<ellipse cx="1372.6" cy="714.7" rx="7.4" ry="6.3" fill="url(#gY)"/>
<ellipse cx="1418.8" cy="714.7" rx="7.4" ry="6.3" fill="url(#gY)"/>
<ellipse cx="1464.9" cy="714.7" rx="7.4" ry="6.3" fill="url(#gY)"/>
<ellipse cx="1511.0" cy="714.7" rx="7.4" ry="6.3" fill="url(#gY)"/>
<ellipse cx="1557.2" cy="714.7" rx="7.4" ry="6.3" fill="url(#gY)"/>
<ellipse cx="1603.3" cy="714.7" rx="7.4" ry="6.3" fill="url(#gY)"/>
<ellipse cx="1649.5" cy="714.7" rx="7.4" ry="6.3" fill="url(#gY)"/>
<ellipse cx="1695.7" cy="714.7" rx="7.4" ry="6.3" fill="url(#gY)"/>
<ellipse cx="1741.8" cy="714.7" rx="7.4" ry="6.3" fill="url(#gY)"/>
<ellipse cx="1787.9" cy="714.7" rx="7.4" ry="6.3" fill="url(#gY)"/>
</g>
<rect x="1150.6" y="575.7" width="96.0" height="162.5999999999999" fill="#bababa" style="mix-blend-mode:multiply"/>
<rect x="1707.0" y="575.7" width="96.20000000000005" height="162.5999999999999" fill="#bababa" style="mix-blend-mode:multiply"/>
<ellipse cx="1280.3" cy="709.0" rx="8.5" ry="6" fill="url(#oB)" transform="rotate(0 1280.3 709.0)"/>
<ellipse cx="1280.3" cy="722.5" rx="8" ry="5.5" fill="url(#oB)" transform="rotate(0 1280.3 722.5)"/>
<ellipse cx="1326.5" cy="707.5" rx="15.5" ry="12.5" fill="url(#oB)" transform="rotate(0 1326.5 707.5)"/>
<ellipse cx="1326.5" cy="724.0" rx="15.5" ry="10.5" fill="url(#oB)" transform="rotate(0 1326.5 724.0)"/>
<ellipse cx="1372.6" cy="709.5" rx="6" ry="5" fill="url(#oB)" transform="rotate(0 1372.6 709.5)"/>
<ellipse cx="1372.6" cy="721.0" rx="6" ry="4.5" fill="url(#oB)" transform="rotate(0 1372.6 721.0)"/>
<ellipse cx="1418.8" cy="706.5" rx="14" ry="11.5" fill="url(#oB)" transform="rotate(0 1418.8 706.5)"/>
<ellipse cx="1418.8" cy="724.5" rx="14" ry="10.5" fill="url(#oB)" transform="rotate(0 1418.8 724.5)"/>
<ellipse cx="1370.7" cy="673.3" rx="4" ry="2.5" fill="url(#oB)" transform="rotate(0 1370.7 673.3)"/>
<ellipse cx="1353.8" cy="673.9" rx="1.5" ry="1.5" fill="url(#oB)" transform="rotate(0 1353.8 673.9)"/>
<ellipse cx="1444.2" cy="687.4" rx="1.5" ry="1.5" fill="url(#oB)" transform="rotate(0 1444.2 687.4)"/>
<ellipse cx="1418.5" cy="593.0" rx="1.8" ry="1.5" fill="url(#oB)" transform="rotate(0 1418.5 593.0)"/>
<ellipse cx="1464.6" cy="593.0" rx="1.8" ry="1.5" fill="url(#oB)" transform="rotate(0 1464.6 593.0)"/>
<ellipse cx="1510.2" cy="593.3" rx="2.5" ry="2" fill="url(#oB)" transform="rotate(0 1510.2 593.3)"/>
<ellipse cx="1557.3" cy="591.4" rx="5" ry="3.2" fill="url(#oB)" transform="rotate(0 1557.3 591.4)"/>
<ellipse cx="1557.3" cy="603.8" rx="4.5" ry="3" fill="url(#oB)" transform="rotate(0 1557.3 603.8)"/>
<ellipse cx="1555.4" cy="667.7" rx="1.5" ry="1.5" fill="url(#oB)" transform="rotate(0 1555.4 667.7)"/>
<ellipse cx="1557.3" cy="709.1" rx="6" ry="5" fill="url(#oB)" transform="rotate(0 1557.3 709.1)"/>
<ellipse cx="1557.3" cy="721.3" rx="6" ry="4" fill="url(#oB)" transform="rotate(0 1557.3 721.3)"/>
<ellipse cx="1603.4" cy="705.3" rx="15" ry="11.5" fill="url(#oB)" transform="rotate(0 1603.4 705.3)"/>
<ellipse cx="1603.4" cy="725.1" rx="15" ry="10.5" fill="url(#oB)" transform="rotate(0 1603.4 725.1)"/>
<ellipse cx="1627.0" cy="674.2" rx="3.5" ry="2.5" fill="url(#oB)" transform="rotate(0 1627.0 674.2)"/>
<ellipse cx="1627.0" cy="685.5" rx="6" ry="3" fill="url(#oB)" transform="rotate(0 1627.0 685.5)"/>
<ellipse cx="1695.7" cy="709.1" rx="5" ry="4" fill="url(#oB)" transform="rotate(0 1695.7 709.1)"/>
<ellipse cx="1695.7" cy="721.3" rx="5" ry="4" fill="url(#oB)" transform="rotate(0 1695.7 721.3)"/>
<clipPath id="dclip1"><rect x="1148.5" y="729.1" width="650.0" height="203.0"/></clipPath>
<g clip-path="url(#dclip1)">
<ellipse cx="1140.0" cy="773.6" rx="7.3" ry="6.4" fill="url(#gB)"/>
<ellipse cx="1186.3" cy="773.6" rx="7.3" ry="6.4" fill="url(#gB)"/>
<ellipse cx="1232.6" cy="773.6" rx="7.3" ry="6.4" fill="url(#gB)"/>
<ellipse cx="1278.9" cy="773.6" rx="7.3" ry="6.4" fill="url(#gB)"/>
<ellipse cx="1325.2" cy="773.6" rx="7.3" ry="6.4" fill="url(#gB)"/>
<ellipse cx="1371.5" cy="773.6" rx="7.3" ry="6.4" fill="url(#gC)"/>
<ellipse cx="1417.8" cy="773.6" rx="7.3" ry="6.4" fill="url(#gC)"/>
<ellipse cx="1464.1" cy="773.6" rx="7.3" ry="6.4" fill="url(#gC)"/>
<ellipse cx="1510.4" cy="773.6" rx="7.3" ry="6.4" fill="url(#gC)"/>
<ellipse cx="1556.7" cy="773.6" rx="7.3" ry="6.4" fill="url(#gC)"/>
<ellipse cx="1603.0" cy="773.6" rx="7.3" ry="6.4" fill="url(#gC)"/>
<ellipse cx="1649.3" cy="773.6" rx="7.3" ry="6.4" fill="url(#gB)"/>
<ellipse cx="1695.6" cy="773.6" rx="7.3" ry="6.4" fill="url(#gB)"/>
<ellipse cx="1741.9" cy="773.6" rx="7.3" ry="6.4" fill="url(#gB)"/>
<ellipse cx="1788.2" cy="773.6" rx="7.3" ry="6.4" fill="url(#gB)"/>
<ellipse cx="1163.1" cy="808.4" rx="7.3" ry="6.4" fill="url(#gB)"/>
<ellipse cx="1209.4" cy="808.4" rx="7.3" ry="6.4" fill="url(#gB)"/>
<ellipse cx="1255.7" cy="808.4" rx="7.3" ry="6.4" fill="url(#gB)"/>
<ellipse cx="1302.0" cy="808.4" rx="7.3" ry="6.4" fill="url(#gB)"/>
<ellipse cx="1348.3" cy="808.4" rx="7.3" ry="6.4" fill="url(#gC)"/>
<ellipse cx="1394.6" cy="808.4" rx="7.3" ry="6.4" fill="url(#gC)"/>
<ellipse cx="1440.9" cy="808.4" rx="7.3" ry="6.4" fill="url(#gC)"/>
<ellipse cx="1487.2" cy="808.4" rx="7.3" ry="6.4" fill="url(#gC)"/>
<ellipse cx="1533.5" cy="808.4" rx="7.3" ry="6.4" fill="url(#gC)"/>
<ellipse cx="1579.8" cy="808.4" rx="7.3" ry="6.4" fill="url(#gC)"/>
<ellipse cx="1626.1" cy="808.4" rx="7.3" ry="6.4" fill="url(#gB)"/>
<ellipse cx="1672.4" cy="808.4" rx="7.3" ry="6.4" fill="url(#gB)"/>
<ellipse cx="1718.7" cy="808.4" rx="7.3" ry="6.4" fill="url(#gB)"/>
<ellipse cx="1765.0" cy="808.4" rx="7.3" ry="6.4" fill="url(#gB)"/>
<ellipse cx="1811.3" cy="808.4" rx="7.3" ry="6.4" fill="url(#gB)"/>
<ellipse cx="1140.0" cy="844.2" rx="7.3" ry="6.4" fill="url(#gB)"/>
<ellipse cx="1186.3" cy="844.2" rx="7.3" ry="6.4" fill="url(#gB)"/>
<ellipse cx="1232.6" cy="844.2" rx="7.3" ry="6.4" fill="url(#gB)"/>
<ellipse cx="1278.9" cy="844.2" rx="7.3" ry="6.4" fill="url(#gB)"/>
<ellipse cx="1325.2" cy="844.2" rx="7.3" ry="6.4" fill="url(#gB)"/>
<ellipse cx="1371.5" cy="844.2" rx="7.3" ry="6.4" fill="url(#gC)"/>
<ellipse cx="1417.8" cy="844.2" rx="7.3" ry="6.4" fill="url(#gC)"/>
<ellipse cx="1464.1" cy="844.2" rx="7.3" ry="6.4" fill="url(#gC)"/>
<ellipse cx="1510.4" cy="844.2" rx="7.3" ry="6.4" fill="url(#gC)"/>
<ellipse cx="1556.7" cy="844.2" rx="7.3" ry="6.4" fill="url(#gC)"/>
<ellipse cx="1603.0" cy="844.2" rx="7.3" ry="6.4" fill="url(#gC)"/>
<ellipse cx="1649.3" cy="844.2" rx="7.3" ry="6.4" fill="url(#gB)"/>
<ellipse cx="1695.6" cy="844.2" rx="7.3" ry="6.4" fill="url(#gB)"/>
<ellipse cx="1741.9" cy="844.2" rx="7.3" ry="6.4" fill="url(#gB)"/>
<ellipse cx="1788.2" cy="844.2" rx="7.3" ry="6.4" fill="url(#gB)"/>
<ellipse cx="1163.1" cy="880.0" rx="7.3" ry="6.4" fill="url(#gB)"/>
<ellipse cx="1209.4" cy="880.0" rx="7.3" ry="6.4" fill="url(#gB)"/>
<ellipse cx="1255.7" cy="880.0" rx="7.3" ry="6.4" fill="url(#gB)"/>
<ellipse cx="1302.0" cy="880.0" rx="7.3" ry="6.4" fill="url(#gB)"/>
<ellipse cx="1348.3" cy="880.0" rx="7.3" ry="6.4" fill="url(#gC)"/>
<ellipse cx="1394.6" cy="880.0" rx="7.3" ry="6.4" fill="url(#gC)"/>
<ellipse cx="1440.9" cy="880.0" rx="7.3" ry="6.4" fill="url(#gC)"/>
<ellipse cx="1487.2" cy="880.0" rx="7.3" ry="6.4" fill="url(#gC)"/>
<ellipse cx="1533.5" cy="880.0" rx="7.3" ry="6.4" fill="url(#gC)"/>
<ellipse cx="1579.8" cy="880.0" rx="7.3" ry="6.4" fill="url(#gC)"/>
<ellipse cx="1626.1" cy="880.0" rx="7.3" ry="6.4" fill="url(#gB)"/>
<ellipse cx="1672.4" cy="880.0" rx="7.3" ry="6.4" fill="url(#gB)"/>
<ellipse cx="1718.7" cy="880.0" rx="7.3" ry="6.4" fill="url(#gB)"/>
<ellipse cx="1765.0" cy="880.0" rx="7.3" ry="6.4" fill="url(#gB)"/>
<ellipse cx="1811.3" cy="880.0" rx="7.3" ry="6.4" fill="url(#gB)"/>
<line x1="1140.0" y1="773.6" x2="1128.4" y2="779.4" stroke="#5446f2" stroke-width="2.8"/>
<line x1="1116.8" y1="785.2" x2="1128.4" y2="779.4" stroke="#f2f030" stroke-width="2.8"/>
<line x1="1140.0" y1="773.6" x2="1151.6" y2="779.4" stroke="#5446f2" stroke-width="2.8"/>
<line x1="1163.1" y1="785.2" x2="1151.6" y2="779.4" stroke="#f2f030" stroke-width="2.8"/>
<line x1="1116.8" y1="808.4" x2="1128.4" y2="814.5" stroke="#5446f2" stroke-width="2.8"/>
<line x1="1140.0" y1="820.7" x2="1128.4" y2="814.5" stroke="#f2f030" stroke-width="2.8"/>
<line x1="1140.0" y1="820.7" x2="1140.0" y2="832.5" stroke="#f2f030" stroke-width="2.8"/>
<line x1="1140.0" y1="844.2" x2="1140.0" y2="832.5" stroke="#5446f2" stroke-width="2.8"/>
<line x1="1140.0" y1="844.2" x2="1128.4" y2="850.3" stroke="#5446f2" stroke-width="2.8"/>
<line x1="1116.8" y1="856.4" x2="1128.4" y2="850.3" stroke="#f2f030" stroke-width="2.8"/>
<line x1="1140.0" y1="844.2" x2="1151.6" y2="850.3" stroke="#5446f2" stroke-width="2.8"/>
<line x1="1163.1" y1="856.4" x2="1151.6" y2="850.3" stroke="#f2f030" stroke-width="2.8"/>
<line x1="1116.8" y1="880.0" x2="1128.4" y2="886.1" stroke="#5446f2" stroke-width="2.8"/>
<line x1="1140.0" y1="892.2" x2="1128.4" y2="886.1" stroke="#f2f030" stroke-width="2.8"/>
<line x1="1186.3" y1="773.6" x2="1174.7" y2="779.4" stroke="#5446f2" stroke-width="2.8"/>
<line x1="1163.1" y1="785.2" x2="1174.7" y2="779.4" stroke="#f2f030" stroke-width="2.8"/>
<line x1="1186.3" y1="773.6" x2="1197.9" y2="779.4" stroke="#5446f2" stroke-width="2.8"/>
<line x1="1209.4" y1="785.2" x2="1197.9" y2="779.4" stroke="#f2f030" stroke-width="2.8"/>
<line x1="1163.1" y1="785.2" x2="1163.1" y2="796.8" stroke="#f2f030" stroke-width="2.8"/>
<line x1="1163.1" y1="808.4" x2="1163.1" y2="796.8" stroke="#5446f2" stroke-width="2.8"/>
<line x1="1163.1" y1="808.4" x2="1151.6" y2="814.5" stroke="#5446f2" stroke-width="2.8"/>
<line x1="1140.0" y1="820.7" x2="1151.6" y2="814.5" stroke="#f2f030" stroke-width="2.8"/>
<line x1="1163.1" y1="808.4" x2="1174.7" y2="814.5" stroke="#5446f2" stroke-width="2.8"/>
<line x1="1186.3" y1="820.7" x2="1174.7" y2="814.5" stroke="#f2f030" stroke-width="2.8"/>
<line x1="1186.3" y1="820.7" x2="1186.3" y2="832.5" stroke="#f2f030" stroke-width="2.8"/>
<line x1="1186.3" y1="844.2" x2="1186.3" y2="832.5" stroke="#5446f2" stroke-width="2.8"/>
<line x1="1186.3" y1="844.2" x2="1174.7" y2="850.3" stroke="#5446f2" stroke-width="2.8"/>
<line x1="1163.1" y1="856.4" x2="1174.7" y2="850.3" stroke="#f2f030" stroke-width="2.8"/>
<line x1="1186.3" y1="844.2" x2="1197.9" y2="850.3" stroke="#5446f2" stroke-width="2.8"/>
<line x1="1209.4" y1="856.4" x2="1197.9" y2="850.3" stroke="#f2f030" stroke-width="2.8"/>
<line x1="1163.1" y1="856.4" x2="1163.1" y2="868.2" stroke="#f2f030" stroke-width="2.8"/>
<line x1="1163.1" y1="880.0" x2="1163.1" y2="868.2" stroke="#5446f2" stroke-width="2.8"/>
<line x1="1163.1" y1="880.0" x2="1151.6" y2="886.1" stroke="#5446f2" stroke-width="2.8"/>
<line x1="1140.0" y1="892.2" x2="1151.6" y2="886.1" stroke="#f2f030" stroke-width="2.8"/>
<line x1="1163.1" y1="880.0" x2="1174.7" y2="886.1" stroke="#5446f2" stroke-width="2.8"/>
<line x1="1186.3" y1="892.2" x2="1174.7" y2="886.1" stroke="#f2f030" stroke-width="2.8"/>
<line x1="1232.6" y1="773.6" x2="1221.0" y2="779.4" stroke="#5446f2" stroke-width="2.8"/>
<line x1="1209.4" y1="785.2" x2="1221.0" y2="779.4" stroke="#f2f030" stroke-width="2.8"/>
<line x1="1232.6" y1="773.6" x2="1244.2" y2="779.4" stroke="#5446f2" stroke-width="2.8"/>
<line x1="1255.7" y1="785.2" x2="1244.2" y2="779.4" stroke="#f2f030" stroke-width="2.8"/>
<line x1="1209.4" y1="785.2" x2="1209.4" y2="796.8" stroke="#f2f030" stroke-width="2.8"/>
<line x1="1209.4" y1="808.4" x2="1209.4" y2="796.8" stroke="#5446f2" stroke-width="2.8"/>
<line x1="1209.4" y1="808.4" x2="1197.9" y2="814.5" stroke="#5446f2" stroke-width="2.8"/>
<line x1="1186.3" y1="820.7" x2="1197.9" y2="814.5" stroke="#f2f030" stroke-width="2.8"/>
<line x1="1209.4" y1="808.4" x2="1221.0" y2="814.5" stroke="#5446f2" stroke-width="2.8"/>
<line x1="1232.6" y1="820.7" x2="1221.0" y2="814.5" stroke="#f2f030" stroke-width="2.8"/>
<line x1="1232.6" y1="820.7" x2="1232.6" y2="832.5" stroke="#f2f030" stroke-width="2.8"/>
<line x1="1232.6" y1="844.2" x2="1232.6" y2="832.5" stroke="#5446f2" stroke-width="2.8"/>
<line x1="1232.6" y1="844.2" x2="1221.0" y2="850.3" stroke="#5446f2" stroke-width="2.8"/>
<line x1="1209.4" y1="856.4" x2="1221.0" y2="850.3" stroke="#f2f030" stroke-width="2.8"/>
<line x1="1232.6" y1="844.2" x2="1244.2" y2="850.3" stroke="#5446f2" stroke-width="2.8"/>
<line x1="1255.7" y1="856.4" x2="1244.2" y2="850.3" stroke="#f2f030" stroke-width="2.8"/>
<line x1="1209.4" y1="856.4" x2="1209.4" y2="868.2" stroke="#f2f030" stroke-width="2.8"/>
<line x1="1209.4" y1="880.0" x2="1209.4" y2="868.2" stroke="#5446f2" stroke-width="2.8"/>
<line x1="1209.4" y1="880.0" x2="1197.9" y2="886.1" stroke="#5446f2" stroke-width="2.8"/>
<line x1="1186.3" y1="892.2" x2="1197.9" y2="886.1" stroke="#f2f030" stroke-width="2.8"/>
<line x1="1209.4" y1="880.0" x2="1221.0" y2="886.1" stroke="#5446f2" stroke-width="2.8"/>
<line x1="1232.6" y1="892.2" x2="1221.0" y2="886.1" stroke="#f2f030" stroke-width="2.8"/>
<line x1="1278.9" y1="773.6" x2="1267.3" y2="779.4" stroke="#5446f2" stroke-width="2.8"/>
<line x1="1255.7" y1="785.2" x2="1267.3" y2="779.4" stroke="#f2f030" stroke-width="2.8"/>
<line x1="1278.9" y1="773.6" x2="1290.5" y2="779.4" stroke="#5446f2" stroke-width="2.8"/>
<line x1="1302.0" y1="785.2" x2="1290.5" y2="779.4" stroke="#f2f030" stroke-width="2.8"/>
<line x1="1255.7" y1="785.2" x2="1255.7" y2="796.8" stroke="#f2f030" stroke-width="2.8"/>
<line x1="1255.7" y1="808.4" x2="1255.7" y2="796.8" stroke="#5446f2" stroke-width="2.8"/>
<line x1="1255.7" y1="808.4" x2="1244.2" y2="814.5" stroke="#5446f2" stroke-width="2.8"/>
<line x1="1232.6" y1="820.7" x2="1244.2" y2="814.5" stroke="#f2f030" stroke-width="2.8"/>
<line x1="1255.7" y1="808.4" x2="1267.3" y2="814.5" stroke="#5446f2" stroke-width="2.8"/>
<line x1="1278.9" y1="820.7" x2="1267.3" y2="814.5" stroke="#f2f030" stroke-width="2.8"/>
<line x1="1278.9" y1="820.7" x2="1278.9" y2="832.5" stroke="#f2f030" stroke-width="2.8"/>
<line x1="1278.9" y1="844.2" x2="1278.9" y2="832.5" stroke="#5446f2" stroke-width="2.8"/>
<line x1="1278.9" y1="844.2" x2="1267.3" y2="850.3" stroke="#5446f2" stroke-width="2.8"/>
<line x1="1255.7" y1="856.4" x2="1267.3" y2="850.3" stroke="#f2f030" stroke-width="2.8"/>
<line x1="1278.9" y1="844.2" x2="1290.5" y2="850.3" stroke="#5446f2" stroke-width="2.8"/>
<line x1="1302.0" y1="856.4" x2="1290.5" y2="850.3" stroke="#f2f030" stroke-width="2.8"/>
<line x1="1255.7" y1="856.4" x2="1255.7" y2="868.2" stroke="#f2f030" stroke-width="2.8"/>
<line x1="1255.7" y1="880.0" x2="1255.7" y2="868.2" stroke="#5446f2" stroke-width="2.8"/>
<line x1="1255.7" y1="880.0" x2="1244.2" y2="886.1" stroke="#5446f2" stroke-width="2.8"/>
<line x1="1232.6" y1="892.2" x2="1244.2" y2="886.1" stroke="#f2f030" stroke-width="2.8"/>
<line x1="1255.7" y1="880.0" x2="1267.3" y2="886.1" stroke="#5446f2" stroke-width="2.8"/>
<line x1="1278.9" y1="892.2" x2="1267.3" y2="886.1" stroke="#f2f030" stroke-width="2.8"/>
<line x1="1325.2" y1="773.6" x2="1313.6" y2="779.4" stroke="#5446f2" stroke-width="2.8"/>
<line x1="1302.0" y1="785.2" x2="1313.6" y2="779.4" stroke="#f2f030" stroke-width="2.8"/>
<line x1="1325.2" y1="773.6" x2="1336.8" y2="779.4" stroke="#5446f2" stroke-width="2.8"/>
<line x1="1348.3" y1="785.2" x2="1336.8" y2="779.4" stroke="#f2f030" stroke-width="2.8"/>
<line x1="1302.0" y1="785.2" x2="1302.0" y2="796.8" stroke="#f2f030" stroke-width="2.8"/>
<line x1="1302.0" y1="808.4" x2="1302.0" y2="796.8" stroke="#5446f2" stroke-width="2.8"/>
<line x1="1302.0" y1="808.4" x2="1290.5" y2="814.5" stroke="#5446f2" stroke-width="2.8"/>
<line x1="1278.9" y1="820.7" x2="1290.5" y2="814.5" stroke="#f2f030" stroke-width="2.8"/>
<line x1="1302.0" y1="808.4" x2="1313.6" y2="814.5" stroke="#5446f2" stroke-width="2.8"/>
<line x1="1325.2" y1="820.7" x2="1313.6" y2="814.5" stroke="#f2f030" stroke-width="2.8"/>
<line x1="1325.2" y1="820.7" x2="1325.2" y2="832.5" stroke="#f2f030" stroke-width="2.8"/>
<line x1="1325.2" y1="844.2" x2="1325.2" y2="832.5" stroke="#5446f2" stroke-width="2.8"/>
<line x1="1325.2" y1="844.2" x2="1313.6" y2="850.3" stroke="#5446f2" stroke-width="2.8"/>
<line x1="1302.0" y1="856.4" x2="1313.6" y2="850.3" stroke="#f2f030" stroke-width="2.8"/>
<line x1="1325.2" y1="844.2" x2="1336.8" y2="850.3" stroke="#5446f2" stroke-width="2.8"/>
<line x1="1348.3" y1="856.4" x2="1336.8" y2="850.3" stroke="#f2f030" stroke-width="2.8"/>
<line x1="1302.0" y1="856.4" x2="1302.0" y2="868.2" stroke="#f2f030" stroke-width="2.8"/>
<line x1="1302.0" y1="880.0" x2="1302.0" y2="868.2" stroke="#5446f2" stroke-width="2.8"/>
<line x1="1302.0" y1="880.0" x2="1290.5" y2="886.1" stroke="#5446f2" stroke-width="2.8"/>
<line x1="1278.9" y1="892.2" x2="1290.5" y2="886.1" stroke="#f2f030" stroke-width="2.8"/>
<line x1="1302.0" y1="880.0" x2="1313.6" y2="886.1" stroke="#5446f2" stroke-width="2.8"/>
<line x1="1325.2" y1="892.2" x2="1313.6" y2="886.1" stroke="#f2f030" stroke-width="2.8"/>
<line x1="1371.5" y1="773.6" x2="1359.9" y2="779.4" stroke="#88d2d6" stroke-width="2.8"/>
<line x1="1371.5" y1="773.6" x2="1359.9" y2="779.4" stroke="#e4fafa" stroke-width="0.9"/>
<line x1="1348.3" y1="785.2" x2="1359.9" y2="779.4" stroke="#f2f030" stroke-width="2.8"/>
<line x1="1371.5" y1="773.6" x2="1383.1" y2="779.4" stroke="#88d2d6" stroke-width="2.8"/>
<line x1="1371.5" y1="773.6" x2="1383.1" y2="779.4" stroke="#e4fafa" stroke-width="0.9"/>
<line x1="1394.6" y1="785.2" x2="1383.1" y2="779.4" stroke="#f2f030" stroke-width="2.8"/>
<line x1="1348.3" y1="785.2" x2="1348.3" y2="796.8" stroke="#f2f030" stroke-width="2.8"/>
<line x1="1348.3" y1="808.4" x2="1348.3" y2="796.8" stroke="#4f9ca0" stroke-width="2.8"/>
<line x1="1348.3" y1="808.4" x2="1336.8" y2="814.5" stroke="#88d2d6" stroke-width="2.8"/>
<line x1="1348.3" y1="808.4" x2="1336.8" y2="814.5" stroke="#e4fafa" stroke-width="0.9"/>
<line x1="1325.2" y1="820.7" x2="1336.8" y2="814.5" stroke="#f2f030" stroke-width="2.8"/>
<line x1="1348.3" y1="808.4" x2="1359.9" y2="814.5" stroke="#88d2d6" stroke-width="2.8"/>
<line x1="1348.3" y1="808.4" x2="1359.9" y2="814.5" stroke="#e4fafa" stroke-width="0.9"/>
<line x1="1371.5" y1="820.7" x2="1359.9" y2="814.5" stroke="#f2f030" stroke-width="2.8"/>
<line x1="1371.5" y1="820.7" x2="1371.5" y2="832.5" stroke="#f2f030" stroke-width="2.8"/>
<line x1="1371.5" y1="844.2" x2="1371.5" y2="832.5" stroke="#4f9ca0" stroke-width="2.8"/>
<line x1="1371.5" y1="844.2" x2="1359.9" y2="850.3" stroke="#88d2d6" stroke-width="2.8"/>
<line x1="1371.5" y1="844.2" x2="1359.9" y2="850.3" stroke="#e4fafa" stroke-width="0.9"/>
<line x1="1348.3" y1="856.4" x2="1359.9" y2="850.3" stroke="#f2f030" stroke-width="2.8"/>
<line x1="1371.5" y1="844.2" x2="1383.1" y2="850.3" stroke="#88d2d6" stroke-width="2.8"/>
<line x1="1371.5" y1="844.2" x2="1383.1" y2="850.3" stroke="#e4fafa" stroke-width="0.9"/>
<line x1="1394.6" y1="856.4" x2="1383.1" y2="850.3" stroke="#f2f030" stroke-width="2.8"/>
<line x1="1348.3" y1="856.4" x2="1348.3" y2="868.2" stroke="#f2f030" stroke-width="2.8"/>
<line x1="1348.3" y1="880.0" x2="1348.3" y2="868.2" stroke="#4f9ca0" stroke-width="2.8"/>
<line x1="1348.3" y1="880.0" x2="1336.8" y2="886.1" stroke="#88d2d6" stroke-width="2.8"/>
<line x1="1348.3" y1="880.0" x2="1336.8" y2="886.1" stroke="#e4fafa" stroke-width="0.9"/>
<line x1="1325.2" y1="892.2" x2="1336.8" y2="886.1" stroke="#f2f030" stroke-width="2.8"/>
<line x1="1348.3" y1="880.0" x2="1359.9" y2="886.1" stroke="#88d2d6" stroke-width="2.8"/>
<line x1="1348.3" y1="880.0" x2="1359.9" y2="886.1" stroke="#e4fafa" stroke-width="0.9"/>
<line x1="1371.5" y1="892.2" x2="1359.9" y2="886.1" stroke="#f2f030" stroke-width="2.8"/>
<line x1="1417.8" y1="773.6" x2="1406.2" y2="779.4" stroke="#88d2d6" stroke-width="2.8"/>
<line x1="1417.8" y1="773.6" x2="1406.2" y2="779.4" stroke="#e4fafa" stroke-width="0.9"/>
<line x1="1394.6" y1="785.2" x2="1406.2" y2="779.4" stroke="#f2f030" stroke-width="2.8"/>
<line x1="1417.8" y1="773.6" x2="1429.4" y2="779.4" stroke="#88d2d6" stroke-width="2.8"/>
<line x1="1417.8" y1="773.6" x2="1429.4" y2="779.4" stroke="#e4fafa" stroke-width="0.9"/>
<line x1="1440.9" y1="785.2" x2="1429.4" y2="779.4" stroke="#f2f030" stroke-width="2.8"/>
<line x1="1394.6" y1="785.2" x2="1394.6" y2="796.8" stroke="#f2f030" stroke-width="2.8"/>
<line x1="1394.6" y1="808.4" x2="1394.6" y2="796.8" stroke="#4f9ca0" stroke-width="2.8"/>
<line x1="1394.6" y1="808.4" x2="1383.1" y2="814.5" stroke="#88d2d6" stroke-width="2.8"/>
<line x1="1394.6" y1="808.4" x2="1383.1" y2="814.5" stroke="#e4fafa" stroke-width="0.9"/>
<line x1="1371.5" y1="820.7" x2="1383.1" y2="814.5" stroke="#f2f030" stroke-width="2.8"/>
<line x1="1394.6" y1="808.4" x2="1406.2" y2="814.5" stroke="#88d2d6" stroke-width="2.8"/>
<line x1="1394.6" y1="808.4" x2="1406.2" y2="814.5" stroke="#e4fafa" stroke-width="0.9"/>
<line x1="1417.8" y1="820.7" x2="1406.2" y2="814.5" stroke="#f2f030" stroke-width="2.8"/>
<line x1="1417.8" y1="820.7" x2="1417.8" y2="832.5" stroke="#f2f030" stroke-width="2.8"/>
<line x1="1417.8" y1="844.2" x2="1417.8" y2="832.5" stroke="#4f9ca0" stroke-width="2.8"/>
<line x1="1417.8" y1="844.2" x2="1406.2" y2="850.3" stroke="#88d2d6" stroke-width="2.8"/>
<line x1="1417.8" y1="844.2" x2="1406.2" y2="850.3" stroke="#e4fafa" stroke-width="0.9"/>
<line x1="1394.6" y1="856.4" x2="1406.2" y2="850.3" stroke="#f2f030" stroke-width="2.8"/>
<line x1="1417.8" y1="844.2" x2="1429.4" y2="850.3" stroke="#88d2d6" stroke-width="2.8"/>
<line x1="1417.8" y1="844.2" x2="1429.4" y2="850.3" stroke="#e4fafa" stroke-width="0.9"/>
<line x1="1440.9" y1="856.4" x2="1429.4" y2="850.3" stroke="#f2f030" stroke-width="2.8"/>
<line x1="1394.6" y1="856.4" x2="1394.6" y2="868.2" stroke="#f2f030" stroke-width="2.8"/>
<line x1="1394.6" y1="880.0" x2="1394.6" y2="868.2" stroke="#4f9ca0" stroke-width="2.8"/>
<line x1="1394.6" y1="880.0" x2="1383.1" y2="886.1" stroke="#88d2d6" stroke-width="2.8"/>
<line x1="1394.6" y1="880.0" x2="1383.1" y2="886.1" stroke="#e4fafa" stroke-width="0.9"/>
<line x1="1371.5" y1="892.2" x2="1383.1" y2="886.1" stroke="#f2f030" stroke-width="2.8"/>
<line x1="1394.6" y1="880.0" x2="1406.2" y2="886.1" stroke="#88d2d6" stroke-width="2.8"/>
<line x1="1394.6" y1="880.0" x2="1406.2" y2="886.1" stroke="#e4fafa" stroke-width="0.9"/>
<line x1="1417.8" y1="892.2" x2="1406.2" y2="886.1" stroke="#f2f030" stroke-width="2.8"/>
<line x1="1464.1" y1="773.6" x2="1452.5" y2="779.4" stroke="#88d2d6" stroke-width="2.8"/>
<line x1="1464.1" y1="773.6" x2="1452.5" y2="779.4" stroke="#e4fafa" stroke-width="0.9"/>
<line x1="1440.9" y1="785.2" x2="1452.5" y2="779.4" stroke="#f2f030" stroke-width="2.8"/>
<line x1="1464.1" y1="773.6" x2="1475.7" y2="779.4" stroke="#88d2d6" stroke-width="2.8"/>
<line x1="1464.1" y1="773.6" x2="1475.7" y2="779.4" stroke="#e4fafa" stroke-width="0.9"/>
<line x1="1487.2" y1="785.2" x2="1475.7" y2="779.4" stroke="#f2f030" stroke-width="2.8"/>
<line x1="1440.9" y1="785.2" x2="1440.9" y2="796.8" stroke="#f2f030" stroke-width="2.8"/>
<line x1="1440.9" y1="808.4" x2="1440.9" y2="796.8" stroke="#4f9ca0" stroke-width="2.8"/>
<line x1="1440.9" y1="808.4" x2="1429.4" y2="814.5" stroke="#88d2d6" stroke-width="2.8"/>
<line x1="1440.9" y1="808.4" x2="1429.4" y2="814.5" stroke="#e4fafa" stroke-width="0.9"/>
<line x1="1417.8" y1="820.7" x2="1429.4" y2="814.5" stroke="#f2f030" stroke-width="2.8"/>
<line x1="1440.9" y1="808.4" x2="1452.5" y2="814.5" stroke="#88d2d6" stroke-width="2.8"/>
<line x1="1440.9" y1="808.4" x2="1452.5" y2="814.5" stroke="#e4fafa" stroke-width="0.9"/>
<line x1="1464.1" y1="820.7" x2="1452.5" y2="814.5" stroke="#f2f030" stroke-width="2.8"/>
<line x1="1464.1" y1="820.7" x2="1464.1" y2="832.5" stroke="#f2f030" stroke-width="2.8"/>
<line x1="1464.1" y1="844.2" x2="1464.1" y2="832.5" stroke="#4f9ca0" stroke-width="2.8"/>
<line x1="1464.1" y1="844.2" x2="1452.5" y2="850.3" stroke="#88d2d6" stroke-width="2.8"/>
<line x1="1464.1" y1="844.2" x2="1452.5" y2="850.3" stroke="#e4fafa" stroke-width="0.9"/>
<line x1="1440.9" y1="856.4" x2="1452.5" y2="850.3" stroke="#f2f030" stroke-width="2.8"/>
<line x1="1464.1" y1="844.2" x2="1475.7" y2="850.3" stroke="#88d2d6" stroke-width="2.8"/>
<line x1="1464.1" y1="844.2" x2="1475.7" y2="850.3" stroke="#e4fafa" stroke-width="0.9"/>
<line x1="1487.2" y1="856.4" x2="1475.7" y2="850.3" stroke="#f2f030" stroke-width="2.8"/>
<line x1="1440.9" y1="856.4" x2="1440.9" y2="868.2" stroke="#f2f030" stroke-width="2.8"/>
<line x1="1440.9" y1="880.0" x2="1440.9" y2="868.2" stroke="#4f9ca0" stroke-width="2.8"/>
<line x1="1440.9" y1="880.0" x2="1429.4" y2="886.1" stroke="#88d2d6" stroke-width="2.8"/>
<line x1="1440.9" y1="880.0" x2="1429.4" y2="886.1" stroke="#e4fafa" stroke-width="0.9"/>
<line x1="1417.8" y1="892.2" x2="1429.4" y2="886.1" stroke="#f2f030" stroke-width="2.8"/>
<line x1="1440.9" y1="880.0" x2="1452.5" y2="886.1" stroke="#88d2d6" stroke-width="2.8"/>
<line x1="1440.9" y1="880.0" x2="1452.5" y2="886.1" stroke="#e4fafa" stroke-width="0.9"/>
<line x1="1464.1" y1="892.2" x2="1452.5" y2="886.1" stroke="#f2f030" stroke-width="2.8"/>
<line x1="1510.4" y1="773.6" x2="1498.8" y2="779.4" stroke="#88d2d6" stroke-width="2.8"/>
<line x1="1510.4" y1="773.6" x2="1498.8" y2="779.4" stroke="#e4fafa" stroke-width="0.9"/>
<line x1="1487.2" y1="785.2" x2="1498.8" y2="779.4" stroke="#f2f030" stroke-width="2.8"/>
<line x1="1510.4" y1="773.6" x2="1522.0" y2="779.4" stroke="#88d2d6" stroke-width="2.8"/>
<line x1="1510.4" y1="773.6" x2="1522.0" y2="779.4" stroke="#e4fafa" stroke-width="0.9"/>
<line x1="1533.5" y1="785.2" x2="1522.0" y2="779.4" stroke="#f2f030" stroke-width="2.8"/>
<line x1="1487.2" y1="785.2" x2="1487.2" y2="796.8" stroke="#f2f030" stroke-width="2.8"/>
<line x1="1487.2" y1="808.4" x2="1487.2" y2="796.8" stroke="#4f9ca0" stroke-width="2.8"/>
<line x1="1487.2" y1="808.4" x2="1475.7" y2="814.5" stroke="#88d2d6" stroke-width="2.8"/>
<line x1="1487.2" y1="808.4" x2="1475.7" y2="814.5" stroke="#e4fafa" stroke-width="0.9"/>
<line x1="1464.1" y1="820.7" x2="1475.7" y2="814.5" stroke="#f2f030" stroke-width="2.8"/>
<line x1="1487.2" y1="808.4" x2="1498.8" y2="814.5" stroke="#88d2d6" stroke-width="2.8"/>
<line x1="1487.2" y1="808.4" x2="1498.8" y2="814.5" stroke="#e4fafa" stroke-width="0.9"/>
<line x1="1510.4" y1="820.7" x2="1498.8" y2="814.5" stroke="#f2f030" stroke-width="2.8"/>
<line x1="1510.4" y1="820.7" x2="1510.4" y2="832.5" stroke="#f2f030" stroke-width="2.8"/>
<line x1="1510.4" y1="844.2" x2="1510.4" y2="832.5" stroke="#4f9ca0" stroke-width="2.8"/>
<line x1="1510.4" y1="844.2" x2="1498.8" y2="850.3" stroke="#88d2d6" stroke-width="2.8"/>
<line x1="1510.4" y1="844.2" x2="1498.8" y2="850.3" stroke="#e4fafa" stroke-width="0.9"/>
<line x1="1487.2" y1="856.4" x2="1498.8" y2="850.3" stroke="#f2f030" stroke-width="2.8"/>
<line x1="1510.4" y1="844.2" x2="1522.0" y2="850.3" stroke="#88d2d6" stroke-width="2.8"/>
<line x1="1510.4" y1="844.2" x2="1522.0" y2="850.3" stroke="#e4fafa" stroke-width="0.9"/>
<line x1="1533.5" y1="856.4" x2="1522.0" y2="850.3" stroke="#f2f030" stroke-width="2.8"/>
<line x1="1487.2" y1="856.4" x2="1487.2" y2="868.2" stroke="#f2f030" stroke-width="2.8"/>
<line x1="1487.2" y1="880.0" x2="1487.2" y2="868.2" stroke="#4f9ca0" stroke-width="2.8"/>
<line x1="1487.2" y1="880.0" x2="1475.7" y2="886.1" stroke="#88d2d6" stroke-width="2.8"/>
<line x1="1487.2" y1="880.0" x2="1475.7" y2="886.1" stroke="#e4fafa" stroke-width="0.9"/>
<line x1="1464.1" y1="892.2" x2="1475.7" y2="886.1" stroke="#f2f030" stroke-width="2.8"/>
<line x1="1487.2" y1="880.0" x2="1498.8" y2="886.1" stroke="#88d2d6" stroke-width="2.8"/>
<line x1="1487.2" y1="880.0" x2="1498.8" y2="886.1" stroke="#e4fafa" stroke-width="0.9"/>
<line x1="1510.4" y1="892.2" x2="1498.8" y2="886.1" stroke="#f2f030" stroke-width="2.8"/>
<line x1="1556.7" y1="773.6" x2="1545.1" y2="779.4" stroke="#88d2d6" stroke-width="2.8"/>
<line x1="1556.7" y1="773.6" x2="1545.1" y2="779.4" stroke="#e4fafa" stroke-width="0.9"/>
<line x1="1533.5" y1="785.2" x2="1545.1" y2="779.4" stroke="#f2f030" stroke-width="2.8"/>
<line x1="1556.7" y1="773.6" x2="1568.3" y2="779.4" stroke="#88d2d6" stroke-width="2.8"/>
<line x1="1556.7" y1="773.6" x2="1568.3" y2="779.4" stroke="#e4fafa" stroke-width="0.9"/>
<line x1="1579.8" y1="785.2" x2="1568.3" y2="779.4" stroke="#f2f030" stroke-width="2.8"/>
<line x1="1533.5" y1="785.2" x2="1533.5" y2="796.8" stroke="#f2f030" stroke-width="2.8"/>
<line x1="1533.5" y1="808.4" x2="1533.5" y2="796.8" stroke="#4f9ca0" stroke-width="2.8"/>
<line x1="1533.5" y1="808.4" x2="1522.0" y2="814.5" stroke="#88d2d6" stroke-width="2.8"/>
<line x1="1533.5" y1="808.4" x2="1522.0" y2="814.5" stroke="#e4fafa" stroke-width="0.9"/>
<line x1="1510.4" y1="820.7" x2="1522.0" y2="814.5" stroke="#f2f030" stroke-width="2.8"/>
<line x1="1533.5" y1="808.4" x2="1545.1" y2="814.5" stroke="#88d2d6" stroke-width="2.8"/>
<line x1="1533.5" y1="808.4" x2="1545.1" y2="814.5" stroke="#e4fafa" stroke-width="0.9"/>
<line x1="1556.7" y1="820.7" x2="1545.1" y2="814.5" stroke="#f2f030" stroke-width="2.8"/>
<line x1="1556.7" y1="820.7" x2="1556.7" y2="832.5" stroke="#f2f030" stroke-width="2.8"/>
<line x1="1556.7" y1="844.2" x2="1556.7" y2="832.5" stroke="#4f9ca0" stroke-width="2.8"/>
<line x1="1556.7" y1="844.2" x2="1545.1" y2="850.3" stroke="#88d2d6" stroke-width="2.8"/>
<line x1="1556.7" y1="844.2" x2="1545.1" y2="850.3" stroke="#e4fafa" stroke-width="0.9"/>
<line x1="1533.5" y1="856.4" x2="1545.1" y2="850.3" stroke="#f2f030" stroke-width="2.8"/>
<line x1="1556.7" y1="844.2" x2="1568.3" y2="850.3" stroke="#88d2d6" stroke-width="2.8"/>
<line x1="1556.7" y1="844.2" x2="1568.3" y2="850.3" stroke="#e4fafa" stroke-width="0.9"/>
<line x1="1579.8" y1="856.4" x2="1568.3" y2="850.3" stroke="#f2f030" stroke-width="2.8"/>
<line x1="1533.5" y1="856.4" x2="1533.5" y2="868.2" stroke="#f2f030" stroke-width="2.8"/>
<line x1="1533.5" y1="880.0" x2="1533.5" y2="868.2" stroke="#4f9ca0" stroke-width="2.8"/>
<line x1="1533.5" y1="880.0" x2="1522.0" y2="886.1" stroke="#88d2d6" stroke-width="2.8"/>
<line x1="1533.5" y1="880.0" x2="1522.0" y2="886.1" stroke="#e4fafa" stroke-width="0.9"/>
<line x1="1510.4" y1="892.2" x2="1522.0" y2="886.1" stroke="#f2f030" stroke-width="2.8"/>
<line x1="1533.5" y1="880.0" x2="1545.1" y2="886.1" stroke="#88d2d6" stroke-width="2.8"/>
<line x1="1533.5" y1="880.0" x2="1545.1" y2="886.1" stroke="#e4fafa" stroke-width="0.9"/>
<line x1="1556.7" y1="892.2" x2="1545.1" y2="886.1" stroke="#f2f030" stroke-width="2.8"/>
<line x1="1603.0" y1="773.6" x2="1591.4" y2="779.4" stroke="#88d2d6" stroke-width="2.8"/>
<line x1="1603.0" y1="773.6" x2="1591.4" y2="779.4" stroke="#e4fafa" stroke-width="0.9"/>
<line x1="1579.8" y1="785.2" x2="1591.4" y2="779.4" stroke="#f2f030" stroke-width="2.8"/>
<line x1="1603.0" y1="773.6" x2="1614.6" y2="779.4" stroke="#88d2d6" stroke-width="2.8"/>
<line x1="1603.0" y1="773.6" x2="1614.6" y2="779.4" stroke="#e4fafa" stroke-width="0.9"/>
<line x1="1626.1" y1="785.2" x2="1614.6" y2="779.4" stroke="#f2f030" stroke-width="2.8"/>
<line x1="1579.8" y1="785.2" x2="1579.8" y2="796.8" stroke="#f2f030" stroke-width="2.8"/>
<line x1="1579.8" y1="808.4" x2="1579.8" y2="796.8" stroke="#4f9ca0" stroke-width="2.8"/>
<line x1="1579.8" y1="808.4" x2="1568.3" y2="814.5" stroke="#88d2d6" stroke-width="2.8"/>
<line x1="1579.8" y1="808.4" x2="1568.3" y2="814.5" stroke="#e4fafa" stroke-width="0.9"/>
<line x1="1556.7" y1="820.7" x2="1568.3" y2="814.5" stroke="#f2f030" stroke-width="2.8"/>
<line x1="1579.8" y1="808.4" x2="1591.4" y2="814.5" stroke="#88d2d6" stroke-width="2.8"/>
<line x1="1579.8" y1="808.4" x2="1591.4" y2="814.5" stroke="#e4fafa" stroke-width="0.9"/>
<line x1="1603.0" y1="820.7" x2="1591.4" y2="814.5" stroke="#f2f030" stroke-width="2.8"/>
<line x1="1603.0" y1="820.7" x2="1603.0" y2="832.5" stroke="#f2f030" stroke-width="2.8"/>
<line x1="1603.0" y1="844.2" x2="1603.0" y2="832.5" stroke="#4f9ca0" stroke-width="2.8"/>
<line x1="1603.0" y1="844.2" x2="1591.4" y2="850.3" stroke="#88d2d6" stroke-width="2.8"/>
<line x1="1603.0" y1="844.2" x2="1591.4" y2="850.3" stroke="#e4fafa" stroke-width="0.9"/>
<line x1="1579.8" y1="856.4" x2="1591.4" y2="850.3" stroke="#f2f030" stroke-width="2.8"/>
<line x1="1603.0" y1="844.2" x2="1614.6" y2="850.3" stroke="#88d2d6" stroke-width="2.8"/>
<line x1="1603.0" y1="844.2" x2="1614.6" y2="850.3" stroke="#e4fafa" stroke-width="0.9"/>
<line x1="1626.1" y1="856.4" x2="1614.6" y2="850.3" stroke="#f2f030" stroke-width="2.8"/>
<line x1="1579.8" y1="856.4" x2="1579.8" y2="868.2" stroke="#f2f030" stroke-width="2.8"/>
<line x1="1579.8" y1="880.0" x2="1579.8" y2="868.2" stroke="#4f9ca0" stroke-width="2.8"/>
<line x1="1579.8" y1="880.0" x2="1568.3" y2="886.1" stroke="#88d2d6" stroke-width="2.8"/>
<line x1="1579.8" y1="880.0" x2="1568.3" y2="886.1" stroke="#e4fafa" stroke-width="0.9"/>
<line x1="1556.7" y1="892.2" x2="1568.3" y2="886.1" stroke="#f2f030" stroke-width="2.8"/>
<line x1="1579.8" y1="880.0" x2="1591.4" y2="886.1" stroke="#88d2d6" stroke-width="2.8"/>
<line x1="1579.8" y1="880.0" x2="1591.4" y2="886.1" stroke="#e4fafa" stroke-width="0.9"/>
<line x1="1603.0" y1="892.2" x2="1591.4" y2="886.1" stroke="#f2f030" stroke-width="2.8"/>
<line x1="1649.3" y1="773.6" x2="1637.7" y2="779.4" stroke="#5446f2" stroke-width="2.8"/>
<line x1="1626.1" y1="785.2" x2="1637.7" y2="779.4" stroke="#f2f030" stroke-width="2.8"/>
<line x1="1649.3" y1="773.6" x2="1660.9" y2="779.4" stroke="#5446f2" stroke-width="2.8"/>
<line x1="1672.4" y1="785.2" x2="1660.9" y2="779.4" stroke="#f2f030" stroke-width="2.8"/>
<line x1="1626.1" y1="785.2" x2="1626.1" y2="796.8" stroke="#f2f030" stroke-width="2.8"/>
<line x1="1626.1" y1="808.4" x2="1626.1" y2="796.8" stroke="#5446f2" stroke-width="2.8"/>
<line x1="1626.1" y1="808.4" x2="1614.6" y2="814.5" stroke="#5446f2" stroke-width="2.8"/>
<line x1="1603.0" y1="820.7" x2="1614.6" y2="814.5" stroke="#f2f030" stroke-width="2.8"/>
<line x1="1626.1" y1="808.4" x2="1637.7" y2="814.5" stroke="#5446f2" stroke-width="2.8"/>
<line x1="1649.3" y1="820.7" x2="1637.7" y2="814.5" stroke="#f2f030" stroke-width="2.8"/>
<line x1="1649.3" y1="820.7" x2="1649.3" y2="832.5" stroke="#f2f030" stroke-width="2.8"/>
<line x1="1649.3" y1="844.2" x2="1649.3" y2="832.5" stroke="#5446f2" stroke-width="2.8"/>
<line x1="1649.3" y1="844.2" x2="1637.7" y2="850.3" stroke="#5446f2" stroke-width="2.8"/>
<line x1="1626.1" y1="856.4" x2="1637.7" y2="850.3" stroke="#f2f030" stroke-width="2.8"/>
<line x1="1649.3" y1="844.2" x2="1660.9" y2="850.3" stroke="#5446f2" stroke-width="2.8"/>
<line x1="1672.4" y1="856.4" x2="1660.9" y2="850.3" stroke="#f2f030" stroke-width="2.8"/>
<line x1="1626.1" y1="856.4" x2="1626.1" y2="868.2" stroke="#f2f030" stroke-width="2.8"/>
<line x1="1626.1" y1="880.0" x2="1626.1" y2="868.2" stroke="#5446f2" stroke-width="2.8"/>
<line x1="1626.1" y1="880.0" x2="1614.6" y2="886.1" stroke="#5446f2" stroke-width="2.8"/>
<line x1="1603.0" y1="892.2" x2="1614.6" y2="886.1" stroke="#f2f030" stroke-width="2.8"/>
<line x1="1626.1" y1="880.0" x2="1637.7" y2="886.1" stroke="#5446f2" stroke-width="2.8"/>
<line x1="1649.3" y1="892.2" x2="1637.7" y2="886.1" stroke="#f2f030" stroke-width="2.8"/>
<line x1="1695.6" y1="773.6" x2="1684.0" y2="779.4" stroke="#5446f2" stroke-width="2.8"/>
<line x1="1672.4" y1="785.2" x2="1684.0" y2="779.4" stroke="#f2f030" stroke-width="2.8"/>
<line x1="1695.6" y1="773.6" x2="1707.2" y2="779.4" stroke="#5446f2" stroke-width="2.8"/>
<line x1="1718.7" y1="785.2" x2="1707.2" y2="779.4" stroke="#f2f030" stroke-width="2.8"/>
<line x1="1672.4" y1="785.2" x2="1672.4" y2="796.8" stroke="#f2f030" stroke-width="2.8"/>
<line x1="1672.4" y1="808.4" x2="1672.4" y2="796.8" stroke="#5446f2" stroke-width="2.8"/>
<line x1="1672.4" y1="808.4" x2="1660.9" y2="814.5" stroke="#5446f2" stroke-width="2.8"/>
<line x1="1649.3" y1="820.7" x2="1660.9" y2="814.5" stroke="#f2f030" stroke-width="2.8"/>
<line x1="1672.4" y1="808.4" x2="1684.0" y2="814.5" stroke="#5446f2" stroke-width="2.8"/>
<line x1="1695.6" y1="820.7" x2="1684.0" y2="814.5" stroke="#f2f030" stroke-width="2.8"/>
<line x1="1695.6" y1="820.7" x2="1695.6" y2="832.5" stroke="#f2f030" stroke-width="2.8"/>
<line x1="1695.6" y1="844.2" x2="1695.6" y2="832.5" stroke="#5446f2" stroke-width="2.8"/>
<line x1="1695.6" y1="844.2" x2="1684.0" y2="850.3" stroke="#5446f2" stroke-width="2.8"/>
<line x1="1672.4" y1="856.4" x2="1684.0" y2="850.3" stroke="#f2f030" stroke-width="2.8"/>
<line x1="1695.6" y1="844.2" x2="1707.2" y2="850.3" stroke="#5446f2" stroke-width="2.8"/>
<line x1="1718.7" y1="856.4" x2="1707.2" y2="850.3" stroke="#f2f030" stroke-width="2.8"/>
<line x1="1672.4" y1="856.4" x2="1672.4" y2="868.2" stroke="#f2f030" stroke-width="2.8"/>
<line x1="1672.4" y1="880.0" x2="1672.4" y2="868.2" stroke="#5446f2" stroke-width="2.8"/>
<line x1="1672.4" y1="880.0" x2="1660.9" y2="886.1" stroke="#5446f2" stroke-width="2.8"/>
<line x1="1649.3" y1="892.2" x2="1660.9" y2="886.1" stroke="#f2f030" stroke-width="2.8"/>
<line x1="1672.4" y1="880.0" x2="1684.0" y2="886.1" stroke="#5446f2" stroke-width="2.8"/>
<line x1="1695.6" y1="892.2" x2="1684.0" y2="886.1" stroke="#f2f030" stroke-width="2.8"/>
<line x1="1741.9" y1="773.6" x2="1730.3" y2="779.4" stroke="#5446f2" stroke-width="2.8"/>
<line x1="1718.7" y1="785.2" x2="1730.3" y2="779.4" stroke="#f2f030" stroke-width="2.8"/>
<line x1="1741.9" y1="773.6" x2="1753.5" y2="779.4" stroke="#5446f2" stroke-width="2.8"/>
<line x1="1765.0" y1="785.2" x2="1753.5" y2="779.4" stroke="#f2f030" stroke-width="2.8"/>
<line x1="1718.7" y1="785.2" x2="1718.7" y2="796.8" stroke="#f2f030" stroke-width="2.8"/>
<line x1="1718.7" y1="808.4" x2="1718.7" y2="796.8" stroke="#5446f2" stroke-width="2.8"/>
<line x1="1718.7" y1="808.4" x2="1707.2" y2="814.5" stroke="#5446f2" stroke-width="2.8"/>
<line x1="1695.6" y1="820.7" x2="1707.2" y2="814.5" stroke="#f2f030" stroke-width="2.8"/>
<line x1="1718.7" y1="808.4" x2="1730.3" y2="814.5" stroke="#5446f2" stroke-width="2.8"/>
<line x1="1741.9" y1="820.7" x2="1730.3" y2="814.5" stroke="#f2f030" stroke-width="2.8"/>
<line x1="1741.9" y1="820.7" x2="1741.9" y2="832.5" stroke="#f2f030" stroke-width="2.8"/>
<line x1="1741.9" y1="844.2" x2="1741.9" y2="832.5" stroke="#5446f2" stroke-width="2.8"/>
<line x1="1741.9" y1="844.2" x2="1730.3" y2="850.3" stroke="#5446f2" stroke-width="2.8"/>
<line x1="1718.7" y1="856.4" x2="1730.3" y2="850.3" stroke="#f2f030" stroke-width="2.8"/>
<line x1="1741.9" y1="844.2" x2="1753.5" y2="850.3" stroke="#5446f2" stroke-width="2.8"/>
<line x1="1765.0" y1="856.4" x2="1753.5" y2="850.3" stroke="#f2f030" stroke-width="2.8"/>
<line x1="1718.7" y1="856.4" x2="1718.7" y2="868.2" stroke="#f2f030" stroke-width="2.8"/>
<line x1="1718.7" y1="880.0" x2="1718.7" y2="868.2" stroke="#5446f2" stroke-width="2.8"/>
<line x1="1718.7" y1="880.0" x2="1707.2" y2="886.1" stroke="#5446f2" stroke-width="2.8"/>
<line x1="1695.6" y1="892.2" x2="1707.2" y2="886.1" stroke="#f2f030" stroke-width="2.8"/>
<line x1="1718.7" y1="880.0" x2="1730.3" y2="886.1" stroke="#5446f2" stroke-width="2.8"/>
<line x1="1741.9" y1="892.2" x2="1730.3" y2="886.1" stroke="#f2f030" stroke-width="2.8"/>
<line x1="1788.2" y1="773.6" x2="1776.6" y2="779.4" stroke="#5446f2" stroke-width="2.8"/>
<line x1="1765.0" y1="785.2" x2="1776.6" y2="779.4" stroke="#f2f030" stroke-width="2.8"/>
<line x1="1788.2" y1="773.6" x2="1799.8" y2="779.4" stroke="#5446f2" stroke-width="2.8"/>
<line x1="1811.3" y1="785.2" x2="1799.8" y2="779.4" stroke="#f2f030" stroke-width="2.8"/>
<line x1="1765.0" y1="785.2" x2="1765.0" y2="796.8" stroke="#f2f030" stroke-width="2.8"/>
<line x1="1765.0" y1="808.4" x2="1765.0" y2="796.8" stroke="#5446f2" stroke-width="2.8"/>
<line x1="1765.0" y1="808.4" x2="1753.5" y2="814.5" stroke="#5446f2" stroke-width="2.8"/>
<line x1="1741.9" y1="820.7" x2="1753.5" y2="814.5" stroke="#f2f030" stroke-width="2.8"/>
<line x1="1765.0" y1="808.4" x2="1776.6" y2="814.5" stroke="#5446f2" stroke-width="2.8"/>
<line x1="1788.2" y1="820.7" x2="1776.6" y2="814.5" stroke="#f2f030" stroke-width="2.8"/>
<line x1="1788.2" y1="820.7" x2="1788.2" y2="832.5" stroke="#f2f030" stroke-width="2.8"/>
<line x1="1788.2" y1="844.2" x2="1788.2" y2="832.5" stroke="#5446f2" stroke-width="2.8"/>
<line x1="1788.2" y1="844.2" x2="1776.6" y2="850.3" stroke="#5446f2" stroke-width="2.8"/>
<line x1="1765.0" y1="856.4" x2="1776.6" y2="850.3" stroke="#f2f030" stroke-width="2.8"/>
<line x1="1788.2" y1="844.2" x2="1799.8" y2="850.3" stroke="#5446f2" stroke-width="2.8"/>
<line x1="1811.3" y1="856.4" x2="1799.8" y2="850.3" stroke="#f2f030" stroke-width="2.8"/>
<line x1="1765.0" y1="856.4" x2="1765.0" y2="868.2" stroke="#f2f030" stroke-width="2.8"/>
<line x1="1765.0" y1="880.0" x2="1765.0" y2="868.2" stroke="#5446f2" stroke-width="2.8"/>
<line x1="1765.0" y1="880.0" x2="1753.5" y2="886.1" stroke="#5446f2" stroke-width="2.8"/>
<line x1="1741.9" y1="892.2" x2="1753.5" y2="886.1" stroke="#f2f030" stroke-width="2.8"/>
<line x1="1765.0" y1="880.0" x2="1776.6" y2="886.1" stroke="#5446f2" stroke-width="2.8"/>
<line x1="1788.2" y1="892.2" x2="1776.6" y2="886.1" stroke="#f2f030" stroke-width="2.8"/>
<line x1="1834.5" y1="773.6" x2="1822.9" y2="779.4" stroke="#5446f2" stroke-width="2.8"/>
<line x1="1811.3" y1="785.2" x2="1822.9" y2="779.4" stroke="#f2f030" stroke-width="2.8"/>
<line x1="1811.3" y1="785.2" x2="1811.3" y2="796.8" stroke="#f2f030" stroke-width="2.8"/>
<line x1="1811.3" y1="808.4" x2="1811.3" y2="796.8" stroke="#5446f2" stroke-width="2.8"/>
<line x1="1811.3" y1="808.4" x2="1799.8" y2="814.5" stroke="#5446f2" stroke-width="2.8"/>
<line x1="1788.2" y1="820.7" x2="1799.8" y2="814.5" stroke="#f2f030" stroke-width="2.8"/>
<line x1="1811.3" y1="808.4" x2="1822.9" y2="814.5" stroke="#5446f2" stroke-width="2.8"/>
<line x1="1834.5" y1="820.7" x2="1822.9" y2="814.5" stroke="#f2f030" stroke-width="2.8"/>
<line x1="1834.5" y1="844.2" x2="1822.9" y2="850.3" stroke="#5446f2" stroke-width="2.8"/>
<line x1="1811.3" y1="856.4" x2="1822.9" y2="850.3" stroke="#f2f030" stroke-width="2.8"/>
<line x1="1811.3" y1="856.4" x2="1811.3" y2="868.2" stroke="#f2f030" stroke-width="2.8"/>
<line x1="1811.3" y1="880.0" x2="1811.3" y2="868.2" stroke="#5446f2" stroke-width="2.8"/>
<line x1="1811.3" y1="880.0" x2="1799.8" y2="886.1" stroke="#5446f2" stroke-width="2.8"/>
<line x1="1788.2" y1="892.2" x2="1799.8" y2="886.1" stroke="#f2f030" stroke-width="2.8"/>
<line x1="1811.3" y1="880.0" x2="1822.9" y2="886.1" stroke="#5446f2" stroke-width="2.8"/>
<line x1="1834.5" y1="892.2" x2="1822.9" y2="886.1" stroke="#f2f030" stroke-width="2.8"/>
<ellipse cx="1163.1" cy="785.2" rx="7.4" ry="6.3" fill="url(#gY)"/>
<ellipse cx="1209.4" cy="785.2" rx="7.4" ry="6.3" fill="url(#gY)"/>
<ellipse cx="1255.7" cy="785.2" rx="7.4" ry="6.3" fill="url(#gY)"/>
<ellipse cx="1302.0" cy="785.2" rx="7.4" ry="6.3" fill="url(#gY)"/>
<ellipse cx="1348.3" cy="785.2" rx="7.4" ry="6.3" fill="url(#gY)"/>
<ellipse cx="1394.6" cy="785.2" rx="7.4" ry="6.3" fill="url(#gY)"/>
<ellipse cx="1440.9" cy="785.2" rx="7.4" ry="6.3" fill="url(#gY)"/>
<ellipse cx="1487.2" cy="785.2" rx="7.4" ry="6.3" fill="url(#gY)"/>
<ellipse cx="1533.5" cy="785.2" rx="7.4" ry="6.3" fill="url(#gY)"/>
<ellipse cx="1579.8" cy="785.2" rx="7.4" ry="6.3" fill="url(#gY)"/>
<ellipse cx="1626.1" cy="785.2" rx="7.4" ry="6.3" fill="url(#gY)"/>
<ellipse cx="1672.4" cy="785.2" rx="7.4" ry="6.3" fill="url(#gY)"/>
<ellipse cx="1718.7" cy="785.2" rx="7.4" ry="6.3" fill="url(#gY)"/>
<ellipse cx="1765.0" cy="785.2" rx="7.4" ry="6.3" fill="url(#gY)"/>
<ellipse cx="1811.3" cy="785.2" rx="7.4" ry="6.3" fill="url(#gY)"/>
<ellipse cx="1140.0" cy="820.7" rx="7.4" ry="6.3" fill="url(#gY)"/>
<ellipse cx="1186.3" cy="820.7" rx="7.4" ry="6.3" fill="url(#gY)"/>
<ellipse cx="1232.6" cy="820.7" rx="7.4" ry="6.3" fill="url(#gY)"/>
<ellipse cx="1278.9" cy="820.7" rx="7.4" ry="6.3" fill="url(#gY)"/>
<ellipse cx="1325.2" cy="820.7" rx="7.4" ry="6.3" fill="url(#gY)"/>
<ellipse cx="1371.5" cy="820.7" rx="7.4" ry="6.3" fill="url(#gY)"/>
<ellipse cx="1417.8" cy="820.7" rx="7.4" ry="6.3" fill="url(#gY)"/>
<ellipse cx="1464.1" cy="820.7" rx="7.4" ry="6.3" fill="url(#gY)"/>
<ellipse cx="1510.4" cy="820.7" rx="7.4" ry="6.3" fill="url(#gY)"/>
<ellipse cx="1556.7" cy="820.7" rx="7.4" ry="6.3" fill="url(#gY)"/>
<ellipse cx="1603.0" cy="820.7" rx="7.4" ry="6.3" fill="url(#gY)"/>
<ellipse cx="1649.3" cy="820.7" rx="7.4" ry="6.3" fill="url(#gY)"/>
<ellipse cx="1695.6" cy="820.7" rx="7.4" ry="6.3" fill="url(#gY)"/>
<ellipse cx="1741.9" cy="820.7" rx="7.4" ry="6.3" fill="url(#gY)"/>
<ellipse cx="1788.2" cy="820.7" rx="7.4" ry="6.3" fill="url(#gY)"/>
<ellipse cx="1163.1" cy="856.4" rx="7.4" ry="6.3" fill="url(#gY)"/>
<ellipse cx="1209.4" cy="856.4" rx="7.4" ry="6.3" fill="url(#gY)"/>
<ellipse cx="1255.7" cy="856.4" rx="7.4" ry="6.3" fill="url(#gY)"/>
<ellipse cx="1302.0" cy="856.4" rx="7.4" ry="6.3" fill="url(#gY)"/>
<ellipse cx="1348.3" cy="856.4" rx="7.4" ry="6.3" fill="url(#gY)"/>
<ellipse cx="1394.6" cy="856.4" rx="7.4" ry="6.3" fill="url(#gY)"/>
<ellipse cx="1440.9" cy="856.4" rx="7.4" ry="6.3" fill="url(#gY)"/>
<ellipse cx="1487.2" cy="856.4" rx="7.4" ry="6.3" fill="url(#gY)"/>
<ellipse cx="1533.5" cy="856.4" rx="7.4" ry="6.3" fill="url(#gY)"/>
<ellipse cx="1579.8" cy="856.4" rx="7.4" ry="6.3" fill="url(#gY)"/>
<ellipse cx="1626.1" cy="856.4" rx="7.4" ry="6.3" fill="url(#gY)"/>
<ellipse cx="1672.4" cy="856.4" rx="7.4" ry="6.3" fill="url(#gY)"/>
<ellipse cx="1718.7" cy="856.4" rx="7.4" ry="6.3" fill="url(#gY)"/>
<ellipse cx="1765.0" cy="856.4" rx="7.4" ry="6.3" fill="url(#gY)"/>
<ellipse cx="1811.3" cy="856.4" rx="7.4" ry="6.3" fill="url(#gY)"/>
<ellipse cx="1140.0" cy="892.2" rx="7.4" ry="6.3" fill="url(#gY)"/>
<ellipse cx="1186.3" cy="892.2" rx="7.4" ry="6.3" fill="url(#gY)"/>
<ellipse cx="1232.6" cy="892.2" rx="7.4" ry="6.3" fill="url(#gY)"/>
<ellipse cx="1278.9" cy="892.2" rx="7.4" ry="6.3" fill="url(#gY)"/>
<ellipse cx="1325.2" cy="892.2" rx="7.4" ry="6.3" fill="url(#gY)"/>
<ellipse cx="1371.5" cy="892.2" rx="7.4" ry="6.3" fill="url(#gY)"/>
<ellipse cx="1417.8" cy="892.2" rx="7.4" ry="6.3" fill="url(#gY)"/>
<ellipse cx="1464.1" cy="892.2" rx="7.4" ry="6.3" fill="url(#gY)"/>
<ellipse cx="1510.4" cy="892.2" rx="7.4" ry="6.3" fill="url(#gY)"/>
<ellipse cx="1556.7" cy="892.2" rx="7.4" ry="6.3" fill="url(#gY)"/>
<ellipse cx="1603.0" cy="892.2" rx="7.4" ry="6.3" fill="url(#gY)"/>
<ellipse cx="1649.3" cy="892.2" rx="7.4" ry="6.3" fill="url(#gY)"/>
<ellipse cx="1695.6" cy="892.2" rx="7.4" ry="6.3" fill="url(#gY)"/>
<ellipse cx="1741.9" cy="892.2" rx="7.4" ry="6.3" fill="url(#gY)"/>
<ellipse cx="1788.2" cy="892.2" rx="7.4" ry="6.3" fill="url(#gY)"/>
</g>
<rect x="1148.5" y="749.1" width="96.0" height="163.0" fill="#bababa" style="mix-blend-mode:multiply"/>
<rect x="1707.0" y="749.1" width="96.20000000000005" height="163.0" fill="#bababa" style="mix-blend-mode:multiply"/>
<ellipse cx="1267.0" cy="775.0" rx="8.5" ry="7" fill="url(#oG)" transform="rotate(0 1267.0 775.0)"/>
<path d="M1283.2,765.1 C1284,760 1292,756.5 1302,756.1 C1310,755.8 1319,757.5 1321.8,763.3 C1323.5,768 1320,774.5 1315.2,775.5 C1311,776.2 1308.5,773.5 1305.8,773.6 C1302,773.8 1297,775.2 1290.7,777.4 C1286.5,778.6 1282.8,771 1283.2,765.1 Z" fill="url(#oG)"/>
<ellipse cx="1333.5" cy="778.8" rx="7" ry="6" fill="url(#oG)" transform="rotate(0 1333.5 778.8)"/>
<ellipse cx="1300.0" cy="792.5" rx="5.6" ry="3.8" fill="url(#oG)" transform="rotate(0 1300.0 792.5)"/>
<ellipse cx="1255.0" cy="808.5" rx="6.6" ry="5.6" fill="url(#oG)" transform="rotate(0 1255.0 808.5)"/>
<ellipse cx="1340.0" cy="808.0" rx="3.5" ry="2" fill="url(#oG)" transform="rotate(0 1340.0 808.0)"/>
<ellipse cx="1358.0" cy="808.0" rx="3.5" ry="2" fill="url(#oG)" transform="rotate(0 1358.0 808.0)"/>
<ellipse cx="1365.5" cy="780.7" rx="5" ry="3.5" fill="url(#oG)" transform="rotate(0 1365.5 780.7)"/>
<ellipse cx="1382.5" cy="764.2" rx="12" ry="7.5" fill="url(#oG)" transform="rotate(0 1382.5 764.2)"/>
<ellipse cx="1413.0" cy="758.5" rx="19" ry="9.5" fill="url(#oG)" transform="rotate(-5 1413.0 758.5)"/>
<ellipse cx="1419.7" cy="782.5" rx="6.6" ry="4.3" fill="url(#oG)" transform="rotate(0 1419.7 782.5)"/>
<ellipse cx="1394.3" cy="809.0" rx="5.6" ry="6" fill="url(#oG)" transform="rotate(0 1394.3 809.0)"/>
<ellipse cx="1440.4" cy="809.0" rx="6.6" ry="6" fill="url(#oG)" transform="rotate(0 1440.4 809.0)"/>
<ellipse cx="1464.0" cy="783.5" rx="7.5" ry="6" fill="url(#oG)" transform="rotate(0 1464.0 783.5)"/>
<ellipse cx="1301.0" cy="879.1" rx="3" ry="4.5" fill="url(#oG)" transform="rotate(0 1301.0 879.1)"/>
<path d="M1445,758 C1445,748 1455,745 1465,746 C1475,747 1483,750 1490,749.5 C1498,748 1503,745 1511,745.5 C1522,746 1533,750 1532,756 C1531,762 1522,765 1511,765.5 C1502,766 1497,763.5 1490,763.5 C1482,764 1476,768.5 1466,769 C1452,770 1445,766 1445,758 Z" fill="url(#oG)"/>
<ellipse cx="1510.7" cy="783.0" rx="8" ry="4.7" fill="url(#oG)" transform="rotate(0 1510.7 783.0)"/>
<ellipse cx="1554.5" cy="758.5" rx="17" ry="9.5" fill="url(#oG)" transform="rotate(0 1554.5 758.5)"/>
<ellipse cx="1556.4" cy="782.5" rx="6.6" ry="5.2" fill="url(#oG)" transform="rotate(0 1556.4 782.5)"/>
<ellipse cx="1487.0" cy="809.5" rx="8" ry="7.5" fill="url(#oG)" transform="rotate(0 1487.0 809.5)"/>
<ellipse cx="1533.0" cy="809.5" rx="7.5" ry="7.5" fill="url(#oG)" transform="rotate(0 1533.0 809.5)"/>
<ellipse cx="1579.4" cy="809.0" rx="6" ry="5" fill="url(#oG)" transform="rotate(0 1579.4 809.0)"/>
<ellipse cx="1596.9" cy="768.5" rx="1.5" ry="1.5" fill="url(#oG)" transform="rotate(0 1596.9 768.5)"/>
<clipPath id="dclip2"><rect x="1146.2" y="901.6" width="652.3" height="202.39999999999998"/></clipPath>
<g clip-path="url(#dclip2)">
<ellipse cx="1182.4" cy="941.7" rx="7.3" ry="6.4" fill="url(#gB)"/>
<ellipse cx="1228.6" cy="941.7" rx="7.3" ry="6.4" fill="url(#gB)"/>
<ellipse cx="1274.9" cy="941.7" rx="7.3" ry="6.4" fill="url(#gB)"/>
<ellipse cx="1321.1" cy="941.7" rx="7.3" ry="6.4" fill="url(#gB)"/>
<ellipse cx="1367.3" cy="941.7" rx="7.3" ry="6.4" fill="url(#gC)"/>
<ellipse cx="1413.6" cy="941.7" rx="7.3" ry="6.4" fill="url(#gC)"/>
<ellipse cx="1459.8" cy="941.7" rx="7.3" ry="6.4" fill="url(#gC)"/>
<ellipse cx="1506.0" cy="941.7" rx="7.3" ry="6.4" fill="url(#gC)"/>
<ellipse cx="1552.2" cy="941.7" rx="7.3" ry="6.4" fill="url(#gC)"/>
<ellipse cx="1598.5" cy="941.7" rx="7.3" ry="6.4" fill="url(#gC)"/>
<ellipse cx="1644.7" cy="941.7" rx="7.3" ry="6.4" fill="url(#gB)"/>
<ellipse cx="1690.9" cy="941.7" rx="7.3" ry="6.4" fill="url(#gB)"/>
<ellipse cx="1737.2" cy="941.7" rx="7.3" ry="6.4" fill="url(#gB)"/>
<ellipse cx="1783.4" cy="941.7" rx="7.3" ry="6.4" fill="url(#gB)"/>
<ellipse cx="1159.3" cy="976.2" rx="7.3" ry="6.4" fill="url(#gB)"/>
<ellipse cx="1205.5" cy="976.2" rx="7.3" ry="6.4" fill="url(#gB)"/>
<ellipse cx="1251.7" cy="976.2" rx="7.3" ry="6.4" fill="url(#gB)"/>
<ellipse cx="1298.0" cy="976.2" rx="7.3" ry="6.4" fill="url(#gB)"/>
<ellipse cx="1344.2" cy="976.2" rx="7.3" ry="6.4" fill="url(#gC)"/>
<ellipse cx="1390.4" cy="976.2" rx="7.3" ry="6.4" fill="url(#gC)"/>
<ellipse cx="1436.7" cy="976.2" rx="7.3" ry="6.4" fill="url(#gC)"/>
<ellipse cx="1482.9" cy="976.2" rx="7.3" ry="6.4" fill="url(#gC)"/>
<ellipse cx="1529.1" cy="976.2" rx="7.3" ry="6.4" fill="url(#gC)"/>
<ellipse cx="1575.4" cy="976.2" rx="7.3" ry="6.4" fill="url(#gC)"/>
<ellipse cx="1621.6" cy="976.2" rx="7.3" ry="6.4" fill="url(#gB)"/>
<ellipse cx="1667.8" cy="976.2" rx="7.3" ry="6.4" fill="url(#gB)"/>
<ellipse cx="1714.0" cy="976.2" rx="7.3" ry="6.4" fill="url(#gB)"/>
<ellipse cx="1760.3" cy="976.2" rx="7.3" ry="6.4" fill="url(#gB)"/>
<ellipse cx="1806.5" cy="976.2" rx="7.3" ry="6.4" fill="url(#gB)"/>
<ellipse cx="1182.4" cy="1011.4" rx="7.3" ry="6.4" fill="url(#gB)"/>
<ellipse cx="1228.6" cy="1011.4" rx="7.3" ry="6.4" fill="url(#gB)"/>
<ellipse cx="1274.9" cy="1011.4" rx="7.3" ry="6.4" fill="url(#gB)"/>
<ellipse cx="1321.1" cy="1011.4" rx="7.3" ry="6.4" fill="url(#gB)"/>
<ellipse cx="1367.3" cy="1011.4" rx="7.3" ry="6.4" fill="url(#gC)"/>
<ellipse cx="1413.6" cy="1011.4" rx="7.3" ry="6.4" fill="url(#gC)"/>
<ellipse cx="1459.8" cy="1011.4" rx="7.3" ry="6.4" fill="url(#gC)"/>
<ellipse cx="1506.0" cy="1011.4" rx="7.3" ry="6.4" fill="url(#gC)"/>
<ellipse cx="1552.2" cy="1011.4" rx="7.3" ry="6.4" fill="url(#gC)"/>
<ellipse cx="1598.5" cy="1011.4" rx="7.3" ry="6.4" fill="url(#gC)"/>
<ellipse cx="1644.7" cy="1011.4" rx="7.3" ry="6.4" fill="url(#gB)"/>
<ellipse cx="1690.9" cy="1011.4" rx="7.3" ry="6.4" fill="url(#gB)"/>
<ellipse cx="1737.2" cy="1011.4" rx="7.3" ry="6.4" fill="url(#gB)"/>
<ellipse cx="1783.4" cy="1011.4" rx="7.3" ry="6.4" fill="url(#gB)"/>
<ellipse cx="1159.3" cy="1046.3" rx="7.3" ry="6.4" fill="url(#gB)"/>
<ellipse cx="1205.5" cy="1046.3" rx="7.3" ry="6.4" fill="url(#gB)"/>
<ellipse cx="1251.7" cy="1046.3" rx="7.3" ry="6.4" fill="url(#gB)"/>
<ellipse cx="1298.0" cy="1046.3" rx="7.3" ry="6.4" fill="url(#gB)"/>
<ellipse cx="1344.2" cy="1046.3" rx="7.3" ry="6.4" fill="url(#gC)"/>
<ellipse cx="1390.4" cy="1046.3" rx="7.3" ry="6.4" fill="url(#gC)"/>
<ellipse cx="1436.7" cy="1046.3" rx="7.3" ry="6.4" fill="url(#gC)"/>
<ellipse cx="1482.9" cy="1046.3" rx="7.3" ry="6.4" fill="url(#gC)"/>
<ellipse cx="1529.1" cy="1046.3" rx="7.3" ry="6.4" fill="url(#gC)"/>
<ellipse cx="1575.4" cy="1046.3" rx="7.3" ry="6.4" fill="url(#gC)"/>
<ellipse cx="1621.6" cy="1046.3" rx="7.3" ry="6.4" fill="url(#gB)"/>
<ellipse cx="1667.8" cy="1046.3" rx="7.3" ry="6.4" fill="url(#gB)"/>
<ellipse cx="1714.0" cy="1046.3" rx="7.3" ry="6.4" fill="url(#gB)"/>
<ellipse cx="1760.3" cy="1046.3" rx="7.3" ry="6.4" fill="url(#gB)"/>
<ellipse cx="1806.5" cy="1046.3" rx="7.3" ry="6.4" fill="url(#gB)"/>
<line x1="1136.2" y1="941.7" x2="1124.6" y2="947.7" stroke="#5446f2" stroke-width="2.8"/>
<line x1="1113.1" y1="953.6" x2="1124.6" y2="947.7" stroke="#f2f030" stroke-width="2.8"/>
<line x1="1136.2" y1="941.7" x2="1147.7" y2="947.7" stroke="#5446f2" stroke-width="2.8"/>
<line x1="1159.3" y1="953.6" x2="1147.7" y2="947.7" stroke="#f2f030" stroke-width="2.8"/>
<line x1="1113.1" y1="976.2" x2="1124.6" y2="982.1" stroke="#5446f2" stroke-width="2.8"/>
<line x1="1136.2" y1="987.9" x2="1124.6" y2="982.1" stroke="#f2f030" stroke-width="2.8"/>
<line x1="1136.2" y1="987.9" x2="1136.2" y2="999.7" stroke="#f2f030" stroke-width="2.8"/>
<line x1="1136.2" y1="1011.4" x2="1136.2" y2="999.7" stroke="#5446f2" stroke-width="2.8"/>
<line x1="1136.2" y1="1011.4" x2="1124.6" y2="1017.1" stroke="#5446f2" stroke-width="2.8"/>
<line x1="1113.1" y1="1022.7" x2="1124.6" y2="1017.1" stroke="#f2f030" stroke-width="2.8"/>
<line x1="1136.2" y1="1011.4" x2="1147.7" y2="1017.1" stroke="#5446f2" stroke-width="2.8"/>
<line x1="1159.3" y1="1022.7" x2="1147.7" y2="1017.1" stroke="#f2f030" stroke-width="2.8"/>
<line x1="1113.1" y1="1046.3" x2="1124.6" y2="1052.0" stroke="#5446f2" stroke-width="2.8"/>
<line x1="1136.2" y1="1057.6" x2="1124.6" y2="1052.0" stroke="#f2f030" stroke-width="2.8"/>
<line x1="1182.4" y1="941.7" x2="1170.8" y2="947.7" stroke="#5446f2" stroke-width="2.8"/>
<line x1="1159.3" y1="953.6" x2="1170.8" y2="947.7" stroke="#f2f030" stroke-width="2.8"/>
<line x1="1182.4" y1="941.7" x2="1194.0" y2="947.7" stroke="#5446f2" stroke-width="2.8"/>
<line x1="1205.5" y1="953.6" x2="1194.0" y2="947.7" stroke="#f2f030" stroke-width="2.8"/>
<line x1="1159.3" y1="953.6" x2="1159.3" y2="964.9" stroke="#f2f030" stroke-width="2.8"/>
<line x1="1159.3" y1="976.2" x2="1159.3" y2="964.9" stroke="#5446f2" stroke-width="2.8"/>
<line x1="1159.3" y1="976.2" x2="1147.7" y2="982.1" stroke="#5446f2" stroke-width="2.8"/>
<line x1="1136.2" y1="987.9" x2="1147.7" y2="982.1" stroke="#f2f030" stroke-width="2.8"/>
<line x1="1159.3" y1="976.2" x2="1170.8" y2="982.1" stroke="#5446f2" stroke-width="2.8"/>
<line x1="1182.4" y1="987.9" x2="1170.8" y2="982.1" stroke="#f2f030" stroke-width="2.8"/>
<line x1="1182.4" y1="987.9" x2="1182.4" y2="999.7" stroke="#f2f030" stroke-width="2.8"/>
<line x1="1182.4" y1="1011.4" x2="1182.4" y2="999.7" stroke="#5446f2" stroke-width="2.8"/>
<line x1="1182.4" y1="1011.4" x2="1170.8" y2="1017.1" stroke="#5446f2" stroke-width="2.8"/>
<line x1="1159.3" y1="1022.7" x2="1170.8" y2="1017.1" stroke="#f2f030" stroke-width="2.8"/>
<line x1="1182.4" y1="1011.4" x2="1194.0" y2="1017.1" stroke="#5446f2" stroke-width="2.8"/>
<line x1="1205.5" y1="1022.7" x2="1194.0" y2="1017.1" stroke="#f2f030" stroke-width="2.8"/>
<line x1="1159.3" y1="1022.7" x2="1159.3" y2="1034.5" stroke="#f2f030" stroke-width="2.8"/>
<line x1="1159.3" y1="1046.3" x2="1159.3" y2="1034.5" stroke="#5446f2" stroke-width="2.8"/>
<line x1="1159.3" y1="1046.3" x2="1147.7" y2="1052.0" stroke="#5446f2" stroke-width="2.8"/>
<line x1="1136.2" y1="1057.6" x2="1147.7" y2="1052.0" stroke="#f2f030" stroke-width="2.8"/>
<line x1="1159.3" y1="1046.3" x2="1170.8" y2="1052.0" stroke="#5446f2" stroke-width="2.8"/>
<line x1="1182.4" y1="1057.6" x2="1170.8" y2="1052.0" stroke="#f2f030" stroke-width="2.8"/>
<line x1="1228.6" y1="941.7" x2="1217.1" y2="947.7" stroke="#5446f2" stroke-width="2.8"/>
<line x1="1205.5" y1="953.6" x2="1217.1" y2="947.7" stroke="#f2f030" stroke-width="2.8"/>
<line x1="1228.6" y1="941.7" x2="1240.2" y2="947.7" stroke="#5446f2" stroke-width="2.8"/>
<line x1="1251.7" y1="953.6" x2="1240.2" y2="947.7" stroke="#f2f030" stroke-width="2.8"/>
<line x1="1205.5" y1="953.6" x2="1205.5" y2="964.9" stroke="#f2f030" stroke-width="2.8"/>
<line x1="1205.5" y1="976.2" x2="1205.5" y2="964.9" stroke="#5446f2" stroke-width="2.8"/>
<line x1="1205.5" y1="976.2" x2="1194.0" y2="982.1" stroke="#5446f2" stroke-width="2.8"/>
<line x1="1182.4" y1="987.9" x2="1194.0" y2="982.1" stroke="#f2f030" stroke-width="2.8"/>
<line x1="1205.5" y1="976.2" x2="1217.1" y2="982.1" stroke="#5446f2" stroke-width="2.8"/>
<line x1="1228.6" y1="987.9" x2="1217.1" y2="982.1" stroke="#f2f030" stroke-width="2.8"/>
<line x1="1228.6" y1="987.9" x2="1228.6" y2="999.7" stroke="#f2f030" stroke-width="2.8"/>
<line x1="1228.6" y1="1011.4" x2="1228.6" y2="999.7" stroke="#5446f2" stroke-width="2.8"/>
<line x1="1228.6" y1="1011.4" x2="1217.1" y2="1017.1" stroke="#5446f2" stroke-width="2.8"/>
<line x1="1205.5" y1="1022.7" x2="1217.1" y2="1017.1" stroke="#f2f030" stroke-width="2.8"/>
<line x1="1228.6" y1="1011.4" x2="1240.2" y2="1017.1" stroke="#5446f2" stroke-width="2.8"/>
<line x1="1251.7" y1="1022.7" x2="1240.2" y2="1017.1" stroke="#f2f030" stroke-width="2.8"/>
<line x1="1205.5" y1="1022.7" x2="1205.5" y2="1034.5" stroke="#f2f030" stroke-width="2.8"/>
<line x1="1205.5" y1="1046.3" x2="1205.5" y2="1034.5" stroke="#5446f2" stroke-width="2.8"/>
<line x1="1205.5" y1="1046.3" x2="1194.0" y2="1052.0" stroke="#5446f2" stroke-width="2.8"/>
<line x1="1182.4" y1="1057.6" x2="1194.0" y2="1052.0" stroke="#f2f030" stroke-width="2.8"/>
<line x1="1205.5" y1="1046.3" x2="1217.1" y2="1052.0" stroke="#5446f2" stroke-width="2.8"/>
<line x1="1228.6" y1="1057.6" x2="1217.1" y2="1052.0" stroke="#f2f030" stroke-width="2.8"/>
<line x1="1274.9" y1="941.7" x2="1263.3" y2="947.7" stroke="#5446f2" stroke-width="2.8"/>
<line x1="1251.7" y1="953.6" x2="1263.3" y2="947.7" stroke="#f2f030" stroke-width="2.8"/>
<line x1="1274.9" y1="941.7" x2="1286.4" y2="947.7" stroke="#5446f2" stroke-width="2.8"/>
<line x1="1298.0" y1="953.6" x2="1286.4" y2="947.7" stroke="#f2f030" stroke-width="2.8"/>
<line x1="1251.7" y1="953.6" x2="1251.7" y2="964.9" stroke="#f2f030" stroke-width="2.8"/>
<line x1="1251.7" y1="976.2" x2="1251.7" y2="964.9" stroke="#5446f2" stroke-width="2.8"/>
<line x1="1251.7" y1="976.2" x2="1240.2" y2="982.1" stroke="#5446f2" stroke-width="2.8"/>
<line x1="1228.6" y1="987.9" x2="1240.2" y2="982.1" stroke="#f2f030" stroke-width="2.8"/>
<line x1="1251.7" y1="976.2" x2="1263.3" y2="982.1" stroke="#5446f2" stroke-width="2.8"/>
<line x1="1274.9" y1="987.9" x2="1263.3" y2="982.1" stroke="#f2f030" stroke-width="2.8"/>
<line x1="1274.9" y1="987.9" x2="1274.9" y2="999.7" stroke="#f2f030" stroke-width="2.8"/>
<line x1="1274.9" y1="1011.4" x2="1274.9" y2="999.7" stroke="#5446f2" stroke-width="2.8"/>
<line x1="1274.9" y1="1011.4" x2="1263.3" y2="1017.1" stroke="#5446f2" stroke-width="2.8"/>
<line x1="1251.7" y1="1022.7" x2="1263.3" y2="1017.1" stroke="#f2f030" stroke-width="2.8"/>
<line x1="1274.9" y1="1011.4" x2="1286.4" y2="1017.1" stroke="#5446f2" stroke-width="2.8"/>
<line x1="1298.0" y1="1022.7" x2="1286.4" y2="1017.1" stroke="#f2f030" stroke-width="2.8"/>
<line x1="1251.7" y1="1022.7" x2="1251.7" y2="1034.5" stroke="#f2f030" stroke-width="2.8"/>
<line x1="1251.7" y1="1046.3" x2="1251.7" y2="1034.5" stroke="#5446f2" stroke-width="2.8"/>
<line x1="1251.7" y1="1046.3" x2="1240.2" y2="1052.0" stroke="#5446f2" stroke-width="2.8"/>
<line x1="1228.6" y1="1057.6" x2="1240.2" y2="1052.0" stroke="#f2f030" stroke-width="2.8"/>
<line x1="1251.7" y1="1046.3" x2="1263.3" y2="1052.0" stroke="#5446f2" stroke-width="2.8"/>
<line x1="1274.9" y1="1057.6" x2="1263.3" y2="1052.0" stroke="#f2f030" stroke-width="2.8"/>
<line x1="1321.1" y1="941.7" x2="1309.5" y2="947.7" stroke="#5446f2" stroke-width="2.8"/>
<line x1="1298.0" y1="953.6" x2="1309.5" y2="947.7" stroke="#f2f030" stroke-width="2.8"/>
<line x1="1321.1" y1="941.7" x2="1332.6" y2="947.7" stroke="#5446f2" stroke-width="2.8"/>
<line x1="1344.2" y1="953.6" x2="1332.6" y2="947.7" stroke="#f2f030" stroke-width="2.8"/>
<line x1="1298.0" y1="953.6" x2="1298.0" y2="964.9" stroke="#f2f030" stroke-width="2.8"/>
<line x1="1298.0" y1="976.2" x2="1298.0" y2="964.9" stroke="#5446f2" stroke-width="2.8"/>
<line x1="1298.0" y1="976.2" x2="1286.4" y2="982.1" stroke="#5446f2" stroke-width="2.8"/>
<line x1="1274.9" y1="987.9" x2="1286.4" y2="982.1" stroke="#f2f030" stroke-width="2.8"/>
<line x1="1298.0" y1="976.2" x2="1309.5" y2="982.1" stroke="#5446f2" stroke-width="2.8"/>
<line x1="1321.1" y1="987.9" x2="1309.5" y2="982.1" stroke="#f2f030" stroke-width="2.8"/>
<line x1="1321.1" y1="987.9" x2="1321.1" y2="999.7" stroke="#f2f030" stroke-width="2.8"/>
<line x1="1321.1" y1="1011.4" x2="1321.1" y2="999.7" stroke="#5446f2" stroke-width="2.8"/>
<line x1="1321.1" y1="1011.4" x2="1309.5" y2="1017.1" stroke="#5446f2" stroke-width="2.8"/>
<line x1="1298.0" y1="1022.7" x2="1309.5" y2="1017.1" stroke="#f2f030" stroke-width="2.8"/>
<line x1="1321.1" y1="1011.4" x2="1332.6" y2="1017.1" stroke="#5446f2" stroke-width="2.8"/>
<line x1="1344.2" y1="1022.7" x2="1332.6" y2="1017.1" stroke="#f2f030" stroke-width="2.8"/>
<line x1="1298.0" y1="1022.7" x2="1298.0" y2="1034.5" stroke="#f2f030" stroke-width="2.8"/>
<line x1="1298.0" y1="1046.3" x2="1298.0" y2="1034.5" stroke="#5446f2" stroke-width="2.8"/>
<line x1="1298.0" y1="1046.3" x2="1286.4" y2="1052.0" stroke="#5446f2" stroke-width="2.8"/>
<line x1="1274.9" y1="1057.6" x2="1286.4" y2="1052.0" stroke="#f2f030" stroke-width="2.8"/>
<line x1="1298.0" y1="1046.3" x2="1309.5" y2="1052.0" stroke="#5446f2" stroke-width="2.8"/>
<line x1="1321.1" y1="1057.6" x2="1309.5" y2="1052.0" stroke="#f2f030" stroke-width="2.8"/>
<line x1="1367.3" y1="941.7" x2="1355.8" y2="947.7" stroke="#88d2d6" stroke-width="2.8"/>
<line x1="1367.3" y1="941.7" x2="1355.8" y2="947.7" stroke="#e4fafa" stroke-width="0.9"/>
<line x1="1344.2" y1="953.6" x2="1355.8" y2="947.7" stroke="#f2f030" stroke-width="2.8"/>
<line x1="1367.3" y1="941.7" x2="1378.9" y2="947.7" stroke="#88d2d6" stroke-width="2.8"/>
<line x1="1367.3" y1="941.7" x2="1378.9" y2="947.7" stroke="#e4fafa" stroke-width="0.9"/>
<line x1="1390.4" y1="953.6" x2="1378.9" y2="947.7" stroke="#f2f030" stroke-width="2.8"/>
<line x1="1344.2" y1="953.6" x2="1344.2" y2="964.9" stroke="#f2f030" stroke-width="2.8"/>
<line x1="1344.2" y1="976.2" x2="1344.2" y2="964.9" stroke="#4f9ca0" stroke-width="2.8"/>
<line x1="1344.2" y1="976.2" x2="1332.6" y2="982.1" stroke="#88d2d6" stroke-width="2.8"/>
<line x1="1344.2" y1="976.2" x2="1332.6" y2="982.1" stroke="#e4fafa" stroke-width="0.9"/>
<line x1="1321.1" y1="987.9" x2="1332.6" y2="982.1" stroke="#f2f030" stroke-width="2.8"/>
<line x1="1344.2" y1="976.2" x2="1355.8" y2="982.1" stroke="#88d2d6" stroke-width="2.8"/>
<line x1="1344.2" y1="976.2" x2="1355.8" y2="982.1" stroke="#e4fafa" stroke-width="0.9"/>
<line x1="1367.3" y1="987.9" x2="1355.8" y2="982.1" stroke="#f2f030" stroke-width="2.8"/>
<line x1="1367.3" y1="987.9" x2="1367.3" y2="999.7" stroke="#f2f030" stroke-width="2.8"/>
<line x1="1367.3" y1="1011.4" x2="1367.3" y2="999.7" stroke="#4f9ca0" stroke-width="2.8"/>
<line x1="1367.3" y1="1011.4" x2="1355.8" y2="1017.1" stroke="#88d2d6" stroke-width="2.8"/>
<line x1="1367.3" y1="1011.4" x2="1355.8" y2="1017.1" stroke="#e4fafa" stroke-width="0.9"/>
<line x1="1344.2" y1="1022.7" x2="1355.8" y2="1017.1" stroke="#f2f030" stroke-width="2.8"/>
<line x1="1367.3" y1="1011.4" x2="1378.9" y2="1017.1" stroke="#88d2d6" stroke-width="2.8"/>
<line x1="1367.3" y1="1011.4" x2="1378.9" y2="1017.1" stroke="#e4fafa" stroke-width="0.9"/>
<line x1="1390.4" y1="1022.7" x2="1378.9" y2="1017.1" stroke="#f2f030" stroke-width="2.8"/>
<line x1="1344.2" y1="1022.7" x2="1344.2" y2="1034.5" stroke="#f2f030" stroke-width="2.8"/>
<line x1="1344.2" y1="1046.3" x2="1344.2" y2="1034.5" stroke="#4f9ca0" stroke-width="2.8"/>
<line x1="1344.2" y1="1046.3" x2="1332.6" y2="1052.0" stroke="#88d2d6" stroke-width="2.8"/>
<line x1="1344.2" y1="1046.3" x2="1332.6" y2="1052.0" stroke="#e4fafa" stroke-width="0.9"/>
<line x1="1321.1" y1="1057.6" x2="1332.6" y2="1052.0" stroke="#f2f030" stroke-width="2.8"/>
<line x1="1344.2" y1="1046.3" x2="1355.8" y2="1052.0" stroke="#88d2d6" stroke-width="2.8"/>
<line x1="1344.2" y1="1046.3" x2="1355.8" y2="1052.0" stroke="#e4fafa" stroke-width="0.9"/>
<line x1="1367.3" y1="1057.6" x2="1355.8" y2="1052.0" stroke="#f2f030" stroke-width="2.8"/>
<line x1="1413.6" y1="941.7" x2="1402.0" y2="947.7" stroke="#88d2d6" stroke-width="2.8"/>
<line x1="1413.6" y1="941.7" x2="1402.0" y2="947.7" stroke="#e4fafa" stroke-width="0.9"/>
<line x1="1390.4" y1="953.6" x2="1402.0" y2="947.7" stroke="#f2f030" stroke-width="2.8"/>
<line x1="1413.6" y1="941.7" x2="1425.1" y2="947.7" stroke="#88d2d6" stroke-width="2.8"/>
<line x1="1413.6" y1="941.7" x2="1425.1" y2="947.7" stroke="#e4fafa" stroke-width="0.9"/>
<line x1="1436.7" y1="953.6" x2="1425.1" y2="947.7" stroke="#f2f030" stroke-width="2.8"/>
<line x1="1390.4" y1="953.6" x2="1390.4" y2="964.9" stroke="#f2f030" stroke-width="2.8"/>
<line x1="1390.4" y1="976.2" x2="1390.4" y2="964.9" stroke="#4f9ca0" stroke-width="2.8"/>
<line x1="1390.4" y1="976.2" x2="1378.9" y2="982.1" stroke="#88d2d6" stroke-width="2.8"/>
<line x1="1390.4" y1="976.2" x2="1378.9" y2="982.1" stroke="#e4fafa" stroke-width="0.9"/>
<line x1="1367.3" y1="987.9" x2="1378.9" y2="982.1" stroke="#f2f030" stroke-width="2.8"/>
<line x1="1390.4" y1="976.2" x2="1402.0" y2="982.1" stroke="#88d2d6" stroke-width="2.8"/>
<line x1="1390.4" y1="976.2" x2="1402.0" y2="982.1" stroke="#e4fafa" stroke-width="0.9"/>
<line x1="1413.6" y1="987.9" x2="1402.0" y2="982.1" stroke="#f2f030" stroke-width="2.8"/>
<line x1="1413.6" y1="987.9" x2="1413.6" y2="999.7" stroke="#f2f030" stroke-width="2.8"/>
<line x1="1413.6" y1="1011.4" x2="1413.6" y2="999.7" stroke="#4f9ca0" stroke-width="2.8"/>
<line x1="1413.6" y1="1011.4" x2="1402.0" y2="1017.1" stroke="#88d2d6" stroke-width="2.8"/>
<line x1="1413.6" y1="1011.4" x2="1402.0" y2="1017.1" stroke="#e4fafa" stroke-width="0.9"/>
<line x1="1390.4" y1="1022.7" x2="1402.0" y2="1017.1" stroke="#f2f030" stroke-width="2.8"/>
<line x1="1413.6" y1="1011.4" x2="1425.1" y2="1017.1" stroke="#88d2d6" stroke-width="2.8"/>
<line x1="1413.6" y1="1011.4" x2="1425.1" y2="1017.1" stroke="#e4fafa" stroke-width="0.9"/>
<line x1="1436.7" y1="1022.7" x2="1425.1" y2="1017.1" stroke="#f2f030" stroke-width="2.8"/>
<line x1="1390.4" y1="1022.7" x2="1390.4" y2="1034.5" stroke="#f2f030" stroke-width="2.8"/>
<line x1="1390.4" y1="1046.3" x2="1390.4" y2="1034.5" stroke="#4f9ca0" stroke-width="2.8"/>
<line x1="1390.4" y1="1046.3" x2="1378.9" y2="1052.0" stroke="#88d2d6" stroke-width="2.8"/>
<line x1="1390.4" y1="1046.3" x2="1378.9" y2="1052.0" stroke="#e4fafa" stroke-width="0.9"/>
<line x1="1367.3" y1="1057.6" x2="1378.9" y2="1052.0" stroke="#f2f030" stroke-width="2.8"/>
<line x1="1390.4" y1="1046.3" x2="1402.0" y2="1052.0" stroke="#88d2d6" stroke-width="2.8"/>
<line x1="1390.4" y1="1046.3" x2="1402.0" y2="1052.0" stroke="#e4fafa" stroke-width="0.9"/>
<line x1="1413.6" y1="1057.6" x2="1402.0" y2="1052.0" stroke="#f2f030" stroke-width="2.8"/>
<line x1="1459.8" y1="941.7" x2="1448.2" y2="947.7" stroke="#88d2d6" stroke-width="2.8"/>
<line x1="1459.8" y1="941.7" x2="1448.2" y2="947.7" stroke="#e4fafa" stroke-width="0.9"/>
<line x1="1436.7" y1="953.6" x2="1448.2" y2="947.7" stroke="#f2f030" stroke-width="2.8"/>
<line x1="1459.8" y1="941.7" x2="1471.3" y2="947.7" stroke="#88d2d6" stroke-width="2.8"/>
<line x1="1459.8" y1="941.7" x2="1471.3" y2="947.7" stroke="#e4fafa" stroke-width="0.9"/>
<line x1="1482.9" y1="953.6" x2="1471.3" y2="947.7" stroke="#f2f030" stroke-width="2.8"/>
<line x1="1436.7" y1="953.6" x2="1436.7" y2="964.9" stroke="#f2f030" stroke-width="2.8"/>
<line x1="1436.7" y1="976.2" x2="1436.7" y2="964.9" stroke="#4f9ca0" stroke-width="2.8"/>
<line x1="1436.7" y1="976.2" x2="1425.1" y2="982.1" stroke="#88d2d6" stroke-width="2.8"/>
<line x1="1436.7" y1="976.2" x2="1425.1" y2="982.1" stroke="#e4fafa" stroke-width="0.9"/>
<line x1="1413.6" y1="987.9" x2="1425.1" y2="982.1" stroke="#f2f030" stroke-width="2.8"/>
<line x1="1436.7" y1="976.2" x2="1448.2" y2="982.1" stroke="#88d2d6" stroke-width="2.8"/>
<line x1="1436.7" y1="976.2" x2="1448.2" y2="982.1" stroke="#e4fafa" stroke-width="0.9"/>
<line x1="1459.8" y1="987.9" x2="1448.2" y2="982.1" stroke="#f2f030" stroke-width="2.8"/>
<line x1="1459.8" y1="987.9" x2="1459.8" y2="999.7" stroke="#f2f030" stroke-width="2.8"/>
<line x1="1459.8" y1="1011.4" x2="1459.8" y2="999.7" stroke="#4f9ca0" stroke-width="2.8"/>
<line x1="1459.8" y1="1011.4" x2="1448.2" y2="1017.1" stroke="#88d2d6" stroke-width="2.8"/>
<line x1="1459.8" y1="1011.4" x2="1448.2" y2="1017.1" stroke="#e4fafa" stroke-width="0.9"/>
<line x1="1436.7" y1="1022.7" x2="1448.2" y2="1017.1" stroke="#f2f030" stroke-width="2.8"/>
<line x1="1459.8" y1="1011.4" x2="1471.3" y2="1017.1" stroke="#88d2d6" stroke-width="2.8"/>
<line x1="1459.8" y1="1011.4" x2="1471.3" y2="1017.1" stroke="#e4fafa" stroke-width="0.9"/>
<line x1="1482.9" y1="1022.7" x2="1471.3" y2="1017.1" stroke="#f2f030" stroke-width="2.8"/>
<line x1="1436.7" y1="1022.7" x2="1436.7" y2="1034.5" stroke="#f2f030" stroke-width="2.8"/>
<line x1="1436.7" y1="1046.3" x2="1436.7" y2="1034.5" stroke="#4f9ca0" stroke-width="2.8"/>
<line x1="1436.7" y1="1046.3" x2="1425.1" y2="1052.0" stroke="#88d2d6" stroke-width="2.8"/>
<line x1="1436.7" y1="1046.3" x2="1425.1" y2="1052.0" stroke="#e4fafa" stroke-width="0.9"/>
<line x1="1413.6" y1="1057.6" x2="1425.1" y2="1052.0" stroke="#f2f030" stroke-width="2.8"/>
<line x1="1436.7" y1="1046.3" x2="1448.2" y2="1052.0" stroke="#88d2d6" stroke-width="2.8"/>
<line x1="1436.7" y1="1046.3" x2="1448.2" y2="1052.0" stroke="#e4fafa" stroke-width="0.9"/>
<line x1="1459.8" y1="1057.6" x2="1448.2" y2="1052.0" stroke="#f2f030" stroke-width="2.8"/>
<line x1="1506.0" y1="941.7" x2="1494.5" y2="947.7" stroke="#88d2d6" stroke-width="2.8"/>
<line x1="1506.0" y1="941.7" x2="1494.5" y2="947.7" stroke="#e4fafa" stroke-width="0.9"/>
<line x1="1482.9" y1="953.6" x2="1494.5" y2="947.7" stroke="#f2f030" stroke-width="2.8"/>
<line x1="1506.0" y1="941.7" x2="1517.6" y2="947.7" stroke="#88d2d6" stroke-width="2.8"/>
<line x1="1506.0" y1="941.7" x2="1517.6" y2="947.7" stroke="#e4fafa" stroke-width="0.9"/>
<line x1="1529.1" y1="953.6" x2="1517.6" y2="947.7" stroke="#f2f030" stroke-width="2.8"/>
<line x1="1482.9" y1="953.6" x2="1482.9" y2="964.9" stroke="#f2f030" stroke-width="2.8"/>
<line x1="1482.9" y1="976.2" x2="1482.9" y2="964.9" stroke="#4f9ca0" stroke-width="2.8"/>
<line x1="1482.9" y1="976.2" x2="1471.3" y2="982.1" stroke="#88d2d6" stroke-width="2.8"/>
<line x1="1482.9" y1="976.2" x2="1471.3" y2="982.1" stroke="#e4fafa" stroke-width="0.9"/>
<line x1="1459.8" y1="987.9" x2="1471.3" y2="982.1" stroke="#f2f030" stroke-width="2.8"/>
<line x1="1482.9" y1="976.2" x2="1494.5" y2="982.1" stroke="#88d2d6" stroke-width="2.8"/>
<line x1="1482.9" y1="976.2" x2="1494.5" y2="982.1" stroke="#e4fafa" stroke-width="0.9"/>
<line x1="1506.0" y1="987.9" x2="1494.5" y2="982.1" stroke="#f2f030" stroke-width="2.8"/>
<line x1="1506.0" y1="987.9" x2="1506.0" y2="999.7" stroke="#f2f030" stroke-width="2.8"/>
<line x1="1506.0" y1="1011.4" x2="1506.0" y2="999.7" stroke="#4f9ca0" stroke-width="2.8"/>
<line x1="1506.0" y1="1011.4" x2="1494.5" y2="1017.1" stroke="#88d2d6" stroke-width="2.8"/>
<line x1="1506.0" y1="1011.4" x2="1494.5" y2="1017.1" stroke="#e4fafa" stroke-width="0.9"/>
<line x1="1482.9" y1="1022.7" x2="1494.5" y2="1017.1" stroke="#f2f030" stroke-width="2.8"/>
<line x1="1506.0" y1="1011.4" x2="1517.6" y2="1017.1" stroke="#88d2d6" stroke-width="2.8"/>
<line x1="1506.0" y1="1011.4" x2="1517.6" y2="1017.1" stroke="#e4fafa" stroke-width="0.9"/>
<line x1="1529.1" y1="1022.7" x2="1517.6" y2="1017.1" stroke="#f2f030" stroke-width="2.8"/>
<line x1="1482.9" y1="1022.7" x2="1482.9" y2="1034.5" stroke="#f2f030" stroke-width="2.8"/>
<line x1="1482.9" y1="1046.3" x2="1482.9" y2="1034.5" stroke="#4f9ca0" stroke-width="2.8"/>
<line x1="1482.9" y1="1046.3" x2="1471.3" y2="1052.0" stroke="#88d2d6" stroke-width="2.8"/>
<line x1="1482.9" y1="1046.3" x2="1471.3" y2="1052.0" stroke="#e4fafa" stroke-width="0.9"/>
<line x1="1459.8" y1="1057.6" x2="1471.3" y2="1052.0" stroke="#f2f030" stroke-width="2.8"/>
<line x1="1482.9" y1="1046.3" x2="1494.5" y2="1052.0" stroke="#88d2d6" stroke-width="2.8"/>
<line x1="1482.9" y1="1046.3" x2="1494.5" y2="1052.0" stroke="#e4fafa" stroke-width="0.9"/>
<line x1="1506.0" y1="1057.6" x2="1494.5" y2="1052.0" stroke="#f2f030" stroke-width="2.8"/>
<line x1="1552.2" y1="941.7" x2="1540.7" y2="947.7" stroke="#88d2d6" stroke-width="2.8"/>
<line x1="1552.2" y1="941.7" x2="1540.7" y2="947.7" stroke="#e4fafa" stroke-width="0.9"/>
<line x1="1529.1" y1="953.6" x2="1540.7" y2="947.7" stroke="#f2f030" stroke-width="2.8"/>
<line x1="1552.2" y1="941.7" x2="1563.8" y2="947.7" stroke="#88d2d6" stroke-width="2.8"/>
<line x1="1552.2" y1="941.7" x2="1563.8" y2="947.7" stroke="#e4fafa" stroke-width="0.9"/>
<line x1="1575.4" y1="953.6" x2="1563.8" y2="947.7" stroke="#f2f030" stroke-width="2.8"/>
<line x1="1529.1" y1="953.6" x2="1529.1" y2="964.9" stroke="#f2f030" stroke-width="2.8"/>
<line x1="1529.1" y1="976.2" x2="1529.1" y2="964.9" stroke="#4f9ca0" stroke-width="2.8"/>
<line x1="1529.1" y1="976.2" x2="1517.6" y2="982.1" stroke="#88d2d6" stroke-width="2.8"/>
<line x1="1529.1" y1="976.2" x2="1517.6" y2="982.1" stroke="#e4fafa" stroke-width="0.9"/>
<line x1="1506.0" y1="987.9" x2="1517.6" y2="982.1" stroke="#f2f030" stroke-width="2.8"/>
<line x1="1529.1" y1="976.2" x2="1540.7" y2="982.1" stroke="#88d2d6" stroke-width="2.8"/>
<line x1="1529.1" y1="976.2" x2="1540.7" y2="982.1" stroke="#e4fafa" stroke-width="0.9"/>
<line x1="1552.2" y1="987.9" x2="1540.7" y2="982.1" stroke="#f2f030" stroke-width="2.8"/>
<line x1="1552.2" y1="987.9" x2="1552.2" y2="999.7" stroke="#f2f030" stroke-width="2.8"/>
<line x1="1552.2" y1="1011.4" x2="1552.2" y2="999.7" stroke="#4f9ca0" stroke-width="2.8"/>
<line x1="1552.2" y1="1011.4" x2="1540.7" y2="1017.1" stroke="#88d2d6" stroke-width="2.8"/>
<line x1="1552.2" y1="1011.4" x2="1540.7" y2="1017.1" stroke="#e4fafa" stroke-width="0.9"/>
<line x1="1529.1" y1="1022.7" x2="1540.7" y2="1017.1" stroke="#f2f030" stroke-width="2.8"/>
<line x1="1552.2" y1="1011.4" x2="1563.8" y2="1017.1" stroke="#88d2d6" stroke-width="2.8"/>
<line x1="1552.2" y1="1011.4" x2="1563.8" y2="1017.1" stroke="#e4fafa" stroke-width="0.9"/>
<line x1="1575.4" y1="1022.7" x2="1563.8" y2="1017.1" stroke="#f2f030" stroke-width="2.8"/>
<line x1="1529.1" y1="1022.7" x2="1529.1" y2="1034.5" stroke="#f2f030" stroke-width="2.8"/>
<line x1="1529.1" y1="1046.3" x2="1529.1" y2="1034.5" stroke="#4f9ca0" stroke-width="2.8"/>
<line x1="1529.1" y1="1046.3" x2="1517.6" y2="1052.0" stroke="#88d2d6" stroke-width="2.8"/>
<line x1="1529.1" y1="1046.3" x2="1517.6" y2="1052.0" stroke="#e4fafa" stroke-width="0.9"/>
<line x1="1506.0" y1="1057.6" x2="1517.6" y2="1052.0" stroke="#f2f030" stroke-width="2.8"/>
<line x1="1529.1" y1="1046.3" x2="1540.7" y2="1052.0" stroke="#88d2d6" stroke-width="2.8"/>
<line x1="1529.1" y1="1046.3" x2="1540.7" y2="1052.0" stroke="#e4fafa" stroke-width="0.9"/>
<line x1="1552.2" y1="1057.6" x2="1540.7" y2="1052.0" stroke="#f2f030" stroke-width="2.8"/>
<line x1="1598.5" y1="941.7" x2="1586.9" y2="947.7" stroke="#88d2d6" stroke-width="2.8"/>
<line x1="1598.5" y1="941.7" x2="1586.9" y2="947.7" stroke="#e4fafa" stroke-width="0.9"/>
<line x1="1575.4" y1="953.6" x2="1586.9" y2="947.7" stroke="#f2f030" stroke-width="2.8"/>
<line x1="1598.5" y1="941.7" x2="1610.0" y2="947.7" stroke="#88d2d6" stroke-width="2.8"/>
<line x1="1598.5" y1="941.7" x2="1610.0" y2="947.7" stroke="#e4fafa" stroke-width="0.9"/>
<line x1="1621.6" y1="953.6" x2="1610.0" y2="947.7" stroke="#f2f030" stroke-width="2.8"/>
<line x1="1575.4" y1="953.6" x2="1575.4" y2="964.9" stroke="#f2f030" stroke-width="2.8"/>
<line x1="1575.4" y1="976.2" x2="1575.4" y2="964.9" stroke="#4f9ca0" stroke-width="2.8"/>
<line x1="1575.4" y1="976.2" x2="1563.8" y2="982.1" stroke="#88d2d6" stroke-width="2.8"/>
<line x1="1575.4" y1="976.2" x2="1563.8" y2="982.1" stroke="#e4fafa" stroke-width="0.9"/>
<line x1="1552.2" y1="987.9" x2="1563.8" y2="982.1" stroke="#f2f030" stroke-width="2.8"/>
<line x1="1575.4" y1="976.2" x2="1586.9" y2="982.1" stroke="#88d2d6" stroke-width="2.8"/>
<line x1="1575.4" y1="976.2" x2="1586.9" y2="982.1" stroke="#e4fafa" stroke-width="0.9"/>
<line x1="1598.5" y1="987.9" x2="1586.9" y2="982.1" stroke="#f2f030" stroke-width="2.8"/>
<line x1="1598.5" y1="987.9" x2="1598.5" y2="999.7" stroke="#f2f030" stroke-width="2.8"/>
<line x1="1598.5" y1="1011.4" x2="1598.5" y2="999.7" stroke="#4f9ca0" stroke-width="2.8"/>
<line x1="1598.5" y1="1011.4" x2="1586.9" y2="1017.1" stroke="#88d2d6" stroke-width="2.8"/>
<line x1="1598.5" y1="1011.4" x2="1586.9" y2="1017.1" stroke="#e4fafa" stroke-width="0.9"/>
<line x1="1575.4" y1="1022.7" x2="1586.9" y2="1017.1" stroke="#f2f030" stroke-width="2.8"/>
<line x1="1598.5" y1="1011.4" x2="1610.0" y2="1017.1" stroke="#88d2d6" stroke-width="2.8"/>
<line x1="1598.5" y1="1011.4" x2="1610.0" y2="1017.1" stroke="#e4fafa" stroke-width="0.9"/>
<line x1="1621.6" y1="1022.7" x2="1610.0" y2="1017.1" stroke="#f2f030" stroke-width="2.8"/>
<line x1="1575.4" y1="1022.7" x2="1575.4" y2="1034.5" stroke="#f2f030" stroke-width="2.8"/>
<line x1="1575.4" y1="1046.3" x2="1575.4" y2="1034.5" stroke="#4f9ca0" stroke-width="2.8"/>
<line x1="1575.4" y1="1046.3" x2="1563.8" y2="1052.0" stroke="#88d2d6" stroke-width="2.8"/>
<line x1="1575.4" y1="1046.3" x2="1563.8" y2="1052.0" stroke="#e4fafa" stroke-width="0.9"/>
<line x1="1552.2" y1="1057.6" x2="1563.8" y2="1052.0" stroke="#f2f030" stroke-width="2.8"/>
<line x1="1575.4" y1="1046.3" x2="1586.9" y2="1052.0" stroke="#88d2d6" stroke-width="2.8"/>
<line x1="1575.4" y1="1046.3" x2="1586.9" y2="1052.0" stroke="#e4fafa" stroke-width="0.9"/>
<line x1="1598.5" y1="1057.6" x2="1586.9" y2="1052.0" stroke="#f2f030" stroke-width="2.8"/>
<line x1="1644.7" y1="941.7" x2="1633.1" y2="947.7" stroke="#5446f2" stroke-width="2.8"/>
<line x1="1621.6" y1="953.6" x2="1633.1" y2="947.7" stroke="#f2f030" stroke-width="2.8"/>
<line x1="1644.7" y1="941.7" x2="1656.3" y2="947.7" stroke="#5446f2" stroke-width="2.8"/>
<line x1="1667.8" y1="953.6" x2="1656.3" y2="947.7" stroke="#f2f030" stroke-width="2.8"/>
<line x1="1621.6" y1="953.6" x2="1621.6" y2="964.9" stroke="#f2f030" stroke-width="2.8"/>
<line x1="1621.6" y1="976.2" x2="1621.6" y2="964.9" stroke="#5446f2" stroke-width="2.8"/>
<line x1="1621.6" y1="976.2" x2="1610.0" y2="982.1" stroke="#5446f2" stroke-width="2.8"/>
<line x1="1598.5" y1="987.9" x2="1610.0" y2="982.1" stroke="#f2f030" stroke-width="2.8"/>
<line x1="1621.6" y1="976.2" x2="1633.1" y2="982.1" stroke="#5446f2" stroke-width="2.8"/>
<line x1="1644.7" y1="987.9" x2="1633.1" y2="982.1" stroke="#f2f030" stroke-width="2.8"/>
<line x1="1644.7" y1="987.9" x2="1644.7" y2="999.7" stroke="#f2f030" stroke-width="2.8"/>
<line x1="1644.7" y1="1011.4" x2="1644.7" y2="999.7" stroke="#5446f2" stroke-width="2.8"/>
<line x1="1644.7" y1="1011.4" x2="1633.1" y2="1017.1" stroke="#5446f2" stroke-width="2.8"/>
<line x1="1621.6" y1="1022.7" x2="1633.1" y2="1017.1" stroke="#f2f030" stroke-width="2.8"/>
<line x1="1644.7" y1="1011.4" x2="1656.3" y2="1017.1" stroke="#5446f2" stroke-width="2.8"/>
<line x1="1667.8" y1="1022.7" x2="1656.3" y2="1017.1" stroke="#f2f030" stroke-width="2.8"/>
<line x1="1621.6" y1="1022.7" x2="1621.6" y2="1034.5" stroke="#f2f030" stroke-width="2.8"/>
<line x1="1621.6" y1="1046.3" x2="1621.6" y2="1034.5" stroke="#5446f2" stroke-width="2.8"/>
<line x1="1621.6" y1="1046.3" x2="1610.0" y2="1052.0" stroke="#5446f2" stroke-width="2.8"/>
<line x1="1598.5" y1="1057.6" x2="1610.0" y2="1052.0" stroke="#f2f030" stroke-width="2.8"/>
<line x1="1621.6" y1="1046.3" x2="1633.1" y2="1052.0" stroke="#5446f2" stroke-width="2.8"/>
<line x1="1644.7" y1="1057.6" x2="1633.1" y2="1052.0" stroke="#f2f030" stroke-width="2.8"/>
<line x1="1690.9" y1="941.7" x2="1679.4" y2="947.7" stroke="#5446f2" stroke-width="2.8"/>
<line x1="1667.8" y1="953.6" x2="1679.4" y2="947.7" stroke="#f2f030" stroke-width="2.8"/>
<line x1="1690.9" y1="941.7" x2="1702.5" y2="947.7" stroke="#5446f2" stroke-width="2.8"/>
<line x1="1714.0" y1="953.6" x2="1702.5" y2="947.7" stroke="#f2f030" stroke-width="2.8"/>
<line x1="1667.8" y1="953.6" x2="1667.8" y2="964.9" stroke="#f2f030" stroke-width="2.8"/>
<line x1="1667.8" y1="976.2" x2="1667.8" y2="964.9" stroke="#5446f2" stroke-width="2.8"/>
<line x1="1667.8" y1="976.2" x2="1656.3" y2="982.1" stroke="#5446f2" stroke-width="2.8"/>
<line x1="1644.7" y1="987.9" x2="1656.3" y2="982.1" stroke="#f2f030" stroke-width="2.8"/>
<line x1="1667.8" y1="976.2" x2="1679.4" y2="982.1" stroke="#5446f2" stroke-width="2.8"/>
<line x1="1690.9" y1="987.9" x2="1679.4" y2="982.1" stroke="#f2f030" stroke-width="2.8"/>
<line x1="1690.9" y1="987.9" x2="1690.9" y2="999.7" stroke="#f2f030" stroke-width="2.8"/>
<line x1="1690.9" y1="1011.4" x2="1690.9" y2="999.7" stroke="#5446f2" stroke-width="2.8"/>
<line x1="1690.9" y1="1011.4" x2="1679.4" y2="1017.1" stroke="#5446f2" stroke-width="2.8"/>
<line x1="1667.8" y1="1022.7" x2="1679.4" y2="1017.1" stroke="#f2f030" stroke-width="2.8"/>
<line x1="1690.9" y1="1011.4" x2="1702.5" y2="1017.1" stroke="#5446f2" stroke-width="2.8"/>
<line x1="1714.0" y1="1022.7" x2="1702.5" y2="1017.1" stroke="#f2f030" stroke-width="2.8"/>
<line x1="1667.8" y1="1022.7" x2="1667.8" y2="1034.5" stroke="#f2f030" stroke-width="2.8"/>
<line x1="1667.8" y1="1046.3" x2="1667.8" y2="1034.5" stroke="#5446f2" stroke-width="2.8"/>
<line x1="1667.8" y1="1046.3" x2="1656.3" y2="1052.0" stroke="#5446f2" stroke-width="2.8"/>
<line x1="1644.7" y1="1057.6" x2="1656.3" y2="1052.0" stroke="#f2f030" stroke-width="2.8"/>
<line x1="1667.8" y1="1046.3" x2="1679.4" y2="1052.0" stroke="#5446f2" stroke-width="2.8"/>
<line x1="1690.9" y1="1057.6" x2="1679.4" y2="1052.0" stroke="#f2f030" stroke-width="2.8"/>
<line x1="1737.2" y1="941.7" x2="1725.6" y2="947.7" stroke="#5446f2" stroke-width="2.8"/>
<line x1="1714.0" y1="953.6" x2="1725.6" y2="947.7" stroke="#f2f030" stroke-width="2.8"/>
<line x1="1737.2" y1="941.7" x2="1748.7" y2="947.7" stroke="#5446f2" stroke-width="2.8"/>
<line x1="1760.3" y1="953.6" x2="1748.7" y2="947.7" stroke="#f2f030" stroke-width="2.8"/>
<line x1="1714.0" y1="953.6" x2="1714.0" y2="964.9" stroke="#f2f030" stroke-width="2.8"/>
<line x1="1714.0" y1="976.2" x2="1714.0" y2="964.9" stroke="#5446f2" stroke-width="2.8"/>
<line x1="1714.0" y1="976.2" x2="1702.5" y2="982.1" stroke="#5446f2" stroke-width="2.8"/>
<line x1="1690.9" y1="987.9" x2="1702.5" y2="982.1" stroke="#f2f030" stroke-width="2.8"/>
<line x1="1714.0" y1="976.2" x2="1725.6" y2="982.1" stroke="#5446f2" stroke-width="2.8"/>
<line x1="1737.2" y1="987.9" x2="1725.6" y2="982.1" stroke="#f2f030" stroke-width="2.8"/>
<line x1="1737.2" y1="987.9" x2="1737.2" y2="999.7" stroke="#f2f030" stroke-width="2.8"/>
<line x1="1737.2" y1="1011.4" x2="1737.2" y2="999.7" stroke="#5446f2" stroke-width="2.8"/>
<line x1="1737.2" y1="1011.4" x2="1725.6" y2="1017.1" stroke="#5446f2" stroke-width="2.8"/>
<line x1="1714.0" y1="1022.7" x2="1725.6" y2="1017.1" stroke="#f2f030" stroke-width="2.8"/>
<line x1="1737.2" y1="1011.4" x2="1748.7" y2="1017.1" stroke="#5446f2" stroke-width="2.8"/>
<line x1="1760.3" y1="1022.7" x2="1748.7" y2="1017.1" stroke="#f2f030" stroke-width="2.8"/>
<line x1="1714.0" y1="1022.7" x2="1714.0" y2="1034.5" stroke="#f2f030" stroke-width="2.8"/>
<line x1="1714.0" y1="1046.3" x2="1714.0" y2="1034.5" stroke="#5446f2" stroke-width="2.8"/>
<line x1="1714.0" y1="1046.3" x2="1702.5" y2="1052.0" stroke="#5446f2" stroke-width="2.8"/>
<line x1="1690.9" y1="1057.6" x2="1702.5" y2="1052.0" stroke="#f2f030" stroke-width="2.8"/>
<line x1="1714.0" y1="1046.3" x2="1725.6" y2="1052.0" stroke="#5446f2" stroke-width="2.8"/>
<line x1="1737.2" y1="1057.6" x2="1725.6" y2="1052.0" stroke="#f2f030" stroke-width="2.8"/>
<line x1="1783.4" y1="941.7" x2="1771.8" y2="947.7" stroke="#5446f2" stroke-width="2.8"/>
<line x1="1760.3" y1="953.6" x2="1771.8" y2="947.7" stroke="#f2f030" stroke-width="2.8"/>
<line x1="1783.4" y1="941.7" x2="1794.9" y2="947.7" stroke="#5446f2" stroke-width="2.8"/>
<line x1="1806.5" y1="953.6" x2="1794.9" y2="947.7" stroke="#f2f030" stroke-width="2.8"/>
<line x1="1760.3" y1="953.6" x2="1760.3" y2="964.9" stroke="#f2f030" stroke-width="2.8"/>
<line x1="1760.3" y1="976.2" x2="1760.3" y2="964.9" stroke="#5446f2" stroke-width="2.8"/>
<line x1="1760.3" y1="976.2" x2="1748.7" y2="982.1" stroke="#5446f2" stroke-width="2.8"/>
<line x1="1737.2" y1="987.9" x2="1748.7" y2="982.1" stroke="#f2f030" stroke-width="2.8"/>
<line x1="1760.3" y1="976.2" x2="1771.8" y2="982.1" stroke="#5446f2" stroke-width="2.8"/>
<line x1="1783.4" y1="987.9" x2="1771.8" y2="982.1" stroke="#f2f030" stroke-width="2.8"/>
<line x1="1783.4" y1="987.9" x2="1783.4" y2="999.7" stroke="#f2f030" stroke-width="2.8"/>
<line x1="1783.4" y1="1011.4" x2="1783.4" y2="999.7" stroke="#5446f2" stroke-width="2.8"/>
<line x1="1783.4" y1="1011.4" x2="1771.8" y2="1017.1" stroke="#5446f2" stroke-width="2.8"/>
<line x1="1760.3" y1="1022.7" x2="1771.8" y2="1017.1" stroke="#f2f030" stroke-width="2.8"/>
<line x1="1783.4" y1="1011.4" x2="1794.9" y2="1017.1" stroke="#5446f2" stroke-width="2.8"/>
<line x1="1806.5" y1="1022.7" x2="1794.9" y2="1017.1" stroke="#f2f030" stroke-width="2.8"/>
<line x1="1760.3" y1="1022.7" x2="1760.3" y2="1034.5" stroke="#f2f030" stroke-width="2.8"/>
<line x1="1760.3" y1="1046.3" x2="1760.3" y2="1034.5" stroke="#5446f2" stroke-width="2.8"/>
<line x1="1760.3" y1="1046.3" x2="1748.7" y2="1052.0" stroke="#5446f2" stroke-width="2.8"/>
<line x1="1737.2" y1="1057.6" x2="1748.7" y2="1052.0" stroke="#f2f030" stroke-width="2.8"/>
<line x1="1760.3" y1="1046.3" x2="1771.8" y2="1052.0" stroke="#5446f2" stroke-width="2.8"/>
<line x1="1783.4" y1="1057.6" x2="1771.8" y2="1052.0" stroke="#f2f030" stroke-width="2.8"/>
<line x1="1829.6" y1="941.7" x2="1818.1" y2="947.7" stroke="#5446f2" stroke-width="2.8"/>
<line x1="1806.5" y1="953.6" x2="1818.1" y2="947.7" stroke="#f2f030" stroke-width="2.8"/>
<line x1="1829.6" y1="941.7" x2="1841.2" y2="947.7" stroke="#5446f2" stroke-width="2.8"/>
<line x1="1852.7" y1="953.6" x2="1841.2" y2="947.7" stroke="#f2f030" stroke-width="2.8"/>
<line x1="1806.5" y1="953.6" x2="1806.5" y2="964.9" stroke="#f2f030" stroke-width="2.8"/>
<line x1="1806.5" y1="976.2" x2="1806.5" y2="964.9" stroke="#5446f2" stroke-width="2.8"/>
<line x1="1806.5" y1="976.2" x2="1794.9" y2="982.1" stroke="#5446f2" stroke-width="2.8"/>
<line x1="1783.4" y1="987.9" x2="1794.9" y2="982.1" stroke="#f2f030" stroke-width="2.8"/>
<line x1="1806.5" y1="976.2" x2="1818.1" y2="982.1" stroke="#5446f2" stroke-width="2.8"/>
<line x1="1829.6" y1="987.9" x2="1818.1" y2="982.1" stroke="#f2f030" stroke-width="2.8"/>
<line x1="1829.6" y1="987.9" x2="1829.6" y2="999.7" stroke="#f2f030" stroke-width="2.8"/>
<line x1="1829.6" y1="1011.4" x2="1829.6" y2="999.7" stroke="#5446f2" stroke-width="2.8"/>
<line x1="1829.6" y1="1011.4" x2="1818.1" y2="1017.1" stroke="#5446f2" stroke-width="2.8"/>
<line x1="1806.5" y1="1022.7" x2="1818.1" y2="1017.1" stroke="#f2f030" stroke-width="2.8"/>
<line x1="1829.6" y1="1011.4" x2="1841.2" y2="1017.1" stroke="#5446f2" stroke-width="2.8"/>
<line x1="1852.7" y1="1022.7" x2="1841.2" y2="1017.1" stroke="#f2f030" stroke-width="2.8"/>
<line x1="1806.5" y1="1022.7" x2="1806.5" y2="1034.5" stroke="#f2f030" stroke-width="2.8"/>
<line x1="1806.5" y1="1046.3" x2="1806.5" y2="1034.5" stroke="#5446f2" stroke-width="2.8"/>
<line x1="1806.5" y1="1046.3" x2="1794.9" y2="1052.0" stroke="#5446f2" stroke-width="2.8"/>
<line x1="1783.4" y1="1057.6" x2="1794.9" y2="1052.0" stroke="#f2f030" stroke-width="2.8"/>
<line x1="1806.5" y1="1046.3" x2="1818.1" y2="1052.0" stroke="#5446f2" stroke-width="2.8"/>
<line x1="1829.6" y1="1057.6" x2="1818.1" y2="1052.0" stroke="#f2f030" stroke-width="2.8"/>
<ellipse cx="1159.3" cy="953.6" rx="7.4" ry="6.3" fill="url(#gY)"/>
<ellipse cx="1205.5" cy="953.6" rx="7.4" ry="6.3" fill="url(#gY)"/>
<ellipse cx="1251.7" cy="953.6" rx="7.4" ry="6.3" fill="url(#gY)"/>
<ellipse cx="1298.0" cy="953.6" rx="7.4" ry="6.3" fill="url(#gY)"/>
<ellipse cx="1344.2" cy="953.6" rx="7.4" ry="6.3" fill="url(#gY)"/>
<ellipse cx="1390.4" cy="953.6" rx="7.4" ry="6.3" fill="url(#gY)"/>
<ellipse cx="1436.7" cy="953.6" rx="7.4" ry="6.3" fill="url(#gY)"/>
<ellipse cx="1482.9" cy="953.6" rx="7.4" ry="6.3" fill="url(#gY)"/>
<ellipse cx="1529.1" cy="953.6" rx="7.4" ry="6.3" fill="url(#gY)"/>
<ellipse cx="1575.4" cy="953.6" rx="7.4" ry="6.3" fill="url(#gY)"/>
<ellipse cx="1621.6" cy="953.6" rx="7.4" ry="6.3" fill="url(#gY)"/>
<ellipse cx="1667.8" cy="953.6" rx="7.4" ry="6.3" fill="url(#gY)"/>
<ellipse cx="1714.0" cy="953.6" rx="7.4" ry="6.3" fill="url(#gY)"/>
<ellipse cx="1760.3" cy="953.6" rx="7.4" ry="6.3" fill="url(#gY)"/>
<ellipse cx="1806.5" cy="953.6" rx="7.4" ry="6.3" fill="url(#gY)"/>
<ellipse cx="1182.4" cy="987.9" rx="7.4" ry="6.3" fill="url(#gY)"/>
<ellipse cx="1228.6" cy="987.9" rx="7.4" ry="6.3" fill="url(#gY)"/>
<ellipse cx="1274.9" cy="987.9" rx="7.4" ry="6.3" fill="url(#gY)"/>
<ellipse cx="1321.1" cy="987.9" rx="7.4" ry="6.3" fill="url(#gY)"/>
<ellipse cx="1367.3" cy="987.9" rx="7.4" ry="6.3" fill="url(#gY)"/>
<ellipse cx="1413.6" cy="987.9" rx="7.4" ry="6.3" fill="url(#gY)"/>
<ellipse cx="1459.8" cy="987.9" rx="7.4" ry="6.3" fill="url(#gY)"/>
<ellipse cx="1506.0" cy="987.9" rx="7.4" ry="6.3" fill="url(#gY)"/>
<ellipse cx="1552.2" cy="987.9" rx="7.4" ry="6.3" fill="url(#gY)"/>
<ellipse cx="1598.5" cy="987.9" rx="7.4" ry="6.3" fill="url(#gY)"/>
<ellipse cx="1644.7" cy="987.9" rx="7.4" ry="6.3" fill="url(#gY)"/>
<ellipse cx="1690.9" cy="987.9" rx="7.4" ry="6.3" fill="url(#gY)"/>
<ellipse cx="1737.2" cy="987.9" rx="7.4" ry="6.3" fill="url(#gY)"/>
<ellipse cx="1783.4" cy="987.9" rx="7.4" ry="6.3" fill="url(#gY)"/>
<ellipse cx="1159.3" cy="1022.7" rx="7.4" ry="6.3" fill="url(#gY)"/>
<ellipse cx="1205.5" cy="1022.7" rx="7.4" ry="6.3" fill="url(#gY)"/>
<ellipse cx="1251.7" cy="1022.7" rx="7.4" ry="6.3" fill="url(#gY)"/>
<ellipse cx="1298.0" cy="1022.7" rx="7.4" ry="6.3" fill="url(#gY)"/>
<ellipse cx="1344.2" cy="1022.7" rx="7.4" ry="6.3" fill="url(#gY)"/>
<ellipse cx="1390.4" cy="1022.7" rx="7.4" ry="6.3" fill="url(#gY)"/>
<ellipse cx="1436.7" cy="1022.7" rx="7.4" ry="6.3" fill="url(#gY)"/>
<ellipse cx="1482.9" cy="1022.7" rx="7.4" ry="6.3" fill="url(#gY)"/>
<ellipse cx="1529.1" cy="1022.7" rx="7.4" ry="6.3" fill="url(#gY)"/>
<ellipse cx="1575.4" cy="1022.7" rx="7.4" ry="6.3" fill="url(#gY)"/>
<ellipse cx="1621.6" cy="1022.7" rx="7.4" ry="6.3" fill="url(#gY)"/>
<ellipse cx="1667.8" cy="1022.7" rx="7.4" ry="6.3" fill="url(#gY)"/>
<ellipse cx="1714.0" cy="1022.7" rx="7.4" ry="6.3" fill="url(#gY)"/>
<ellipse cx="1760.3" cy="1022.7" rx="7.4" ry="6.3" fill="url(#gY)"/>
<ellipse cx="1806.5" cy="1022.7" rx="7.4" ry="6.3" fill="url(#gY)"/>
<ellipse cx="1182.4" cy="1057.6" rx="7.4" ry="6.3" fill="url(#gY)"/>
<ellipse cx="1228.6" cy="1057.6" rx="7.4" ry="6.3" fill="url(#gY)"/>
<ellipse cx="1274.9" cy="1057.6" rx="7.4" ry="6.3" fill="url(#gY)"/>
<ellipse cx="1321.1" cy="1057.6" rx="7.4" ry="6.3" fill="url(#gY)"/>
<ellipse cx="1367.3" cy="1057.6" rx="7.4" ry="6.3" fill="url(#gY)"/>
<ellipse cx="1413.6" cy="1057.6" rx="7.4" ry="6.3" fill="url(#gY)"/>
<ellipse cx="1459.8" cy="1057.6" rx="7.4" ry="6.3" fill="url(#gY)"/>
<ellipse cx="1506.0" cy="1057.6" rx="7.4" ry="6.3" fill="url(#gY)"/>
<ellipse cx="1552.2" cy="1057.6" rx="7.4" ry="6.3" fill="url(#gY)"/>
<ellipse cx="1598.5" cy="1057.6" rx="7.4" ry="6.3" fill="url(#gY)"/>
<ellipse cx="1644.7" cy="1057.6" rx="7.4" ry="6.3" fill="url(#gY)"/>
<ellipse cx="1690.9" cy="1057.6" rx="7.4" ry="6.3" fill="url(#gY)"/>
<ellipse cx="1737.2" cy="1057.6" rx="7.4" ry="6.3" fill="url(#gY)"/>
<ellipse cx="1783.4" cy="1057.6" rx="7.4" ry="6.3" fill="url(#gY)"/>
</g>
<rect x="1146.2" y="921.6" width="96.5" height="162.39999999999998" fill="#bababa" style="mix-blend-mode:multiply"/>
<rect x="1707.0" y="921.6" width="96.20000000000005" height="162.39999999999998" fill="#bababa" style="mix-blend-mode:multiply"/>
<path d="M1510.2,937 C1509,933 1511,930.5 1514,929.5 C1518,927.5 1521,926.5 1525.3,926.1 C1532,925.5 1538,924.5 1544.1,924.8 C1548,925 1550,927 1550.7,929.5 C1552,933 1553,937 1552,939.8 C1550,941 1547.5,939.5 1546,938 C1544,935.5 1543,933.8 1540.3,933.3 C1536,932.8 1531,933.5 1527.2,934.2 C1522.5,935 1519,937.5 1515.9,938 C1513,938.6 1511,938.5 1510.2,937 Z" fill="url(#oS)"/>
<ellipse cx="1499.4" cy="948.3" rx="6" ry="3.8" fill="url(#oS)" transform="rotate(0 1499.4 948.3)"/>
<ellipse cx="1558.3" cy="949.3" rx="5" ry="5.6" fill="url(#oS)" transform="rotate(0 1558.3 949.3)"/>
<ellipse cx="1575.2" cy="948.3" rx="4.7" ry="2.8" fill="url(#oS)" transform="rotate(0 1575.2 948.3)"/>
<ellipse cx="1593.0" cy="951.2" rx="7.5" ry="7.5" fill="url(#oS)" transform="rotate(0 1593.0 951.2)"/>
<path d="M1598,932 C1596,922 1606,919.5 1614,921 C1624,923 1634,931 1640.5,941.5 C1636,943.5 1626,941 1616,939.5 C1606,938.5 1599,937 1598,932 Z" fill="url(#oS)"/>
<ellipse cx="1653.8" cy="944.5" rx="3.3" ry="2.8" fill="url(#oS)" transform="rotate(0 1653.8 944.5)"/>
<ellipse cx="1528.5" cy="968.5" rx="2.5" ry="2.5" fill="url(#oS)" transform="rotate(0 1528.5 968.5)"/>
<ellipse cx="1529.0" cy="986.0" rx="2.5" ry="2" fill="url(#oS)" transform="rotate(0 1529.0 986.0)"/>
<ellipse cx="1565.8" cy="976.6" rx="4.7" ry="2.8" fill="url(#oS)" transform="rotate(0 1565.8 976.6)"/>
<ellipse cx="1585.0" cy="977.5" rx="3.3" ry="2.8" fill="url(#oS)" transform="rotate(0 1585.0 977.5)"/>
<ellipse cx="1621.3" cy="976.0" rx="3.5" ry="9" fill="url(#oS)" transform="rotate(-35 1621.3 976.0)"/>
<ellipse cx="1639.3" cy="982.6" rx="3.8" ry="2.4" fill="url(#oS)" transform="rotate(0 1639.3 982.6)"/>
<ellipse cx="1669.9" cy="967.1" rx="5.2" ry="3.8" fill="url(#oS)" transform="rotate(0 1669.9 967.1)"/>
<ellipse cx="1590.3" cy="990.7" rx="4.7" ry="2.8" fill="url(#oS)" transform="rotate(0 1590.3 990.7)"/>
<ellipse cx="1601.0" cy="1001.6" rx="8" ry="5.2" fill="url(#oS)" transform="rotate(0 1601.0 1001.6)"/>
<path d="M1667.5,980.5 C1674,980 1676,990 1680,996 C1686,1003 1692,1008 1687,1012 C1681,1015.5 1660,1015.5 1652,1012.5 C1645,1009.5 1650,1003 1655,996 C1659,990 1661,981 1667.5,980.5 Z" fill="url(#oS)"/>
<ellipse cx="1630.3" cy="1019.0" rx="11" ry="8.5" fill="url(#oS)" transform="rotate(0 1630.3 1019.0)"/>
<ellipse cx="1699.0" cy="1014.7" rx="4.3" ry="6" fill="url(#oS)" transform="rotate(0 1699.0 1014.7)"/>
<path d="M1597.8,1016.3 C1604,1016 1606,1026 1609,1032 C1613,1038 1620,1041 1617.6,1045 C1614,1050 1602,1051 1592,1050.5 C1583,1050 1577,1049 1579,1044 C1581,1038 1587,1034 1590,1028 C1592,1022 1593,1016.5 1597.8,1016.3 Z" fill="url(#oS)"/>
<ellipse cx="1670.3" cy="1031.2" rx="8.5" ry="5.7" fill="url(#oS)" transform="rotate(0 1670.3 1031.2)"/>
<ellipse cx="1565.8" cy="1048.2" rx="8.5" ry="7.5" fill="url(#oS)" transform="rotate(0 1565.8 1048.2)"/>
<ellipse cx="1633.0" cy="1055.7" rx="8" ry="9.4" fill="url(#oS)" transform="rotate(0 1633.0 1055.7)"/>
<ellipse cx="1593.5" cy="1061.3" rx="5.2" ry="4.7" fill="url(#oS)" transform="rotate(0 1593.5 1061.3)"/>
<ellipse cx="1550.7" cy="1057.6" rx="4.7" ry="4.7" fill="url(#oS)" transform="rotate(0 1550.7 1057.6)"/>
<ellipse cx="1422.5" cy="940.7" rx="2" ry="1.5" fill="url(#oS)" transform="rotate(0 1422.5 940.7)"/>
<clipPath id="dclip3"><rect x="1146.2" y="1073.0" width="652.3" height="203.0"/></clipPath>
<g clip-path="url(#dclip3)">
<ellipse cx="1180.1" cy="1115.2" rx="7.3" ry="6.4" fill="url(#gB)"/>
<ellipse cx="1226.5" cy="1115.2" rx="7.3" ry="6.4" fill="url(#gB)"/>
<ellipse cx="1272.9" cy="1115.2" rx="7.3" ry="6.4" fill="url(#gB)"/>
<ellipse cx="1319.3" cy="1115.2" rx="7.3" ry="6.4" fill="url(#gB)"/>
<ellipse cx="1365.7" cy="1115.2" rx="7.3" ry="6.4" fill="url(#gC)"/>
<ellipse cx="1412.1" cy="1115.2" rx="7.3" ry="6.4" fill="url(#gC)"/>
<ellipse cx="1458.5" cy="1115.2" rx="7.3" ry="6.4" fill="url(#gC)"/>
<ellipse cx="1504.9" cy="1115.2" rx="7.3" ry="6.4" fill="url(#gC)"/>
<ellipse cx="1551.3" cy="1115.2" rx="7.3" ry="6.4" fill="url(#gC)"/>
<ellipse cx="1597.7" cy="1115.2" rx="7.3" ry="6.4" fill="url(#gC)"/>
<ellipse cx="1644.1" cy="1115.2" rx="7.3" ry="6.4" fill="url(#gB)"/>
<ellipse cx="1690.5" cy="1115.2" rx="7.3" ry="6.4" fill="url(#gB)"/>
<ellipse cx="1736.9" cy="1115.2" rx="7.3" ry="6.4" fill="url(#gB)"/>
<ellipse cx="1783.3" cy="1115.2" rx="7.3" ry="6.4" fill="url(#gB)"/>
<ellipse cx="1156.9" cy="1149.5" rx="7.3" ry="6.4" fill="url(#gB)"/>
<ellipse cx="1203.3" cy="1149.5" rx="7.3" ry="6.4" fill="url(#gB)"/>
<ellipse cx="1249.7" cy="1149.5" rx="7.3" ry="6.4" fill="url(#gB)"/>
<ellipse cx="1296.1" cy="1149.5" rx="7.3" ry="6.4" fill="url(#gB)"/>
<ellipse cx="1342.5" cy="1149.5" rx="7.3" ry="6.4" fill="url(#gC)"/>
<ellipse cx="1388.9" cy="1149.5" rx="7.3" ry="6.4" fill="url(#gC)"/>
<ellipse cx="1435.3" cy="1149.5" rx="7.3" ry="6.4" fill="url(#gC)"/>
<ellipse cx="1481.7" cy="1149.5" rx="7.3" ry="6.4" fill="url(#gC)"/>
<ellipse cx="1528.1" cy="1149.5" rx="7.3" ry="6.4" fill="url(#gC)"/>
<ellipse cx="1574.5" cy="1149.5" rx="7.3" ry="6.4" fill="url(#gC)"/>
<ellipse cx="1620.9" cy="1149.5" rx="7.3" ry="6.4" fill="url(#gB)"/>
<ellipse cx="1667.3" cy="1149.5" rx="7.3" ry="6.4" fill="url(#gB)"/>
<ellipse cx="1713.7" cy="1149.5" rx="7.3" ry="6.4" fill="url(#gB)"/>
<ellipse cx="1760.1" cy="1149.5" rx="7.3" ry="6.4" fill="url(#gB)"/>
<ellipse cx="1806.5" cy="1149.5" rx="7.3" ry="6.4" fill="url(#gB)"/>
<ellipse cx="1180.1" cy="1184.3" rx="7.3" ry="6.4" fill="url(#gB)"/>
<ellipse cx="1226.5" cy="1184.3" rx="7.3" ry="6.4" fill="url(#gB)"/>
<ellipse cx="1272.9" cy="1184.3" rx="7.3" ry="6.4" fill="url(#gB)"/>
<ellipse cx="1319.3" cy="1184.3" rx="7.3" ry="6.4" fill="url(#gB)"/>
<ellipse cx="1365.7" cy="1184.3" rx="7.3" ry="6.4" fill="url(#gC)"/>
<ellipse cx="1412.1" cy="1184.3" rx="7.3" ry="6.4" fill="url(#gC)"/>
<ellipse cx="1458.5" cy="1184.3" rx="7.3" ry="6.4" fill="url(#gC)"/>
<ellipse cx="1504.9" cy="1184.3" rx="7.3" ry="6.4" fill="url(#gC)"/>
<ellipse cx="1551.3" cy="1184.3" rx="7.3" ry="6.4" fill="url(#gC)"/>
<ellipse cx="1597.7" cy="1184.3" rx="7.3" ry="6.4" fill="url(#gC)"/>
<ellipse cx="1644.1" cy="1184.3" rx="7.3" ry="6.4" fill="url(#gB)"/>
<ellipse cx="1690.5" cy="1184.3" rx="7.3" ry="6.4" fill="url(#gB)"/>
<ellipse cx="1736.9" cy="1184.3" rx="7.3" ry="6.4" fill="url(#gB)"/>
<ellipse cx="1783.3" cy="1184.3" rx="7.3" ry="6.4" fill="url(#gB)"/>
<ellipse cx="1156.9" cy="1219.2" rx="7.3" ry="6.4" fill="url(#gB)"/>
<ellipse cx="1203.3" cy="1219.2" rx="7.3" ry="6.4" fill="url(#gB)"/>
<ellipse cx="1249.7" cy="1219.2" rx="7.3" ry="6.4" fill="url(#gB)"/>
<ellipse cx="1296.1" cy="1219.2" rx="7.3" ry="6.4" fill="url(#gB)"/>
<ellipse cx="1342.5" cy="1219.2" rx="7.3" ry="6.4" fill="url(#gC)"/>
<ellipse cx="1388.9" cy="1219.2" rx="7.3" ry="6.4" fill="url(#gC)"/>
<ellipse cx="1435.3" cy="1219.2" rx="7.3" ry="6.4" fill="url(#gC)"/>
<ellipse cx="1481.7" cy="1219.2" rx="7.3" ry="6.4" fill="url(#gC)"/>
<ellipse cx="1528.1" cy="1219.2" rx="7.3" ry="6.4" fill="url(#gC)"/>
<ellipse cx="1574.5" cy="1219.2" rx="7.3" ry="6.4" fill="url(#gC)"/>
<ellipse cx="1620.9" cy="1219.2" rx="7.3" ry="6.4" fill="url(#gB)"/>
<ellipse cx="1667.3" cy="1219.2" rx="7.3" ry="6.4" fill="url(#gB)"/>
<ellipse cx="1713.7" cy="1219.2" rx="7.3" ry="6.4" fill="url(#gB)"/>
<ellipse cx="1760.1" cy="1219.2" rx="7.3" ry="6.4" fill="url(#gB)"/>
<ellipse cx="1806.5" cy="1219.2" rx="7.3" ry="6.4" fill="url(#gB)"/>
<line x1="1133.7" y1="1115.2" x2="1122.1" y2="1120.6" stroke="#5446f2" stroke-width="2.8"/>
<line x1="1110.5" y1="1125.9" x2="1122.1" y2="1120.6" stroke="#f2f030" stroke-width="2.8"/>
<line x1="1133.7" y1="1115.2" x2="1145.3" y2="1120.6" stroke="#5446f2" stroke-width="2.8"/>
<line x1="1156.9" y1="1125.9" x2="1145.3" y2="1120.6" stroke="#f2f030" stroke-width="2.8"/>
<line x1="1110.5" y1="1149.5" x2="1122.1" y2="1155.2" stroke="#5446f2" stroke-width="2.8"/>
<line x1="1133.7" y1="1160.8" x2="1122.1" y2="1155.2" stroke="#f2f030" stroke-width="2.8"/>
<line x1="1133.7" y1="1160.8" x2="1133.7" y2="1172.5" stroke="#f2f030" stroke-width="2.8"/>
<line x1="1133.7" y1="1184.3" x2="1133.7" y2="1172.5" stroke="#5446f2" stroke-width="2.8"/>
<line x1="1133.7" y1="1184.3" x2="1122.1" y2="1190.0" stroke="#5446f2" stroke-width="2.8"/>
<line x1="1110.5" y1="1195.6" x2="1122.1" y2="1190.0" stroke="#f2f030" stroke-width="2.8"/>
<line x1="1133.7" y1="1184.3" x2="1145.3" y2="1190.0" stroke="#5446f2" stroke-width="2.8"/>
<line x1="1156.9" y1="1195.6" x2="1145.3" y2="1190.0" stroke="#f2f030" stroke-width="2.8"/>
<line x1="1110.5" y1="1219.2" x2="1122.1" y2="1225.0" stroke="#5446f2" stroke-width="2.8"/>
<line x1="1133.7" y1="1230.8" x2="1122.1" y2="1225.0" stroke="#f2f030" stroke-width="2.8"/>
<line x1="1180.1" y1="1115.2" x2="1168.5" y2="1120.6" stroke="#5446f2" stroke-width="2.8"/>
<line x1="1156.9" y1="1125.9" x2="1168.5" y2="1120.6" stroke="#f2f030" stroke-width="2.8"/>
<line x1="1180.1" y1="1115.2" x2="1191.7" y2="1120.6" stroke="#5446f2" stroke-width="2.8"/>
<line x1="1203.3" y1="1125.9" x2="1191.7" y2="1120.6" stroke="#f2f030" stroke-width="2.8"/>
<line x1="1156.9" y1="1125.9" x2="1156.9" y2="1137.7" stroke="#f2f030" stroke-width="2.8"/>
<line x1="1156.9" y1="1149.5" x2="1156.9" y2="1137.7" stroke="#5446f2" stroke-width="2.8"/>
<line x1="1156.9" y1="1149.5" x2="1145.3" y2="1155.2" stroke="#5446f2" stroke-width="2.8"/>
<line x1="1133.7" y1="1160.8" x2="1145.3" y2="1155.2" stroke="#f2f030" stroke-width="2.8"/>
<line x1="1156.9" y1="1149.5" x2="1168.5" y2="1155.2" stroke="#5446f2" stroke-width="2.8"/>
<line x1="1180.1" y1="1160.8" x2="1168.5" y2="1155.2" stroke="#f2f030" stroke-width="2.8"/>
<line x1="1180.1" y1="1160.8" x2="1180.1" y2="1172.5" stroke="#f2f030" stroke-width="2.8"/>
<line x1="1180.1" y1="1184.3" x2="1180.1" y2="1172.5" stroke="#5446f2" stroke-width="2.8"/>
<line x1="1180.1" y1="1184.3" x2="1168.5" y2="1190.0" stroke="#5446f2" stroke-width="2.8"/>
<line x1="1156.9" y1="1195.6" x2="1168.5" y2="1190.0" stroke="#f2f030" stroke-width="2.8"/>
<line x1="1180.1" y1="1184.3" x2="1191.7" y2="1190.0" stroke="#5446f2" stroke-width="2.8"/>
<line x1="1203.3" y1="1195.6" x2="1191.7" y2="1190.0" stroke="#f2f030" stroke-width="2.8"/>
<line x1="1156.9" y1="1195.6" x2="1156.9" y2="1207.4" stroke="#f2f030" stroke-width="2.8"/>
<line x1="1156.9" y1="1219.2" x2="1156.9" y2="1207.4" stroke="#5446f2" stroke-width="2.8"/>
<line x1="1156.9" y1="1219.2" x2="1145.3" y2="1225.0" stroke="#5446f2" stroke-width="2.8"/>
<line x1="1133.7" y1="1230.8" x2="1145.3" y2="1225.0" stroke="#f2f030" stroke-width="2.8"/>
<line x1="1156.9" y1="1219.2" x2="1168.5" y2="1225.0" stroke="#5446f2" stroke-width="2.8"/>
<line x1="1180.1" y1="1230.8" x2="1168.5" y2="1225.0" stroke="#f2f030" stroke-width="2.8"/>
<line x1="1226.5" y1="1115.2" x2="1214.9" y2="1120.6" stroke="#5446f2" stroke-width="2.8"/>
<line x1="1203.3" y1="1125.9" x2="1214.9" y2="1120.6" stroke="#f2f030" stroke-width="2.8"/>
<line x1="1226.5" y1="1115.2" x2="1238.1" y2="1120.6" stroke="#5446f2" stroke-width="2.8"/>
<line x1="1249.7" y1="1125.9" x2="1238.1" y2="1120.6" stroke="#f2f030" stroke-width="2.8"/>
<line x1="1203.3" y1="1125.9" x2="1203.3" y2="1137.7" stroke="#f2f030" stroke-width="2.8"/>
<line x1="1203.3" y1="1149.5" x2="1203.3" y2="1137.7" stroke="#5446f2" stroke-width="2.8"/>
<line x1="1203.3" y1="1149.5" x2="1191.7" y2="1155.2" stroke="#5446f2" stroke-width="2.8"/>
<line x1="1180.1" y1="1160.8" x2="1191.7" y2="1155.2" stroke="#f2f030" stroke-width="2.8"/>
<line x1="1203.3" y1="1149.5" x2="1214.9" y2="1155.2" stroke="#5446f2" stroke-width="2.8"/>
<line x1="1226.5" y1="1160.8" x2="1214.9" y2="1155.2" stroke="#f2f030" stroke-width="2.8"/>
<line x1="1226.5" y1="1160.8" x2="1226.5" y2="1172.5" stroke="#f2f030" stroke-width="2.8"/>
<line x1="1226.5" y1="1184.3" x2="1226.5" y2="1172.5" stroke="#5446f2" stroke-width="2.8"/>
<line x1="1226.5" y1="1184.3" x2="1214.9" y2="1190.0" stroke="#5446f2" stroke-width="2.8"/>
<line x1="1203.3" y1="1195.6" x2="1214.9" y2="1190.0" stroke="#f2f030" stroke-width="2.8"/>
<line x1="1226.5" y1="1184.3" x2="1238.1" y2="1190.0" stroke="#5446f2" stroke-width="2.8"/>
<line x1="1249.7" y1="1195.6" x2="1238.1" y2="1190.0" stroke="#f2f030" stroke-width="2.8"/>
<line x1="1203.3" y1="1195.6" x2="1203.3" y2="1207.4" stroke="#f2f030" stroke-width="2.8"/>
<line x1="1203.3" y1="1219.2" x2="1203.3" y2="1207.4" stroke="#5446f2" stroke-width="2.8"/>
<line x1="1203.3" y1="1219.2" x2="1191.7" y2="1225.0" stroke="#5446f2" stroke-width="2.8"/>
<line x1="1180.1" y1="1230.8" x2="1191.7" y2="1225.0" stroke="#f2f030" stroke-width="2.8"/>
<line x1="1203.3" y1="1219.2" x2="1214.9" y2="1225.0" stroke="#5446f2" stroke-width="2.8"/>
<line x1="1226.5" y1="1230.8" x2="1214.9" y2="1225.0" stroke="#f2f030" stroke-width="2.8"/>
<line x1="1272.9" y1="1115.2" x2="1261.3" y2="1120.6" stroke="#5446f2" stroke-width="2.8"/>
<line x1="1249.7" y1="1125.9" x2="1261.3" y2="1120.6" stroke="#f2f030" stroke-width="2.8"/>
<line x1="1272.9" y1="1115.2" x2="1284.5" y2="1120.6" stroke="#5446f2" stroke-width="2.8"/>
<line x1="1296.1" y1="1125.9" x2="1284.5" y2="1120.6" stroke="#f2f030" stroke-width="2.8"/>
<line x1="1249.7" y1="1125.9" x2="1249.7" y2="1137.7" stroke="#f2f030" stroke-width="2.8"/>
<line x1="1249.7" y1="1149.5" x2="1249.7" y2="1137.7" stroke="#5446f2" stroke-width="2.8"/>
<line x1="1249.7" y1="1149.5" x2="1238.1" y2="1155.2" stroke="#5446f2" stroke-width="2.8"/>
<line x1="1226.5" y1="1160.8" x2="1238.1" y2="1155.2" stroke="#f2f030" stroke-width="2.8"/>
<line x1="1249.7" y1="1149.5" x2="1261.3" y2="1155.2" stroke="#5446f2" stroke-width="2.8"/>
<line x1="1272.9" y1="1160.8" x2="1261.3" y2="1155.2" stroke="#f2f030" stroke-width="2.8"/>
<line x1="1272.9" y1="1160.8" x2="1272.9" y2="1172.5" stroke="#f2f030" stroke-width="2.8"/>
<line x1="1272.9" y1="1184.3" x2="1272.9" y2="1172.5" stroke="#5446f2" stroke-width="2.8"/>
<line x1="1272.9" y1="1184.3" x2="1261.3" y2="1190.0" stroke="#5446f2" stroke-width="2.8"/>
<line x1="1249.7" y1="1195.6" x2="1261.3" y2="1190.0" stroke="#f2f030" stroke-width="2.8"/>
<line x1="1272.9" y1="1184.3" x2="1284.5" y2="1190.0" stroke="#5446f2" stroke-width="2.8"/>
<line x1="1296.1" y1="1195.6" x2="1284.5" y2="1190.0" stroke="#f2f030" stroke-width="2.8"/>
<line x1="1249.7" y1="1195.6" x2="1249.7" y2="1207.4" stroke="#f2f030" stroke-width="2.8"/>
<line x1="1249.7" y1="1219.2" x2="1249.7" y2="1207.4" stroke="#5446f2" stroke-width="2.8"/>
<line x1="1249.7" y1="1219.2" x2="1238.1" y2="1225.0" stroke="#5446f2" stroke-width="2.8"/>
<line x1="1226.5" y1="1230.8" x2="1238.1" y2="1225.0" stroke="#f2f030" stroke-width="2.8"/>
<line x1="1249.7" y1="1219.2" x2="1261.3" y2="1225.0" stroke="#5446f2" stroke-width="2.8"/>
<line x1="1272.9" y1="1230.8" x2="1261.3" y2="1225.0" stroke="#f2f030" stroke-width="2.8"/>
<line x1="1319.3" y1="1115.2" x2="1307.7" y2="1120.6" stroke="#5446f2" stroke-width="2.8"/>
<line x1="1296.1" y1="1125.9" x2="1307.7" y2="1120.6" stroke="#f2f030" stroke-width="2.8"/>
<line x1="1319.3" y1="1115.2" x2="1330.9" y2="1120.6" stroke="#5446f2" stroke-width="2.8"/>
<line x1="1342.5" y1="1125.9" x2="1330.9" y2="1120.6" stroke="#f2f030" stroke-width="2.8"/>
<line x1="1296.1" y1="1125.9" x2="1296.1" y2="1137.7" stroke="#f2f030" stroke-width="2.8"/>
<line x1="1296.1" y1="1149.5" x2="1296.1" y2="1137.7" stroke="#5446f2" stroke-width="2.8"/>
<line x1="1296.1" y1="1149.5" x2="1284.5" y2="1155.2" stroke="#5446f2" stroke-width="2.8"/>
<line x1="1272.9" y1="1160.8" x2="1284.5" y2="1155.2" stroke="#f2f030" stroke-width="2.8"/>
<line x1="1296.1" y1="1149.5" x2="1307.7" y2="1155.2" stroke="#5446f2" stroke-width="2.8"/>
<line x1="1319.3" y1="1160.8" x2="1307.7" y2="1155.2" stroke="#f2f030" stroke-width="2.8"/>
<line x1="1319.3" y1="1160.8" x2="1319.3" y2="1172.5" stroke="#f2f030" stroke-width="2.8"/>
<line x1="1319.3" y1="1184.3" x2="1319.3" y2="1172.5" stroke="#5446f2" stroke-width="2.8"/>
<line x1="1319.3" y1="1184.3" x2="1307.7" y2="1190.0" stroke="#5446f2" stroke-width="2.8"/>
<line x1="1296.1" y1="1195.6" x2="1307.7" y2="1190.0" stroke="#f2f030" stroke-width="2.8"/>
<line x1="1319.3" y1="1184.3" x2="1330.9" y2="1190.0" stroke="#5446f2" stroke-width="2.8"/>
<line x1="1342.5" y1="1195.6" x2="1330.9" y2="1190.0" stroke="#f2f030" stroke-width="2.8"/>
<line x1="1296.1" y1="1195.6" x2="1296.1" y2="1207.4" stroke="#f2f030" stroke-width="2.8"/>
<line x1="1296.1" y1="1219.2" x2="1296.1" y2="1207.4" stroke="#5446f2" stroke-width="2.8"/>
<line x1="1296.1" y1="1219.2" x2="1284.5" y2="1225.0" stroke="#5446f2" stroke-width="2.8"/>
<line x1="1272.9" y1="1230.8" x2="1284.5" y2="1225.0" stroke="#f2f030" stroke-width="2.8"/>
<line x1="1296.1" y1="1219.2" x2="1307.7" y2="1225.0" stroke="#5446f2" stroke-width="2.8"/>
<line x1="1319.3" y1="1230.8" x2="1307.7" y2="1225.0" stroke="#f2f030" stroke-width="2.8"/>
<line x1="1365.7" y1="1115.2" x2="1354.1" y2="1120.6" stroke="#88d2d6" stroke-width="2.8"/>
<line x1="1365.7" y1="1115.2" x2="1354.1" y2="1120.6" stroke="#e4fafa" stroke-width="0.9"/>
<line x1="1342.5" y1="1125.9" x2="1354.1" y2="1120.6" stroke="#f2f030" stroke-width="2.8"/>
<line x1="1365.7" y1="1115.2" x2="1377.3" y2="1120.6" stroke="#88d2d6" stroke-width="2.8"/>
<line x1="1365.7" y1="1115.2" x2="1377.3" y2="1120.6" stroke="#e4fafa" stroke-width="0.9"/>
<line x1="1388.9" y1="1125.9" x2="1377.3" y2="1120.6" stroke="#f2f030" stroke-width="2.8"/>
<line x1="1342.5" y1="1125.9" x2="1342.5" y2="1137.7" stroke="#f2f030" stroke-width="2.8"/>
<line x1="1342.5" y1="1149.5" x2="1342.5" y2="1137.7" stroke="#4f9ca0" stroke-width="2.8"/>
<line x1="1342.5" y1="1149.5" x2="1330.9" y2="1155.2" stroke="#88d2d6" stroke-width="2.8"/>
<line x1="1342.5" y1="1149.5" x2="1330.9" y2="1155.2" stroke="#e4fafa" stroke-width="0.9"/>
<line x1="1319.3" y1="1160.8" x2="1330.9" y2="1155.2" stroke="#f2f030" stroke-width="2.8"/>
<line x1="1342.5" y1="1149.5" x2="1354.1" y2="1155.2" stroke="#88d2d6" stroke-width="2.8"/>
<line x1="1342.5" y1="1149.5" x2="1354.1" y2="1155.2" stroke="#e4fafa" stroke-width="0.9"/>
<line x1="1365.7" y1="1160.8" x2="1354.1" y2="1155.2" stroke="#f2f030" stroke-width="2.8"/>
<line x1="1365.7" y1="1160.8" x2="1365.7" y2="1172.5" stroke="#f2f030" stroke-width="2.8"/>
<line x1="1365.7" y1="1184.3" x2="1365.7" y2="1172.5" stroke="#4f9ca0" stroke-width="2.8"/>
<line x1="1365.7" y1="1184.3" x2="1354.1" y2="1190.0" stroke="#88d2d6" stroke-width="2.8"/>
<line x1="1365.7" y1="1184.3" x2="1354.1" y2="1190.0" stroke="#e4fafa" stroke-width="0.9"/>
<line x1="1342.5" y1="1195.6" x2="1354.1" y2="1190.0" stroke="#f2f030" stroke-width="2.8"/>
<line x1="1365.7" y1="1184.3" x2="1377.3" y2="1190.0" stroke="#88d2d6" stroke-width="2.8"/>
<line x1="1365.7" y1="1184.3" x2="1377.3" y2="1190.0" stroke="#e4fafa" stroke-width="0.9"/>
<line x1="1388.9" y1="1195.6" x2="1377.3" y2="1190.0" stroke="#f2f030" stroke-width="2.8"/>
<line x1="1342.5" y1="1195.6" x2="1342.5" y2="1207.4" stroke="#f2f030" stroke-width="2.8"/>
<line x1="1342.5" y1="1219.2" x2="1342.5" y2="1207.4" stroke="#4f9ca0" stroke-width="2.8"/>
<line x1="1342.5" y1="1219.2" x2="1330.9" y2="1225.0" stroke="#88d2d6" stroke-width="2.8"/>
<line x1="1342.5" y1="1219.2" x2="1330.9" y2="1225.0" stroke="#e4fafa" stroke-width="0.9"/>
<line x1="1319.3" y1="1230.8" x2="1330.9" y2="1225.0" stroke="#f2f030" stroke-width="2.8"/>
<line x1="1342.5" y1="1219.2" x2="1354.1" y2="1225.0" stroke="#88d2d6" stroke-width="2.8"/>
<line x1="1342.5" y1="1219.2" x2="1354.1" y2="1225.0" stroke="#e4fafa" stroke-width="0.9"/>
<line x1="1365.7" y1="1230.8" x2="1354.1" y2="1225.0" stroke="#f2f030" stroke-width="2.8"/>
<line x1="1412.1" y1="1115.2" x2="1400.5" y2="1120.6" stroke="#88d2d6" stroke-width="2.8"/>
<line x1="1412.1" y1="1115.2" x2="1400.5" y2="1120.6" stroke="#e4fafa" stroke-width="0.9"/>
<line x1="1388.9" y1="1125.9" x2="1400.5" y2="1120.6" stroke="#f2f030" stroke-width="2.8"/>
<line x1="1412.1" y1="1115.2" x2="1423.7" y2="1120.6" stroke="#88d2d6" stroke-width="2.8"/>
<line x1="1412.1" y1="1115.2" x2="1423.7" y2="1120.6" stroke="#e4fafa" stroke-width="0.9"/>
<line x1="1435.3" y1="1125.9" x2="1423.7" y2="1120.6" stroke="#f2f030" stroke-width="2.8"/>
<line x1="1388.9" y1="1125.9" x2="1388.9" y2="1137.7" stroke="#f2f030" stroke-width="2.8"/>
<line x1="1388.9" y1="1149.5" x2="1388.9" y2="1137.7" stroke="#4f9ca0" stroke-width="2.8"/>
<line x1="1388.9" y1="1149.5" x2="1377.3" y2="1155.2" stroke="#88d2d6" stroke-width="2.8"/>
<line x1="1388.9" y1="1149.5" x2="1377.3" y2="1155.2" stroke="#e4fafa" stroke-width="0.9"/>
<line x1="1365.7" y1="1160.8" x2="1377.3" y2="1155.2" stroke="#f2f030" stroke-width="2.8"/>
<line x1="1388.9" y1="1149.5" x2="1400.5" y2="1155.2" stroke="#88d2d6" stroke-width="2.8"/>
<line x1="1388.9" y1="1149.5" x2="1400.5" y2="1155.2" stroke="#e4fafa" stroke-width="0.9"/>
<line x1="1412.1" y1="1160.8" x2="1400.5" y2="1155.2" stroke="#f2f030" stroke-width="2.8"/>
<line x1="1412.1" y1="1160.8" x2="1412.1" y2="1172.5" stroke="#f2f030" stroke-width="2.8"/>
<line x1="1412.1" y1="1184.3" x2="1412.1" y2="1172.5" stroke="#4f9ca0" stroke-width="2.8"/>
<line x1="1412.1" y1="1184.3" x2="1400.5" y2="1190.0" stroke="#88d2d6" stroke-width="2.8"/>
<line x1="1412.1" y1="1184.3" x2="1400.5" y2="1190.0" stroke="#e4fafa" stroke-width="0.9"/>
<line x1="1388.9" y1="1195.6" x2="1400.5" y2="1190.0" stroke="#f2f030" stroke-width="2.8"/>
<line x1="1412.1" y1="1184.3" x2="1423.7" y2="1190.0" stroke="#88d2d6" stroke-width="2.8"/>
<line x1="1412.1" y1="1184.3" x2="1423.7" y2="1190.0" stroke="#e4fafa" stroke-width="0.9"/>
<line x1="1435.3" y1="1195.6" x2="1423.7" y2="1190.0" stroke="#f2f030" stroke-width="2.8"/>
<line x1="1388.9" y1="1195.6" x2="1388.9" y2="1207.4" stroke="#f2f030" stroke-width="2.8"/>
<line x1="1388.9" y1="1219.2" x2="1388.9" y2="1207.4" stroke="#4f9ca0" stroke-width="2.8"/>
<line x1="1388.9" y1="1219.2" x2="1377.3" y2="1225.0" stroke="#88d2d6" stroke-width="2.8"/>
<line x1="1388.9" y1="1219.2" x2="1377.3" y2="1225.0" stroke="#e4fafa" stroke-width="0.9"/>
<line x1="1365.7" y1="1230.8" x2="1377.3" y2="1225.0" stroke="#f2f030" stroke-width="2.8"/>
<line x1="1388.9" y1="1219.2" x2="1400.5" y2="1225.0" stroke="#88d2d6" stroke-width="2.8"/>
<line x1="1388.9" y1="1219.2" x2="1400.5" y2="1225.0" stroke="#e4fafa" stroke-width="0.9"/>
<line x1="1412.1" y1="1230.8" x2="1400.5" y2="1225.0" stroke="#f2f030" stroke-width="2.8"/>
<line x1="1458.5" y1="1115.2" x2="1446.9" y2="1120.6" stroke="#88d2d6" stroke-width="2.8"/>
<line x1="1458.5" y1="1115.2" x2="1446.9" y2="1120.6" stroke="#e4fafa" stroke-width="0.9"/>
<line x1="1435.3" y1="1125.9" x2="1446.9" y2="1120.6" stroke="#f2f030" stroke-width="2.8"/>
<line x1="1458.5" y1="1115.2" x2="1470.1" y2="1120.6" stroke="#88d2d6" stroke-width="2.8"/>
<line x1="1458.5" y1="1115.2" x2="1470.1" y2="1120.6" stroke="#e4fafa" stroke-width="0.9"/>
<line x1="1481.7" y1="1125.9" x2="1470.1" y2="1120.6" stroke="#f2f030" stroke-width="2.8"/>
<line x1="1435.3" y1="1125.9" x2="1435.3" y2="1137.7" stroke="#f2f030" stroke-width="2.8"/>
<line x1="1435.3" y1="1149.5" x2="1435.3" y2="1137.7" stroke="#4f9ca0" stroke-width="2.8"/>
<line x1="1435.3" y1="1149.5" x2="1423.7" y2="1155.2" stroke="#88d2d6" stroke-width="2.8"/>
<line x1="1435.3" y1="1149.5" x2="1423.7" y2="1155.2" stroke="#e4fafa" stroke-width="0.9"/>
<line x1="1412.1" y1="1160.8" x2="1423.7" y2="1155.2" stroke="#f2f030" stroke-width="2.8"/>
<line x1="1435.3" y1="1149.5" x2="1446.9" y2="1155.2" stroke="#88d2d6" stroke-width="2.8"/>
<line x1="1435.3" y1="1149.5" x2="1446.9" y2="1155.2" stroke="#e4fafa" stroke-width="0.9"/>
<line x1="1458.5" y1="1160.8" x2="1446.9" y2="1155.2" stroke="#f2f030" stroke-width="2.8"/>
<line x1="1458.5" y1="1160.8" x2="1458.5" y2="1172.5" stroke="#f2f030" stroke-width="2.8"/>
<line x1="1458.5" y1="1184.3" x2="1458.5" y2="1172.5" stroke="#4f9ca0" stroke-width="2.8"/>
<line x1="1458.5" y1="1184.3" x2="1446.9" y2="1190.0" stroke="#88d2d6" stroke-width="2.8"/>
<line x1="1458.5" y1="1184.3" x2="1446.9" y2="1190.0" stroke="#e4fafa" stroke-width="0.9"/>
<line x1="1435.3" y1="1195.6" x2="1446.9" y2="1190.0" stroke="#f2f030" stroke-width="2.8"/>
<line x1="1458.5" y1="1184.3" x2="1470.1" y2="1190.0" stroke="#88d2d6" stroke-width="2.8"/>
<line x1="1458.5" y1="1184.3" x2="1470.1" y2="1190.0" stroke="#e4fafa" stroke-width="0.9"/>
<line x1="1481.7" y1="1195.6" x2="1470.1" y2="1190.0" stroke="#f2f030" stroke-width="2.8"/>
<line x1="1435.3" y1="1195.6" x2="1435.3" y2="1207.4" stroke="#f2f030" stroke-width="2.8"/>
<line x1="1435.3" y1="1219.2" x2="1435.3" y2="1207.4" stroke="#4f9ca0" stroke-width="2.8"/>
<line x1="1435.3" y1="1219.2" x2="1423.7" y2="1225.0" stroke="#88d2d6" stroke-width="2.8"/>
<line x1="1435.3" y1="1219.2" x2="1423.7" y2="1225.0" stroke="#e4fafa" stroke-width="0.9"/>
<line x1="1412.1" y1="1230.8" x2="1423.7" y2="1225.0" stroke="#f2f030" stroke-width="2.8"/>
<line x1="1435.3" y1="1219.2" x2="1446.9" y2="1225.0" stroke="#88d2d6" stroke-width="2.8"/>
<line x1="1435.3" y1="1219.2" x2="1446.9" y2="1225.0" stroke="#e4fafa" stroke-width="0.9"/>
<line x1="1458.5" y1="1230.8" x2="1446.9" y2="1225.0" stroke="#f2f030" stroke-width="2.8"/>
<line x1="1504.9" y1="1115.2" x2="1493.3" y2="1120.6" stroke="#88d2d6" stroke-width="2.8"/>
<line x1="1504.9" y1="1115.2" x2="1493.3" y2="1120.6" stroke="#e4fafa" stroke-width="0.9"/>
<line x1="1481.7" y1="1125.9" x2="1493.3" y2="1120.6" stroke="#f2f030" stroke-width="2.8"/>
<line x1="1504.9" y1="1115.2" x2="1516.5" y2="1120.6" stroke="#88d2d6" stroke-width="2.8"/>
<line x1="1504.9" y1="1115.2" x2="1516.5" y2="1120.6" stroke="#e4fafa" stroke-width="0.9"/>
<line x1="1528.1" y1="1125.9" x2="1516.5" y2="1120.6" stroke="#f2f030" stroke-width="2.8"/>
<line x1="1481.7" y1="1125.9" x2="1481.7" y2="1137.7" stroke="#f2f030" stroke-width="2.8"/>
<line x1="1481.7" y1="1149.5" x2="1481.7" y2="1137.7" stroke="#4f9ca0" stroke-width="2.8"/>
<line x1="1481.7" y1="1149.5" x2="1470.1" y2="1155.2" stroke="#88d2d6" stroke-width="2.8"/>
<line x1="1481.7" y1="1149.5" x2="1470.1" y2="1155.2" stroke="#e4fafa" stroke-width="0.9"/>
<line x1="1458.5" y1="1160.8" x2="1470.1" y2="1155.2" stroke="#f2f030" stroke-width="2.8"/>
<line x1="1481.7" y1="1149.5" x2="1493.3" y2="1155.2" stroke="#88d2d6" stroke-width="2.8"/>
<line x1="1481.7" y1="1149.5" x2="1493.3" y2="1155.2" stroke="#e4fafa" stroke-width="0.9"/>
<line x1="1504.9" y1="1160.8" x2="1493.3" y2="1155.2" stroke="#f2f030" stroke-width="2.8"/>
<line x1="1504.9" y1="1160.8" x2="1504.9" y2="1172.5" stroke="#f2f030" stroke-width="2.8"/>
<line x1="1504.9" y1="1184.3" x2="1504.9" y2="1172.5" stroke="#4f9ca0" stroke-width="2.8"/>
<line x1="1504.9" y1="1184.3" x2="1493.3" y2="1190.0" stroke="#88d2d6" stroke-width="2.8"/>
<line x1="1504.9" y1="1184.3" x2="1493.3" y2="1190.0" stroke="#e4fafa" stroke-width="0.9"/>
<line x1="1481.7" y1="1195.6" x2="1493.3" y2="1190.0" stroke="#f2f030" stroke-width="2.8"/>
<line x1="1504.9" y1="1184.3" x2="1516.5" y2="1190.0" stroke="#88d2d6" stroke-width="2.8"/>
<line x1="1504.9" y1="1184.3" x2="1516.5" y2="1190.0" stroke="#e4fafa" stroke-width="0.9"/>
<line x1="1528.1" y1="1195.6" x2="1516.5" y2="1190.0" stroke="#f2f030" stroke-width="2.8"/>
<line x1="1481.7" y1="1195.6" x2="1481.7" y2="1207.4" stroke="#f2f030" stroke-width="2.8"/>
<line x1="1481.7" y1="1219.2" x2="1481.7" y2="1207.4" stroke="#4f9ca0" stroke-width="2.8"/>
<line x1="1481.7" y1="1219.2" x2="1470.1" y2="1225.0" stroke="#88d2d6" stroke-width="2.8"/>
<line x1="1481.7" y1="1219.2" x2="1470.1" y2="1225.0" stroke="#e4fafa" stroke-width="0.9"/>
<line x1="1458.5" y1="1230.8" x2="1470.1" y2="1225.0" stroke="#f2f030" stroke-width="2.8"/>
<line x1="1481.7" y1="1219.2" x2="1493.3" y2="1225.0" stroke="#88d2d6" stroke-width="2.8"/>
<line x1="1481.7" y1="1219.2" x2="1493.3" y2="1225.0" stroke="#e4fafa" stroke-width="0.9"/>
<line x1="1504.9" y1="1230.8" x2="1493.3" y2="1225.0" stroke="#f2f030" stroke-width="2.8"/>
<line x1="1551.3" y1="1115.2" x2="1539.7" y2="1120.6" stroke="#88d2d6" stroke-width="2.8"/>
<line x1="1551.3" y1="1115.2" x2="1539.7" y2="1120.6" stroke="#e4fafa" stroke-width="0.9"/>
<line x1="1528.1" y1="1125.9" x2="1539.7" y2="1120.6" stroke="#f2f030" stroke-width="2.8"/>
<line x1="1551.3" y1="1115.2" x2="1562.9" y2="1120.6" stroke="#88d2d6" stroke-width="2.8"/>
<line x1="1551.3" y1="1115.2" x2="1562.9" y2="1120.6" stroke="#e4fafa" stroke-width="0.9"/>
<line x1="1574.5" y1="1125.9" x2="1562.9" y2="1120.6" stroke="#f2f030" stroke-width="2.8"/>
<line x1="1528.1" y1="1125.9" x2="1528.1" y2="1137.7" stroke="#f2f030" stroke-width="2.8"/>
<line x1="1528.1" y1="1149.5" x2="1528.1" y2="1137.7" stroke="#4f9ca0" stroke-width="2.8"/>
<line x1="1528.1" y1="1149.5" x2="1516.5" y2="1155.2" stroke="#88d2d6" stroke-width="2.8"/>
<line x1="1528.1" y1="1149.5" x2="1516.5" y2="1155.2" stroke="#e4fafa" stroke-width="0.9"/>
<line x1="1504.9" y1="1160.8" x2="1516.5" y2="1155.2" stroke="#f2f030" stroke-width="2.8"/>
<line x1="1528.1" y1="1149.5" x2="1539.7" y2="1155.2" stroke="#88d2d6" stroke-width="2.8"/>
<line x1="1528.1" y1="1149.5" x2="1539.7" y2="1155.2" stroke="#e4fafa" stroke-width="0.9"/>
<line x1="1551.3" y1="1160.8" x2="1539.7" y2="1155.2" stroke="#f2f030" stroke-width="2.8"/>
<line x1="1551.3" y1="1160.8" x2="1551.3" y2="1172.5" stroke="#f2f030" stroke-width="2.8"/>
<line x1="1551.3" y1="1184.3" x2="1551.3" y2="1172.5" stroke="#4f9ca0" stroke-width="2.8"/>
<line x1="1551.3" y1="1184.3" x2="1539.7" y2="1190.0" stroke="#88d2d6" stroke-width="2.8"/>
<line x1="1551.3" y1="1184.3" x2="1539.7" y2="1190.0" stroke="#e4fafa" stroke-width="0.9"/>
<line x1="1528.1" y1="1195.6" x2="1539.7" y2="1190.0" stroke="#f2f030" stroke-width="2.8"/>
<line x1="1551.3" y1="1184.3" x2="1562.9" y2="1190.0" stroke="#88d2d6" stroke-width="2.8"/>
<line x1="1551.3" y1="1184.3" x2="1562.9" y2="1190.0" stroke="#e4fafa" stroke-width="0.9"/>
<line x1="1574.5" y1="1195.6" x2="1562.9" y2="1190.0" stroke="#f2f030" stroke-width="2.8"/>
<line x1="1528.1" y1="1195.6" x2="1528.1" y2="1207.4" stroke="#f2f030" stroke-width="2.8"/>
<line x1="1528.1" y1="1219.2" x2="1528.1" y2="1207.4" stroke="#4f9ca0" stroke-width="2.8"/>
<line x1="1528.1" y1="1219.2" x2="1516.5" y2="1225.0" stroke="#88d2d6" stroke-width="2.8"/>
<line x1="1528.1" y1="1219.2" x2="1516.5" y2="1225.0" stroke="#e4fafa" stroke-width="0.9"/>
<line x1="1504.9" y1="1230.8" x2="1516.5" y2="1225.0" stroke="#f2f030" stroke-width="2.8"/>
<line x1="1528.1" y1="1219.2" x2="1539.7" y2="1225.0" stroke="#88d2d6" stroke-width="2.8"/>
<line x1="1528.1" y1="1219.2" x2="1539.7" y2="1225.0" stroke="#e4fafa" stroke-width="0.9"/>
<line x1="1551.3" y1="1230.8" x2="1539.7" y2="1225.0" stroke="#f2f030" stroke-width="2.8"/>
<line x1="1597.7" y1="1115.2" x2="1586.1" y2="1120.6" stroke="#88d2d6" stroke-width="2.8"/>
<line x1="1597.7" y1="1115.2" x2="1586.1" y2="1120.6" stroke="#e4fafa" stroke-width="0.9"/>
<line x1="1574.5" y1="1125.9" x2="1586.1" y2="1120.6" stroke="#f2f030" stroke-width="2.8"/>
<line x1="1597.7" y1="1115.2" x2="1609.3" y2="1120.6" stroke="#88d2d6" stroke-width="2.8"/>
<line x1="1597.7" y1="1115.2" x2="1609.3" y2="1120.6" stroke="#e4fafa" stroke-width="0.9"/>
<line x1="1620.9" y1="1125.9" x2="1609.3" y2="1120.6" stroke="#f2f030" stroke-width="2.8"/>
<line x1="1574.5" y1="1125.9" x2="1574.5" y2="1137.7" stroke="#f2f030" stroke-width="2.8"/>
<line x1="1574.5" y1="1149.5" x2="1574.5" y2="1137.7" stroke="#4f9ca0" stroke-width="2.8"/>
<line x1="1574.5" y1="1149.5" x2="1562.9" y2="1155.2" stroke="#88d2d6" stroke-width="2.8"/>
<line x1="1574.5" y1="1149.5" x2="1562.9" y2="1155.2" stroke="#e4fafa" stroke-width="0.9"/>
<line x1="1551.3" y1="1160.8" x2="1562.9" y2="1155.2" stroke="#f2f030" stroke-width="2.8"/>
<line x1="1574.5" y1="1149.5" x2="1586.1" y2="1155.2" stroke="#88d2d6" stroke-width="2.8"/>
<line x1="1574.5" y1="1149.5" x2="1586.1" y2="1155.2" stroke="#e4fafa" stroke-width="0.9"/>
<line x1="1597.7" y1="1160.8" x2="1586.1" y2="1155.2" stroke="#f2f030" stroke-width="2.8"/>
<line x1="1597.7" y1="1160.8" x2="1597.7" y2="1172.5" stroke="#f2f030" stroke-width="2.8"/>
<line x1="1597.7" y1="1184.3" x2="1597.7" y2="1172.5" stroke="#4f9ca0" stroke-width="2.8"/>
<line x1="1597.7" y1="1184.3" x2="1586.1" y2="1190.0" stroke="#88d2d6" stroke-width="2.8"/>
<line x1="1597.7" y1="1184.3" x2="1586.1" y2="1190.0" stroke="#e4fafa" stroke-width="0.9"/>
<line x1="1574.5" y1="1195.6" x2="1586.1" y2="1190.0" stroke="#f2f030" stroke-width="2.8"/>
<line x1="1597.7" y1="1184.3" x2="1609.3" y2="1190.0" stroke="#88d2d6" stroke-width="2.8"/>
<line x1="1597.7" y1="1184.3" x2="1609.3" y2="1190.0" stroke="#e4fafa" stroke-width="0.9"/>
<line x1="1620.9" y1="1195.6" x2="1609.3" y2="1190.0" stroke="#f2f030" stroke-width="2.8"/>
<line x1="1574.5" y1="1195.6" x2="1574.5" y2="1207.4" stroke="#f2f030" stroke-width="2.8"/>
<line x1="1574.5" y1="1219.2" x2="1574.5" y2="1207.4" stroke="#4f9ca0" stroke-width="2.8"/>
<line x1="1574.5" y1="1219.2" x2="1562.9" y2="1225.0" stroke="#88d2d6" stroke-width="2.8"/>
<line x1="1574.5" y1="1219.2" x2="1562.9" y2="1225.0" stroke="#e4fafa" stroke-width="0.9"/>
<line x1="1551.3" y1="1230.8" x2="1562.9" y2="1225.0" stroke="#f2f030" stroke-width="2.8"/>
<line x1="1574.5" y1="1219.2" x2="1586.1" y2="1225.0" stroke="#88d2d6" stroke-width="2.8"/>
<line x1="1574.5" y1="1219.2" x2="1586.1" y2="1225.0" stroke="#e4fafa" stroke-width="0.9"/>
<line x1="1597.7" y1="1230.8" x2="1586.1" y2="1225.0" stroke="#f2f030" stroke-width="2.8"/>
<line x1="1644.1" y1="1115.2" x2="1632.5" y2="1120.6" stroke="#5446f2" stroke-width="2.8"/>
<line x1="1620.9" y1="1125.9" x2="1632.5" y2="1120.6" stroke="#f2f030" stroke-width="2.8"/>
<line x1="1644.1" y1="1115.2" x2="1655.7" y2="1120.6" stroke="#5446f2" stroke-width="2.8"/>
<line x1="1667.3" y1="1125.9" x2="1655.7" y2="1120.6" stroke="#f2f030" stroke-width="2.8"/>
<line x1="1620.9" y1="1125.9" x2="1620.9" y2="1137.7" stroke="#f2f030" stroke-width="2.8"/>
<line x1="1620.9" y1="1149.5" x2="1620.9" y2="1137.7" stroke="#5446f2" stroke-width="2.8"/>
<line x1="1620.9" y1="1149.5" x2="1609.3" y2="1155.2" stroke="#5446f2" stroke-width="2.8"/>
<line x1="1597.7" y1="1160.8" x2="1609.3" y2="1155.2" stroke="#f2f030" stroke-width="2.8"/>
<line x1="1620.9" y1="1149.5" x2="1632.5" y2="1155.2" stroke="#5446f2" stroke-width="2.8"/>
<line x1="1644.1" y1="1160.8" x2="1632.5" y2="1155.2" stroke="#f2f030" stroke-width="2.8"/>
<line x1="1644.1" y1="1160.8" x2="1644.1" y2="1172.5" stroke="#f2f030" stroke-width="2.8"/>
<line x1="1644.1" y1="1184.3" x2="1644.1" y2="1172.5" stroke="#5446f2" stroke-width="2.8"/>
<line x1="1644.1" y1="1184.3" x2="1632.5" y2="1190.0" stroke="#5446f2" stroke-width="2.8"/>
<line x1="1620.9" y1="1195.6" x2="1632.5" y2="1190.0" stroke="#f2f030" stroke-width="2.8"/>
<line x1="1644.1" y1="1184.3" x2="1655.7" y2="1190.0" stroke="#5446f2" stroke-width="2.8"/>
<line x1="1667.3" y1="1195.6" x2="1655.7" y2="1190.0" stroke="#f2f030" stroke-width="2.8"/>
<line x1="1620.9" y1="1195.6" x2="1620.9" y2="1207.4" stroke="#f2f030" stroke-width="2.8"/>
<line x1="1620.9" y1="1219.2" x2="1620.9" y2="1207.4" stroke="#5446f2" stroke-width="2.8"/>
<line x1="1620.9" y1="1219.2" x2="1609.3" y2="1225.0" stroke="#5446f2" stroke-width="2.8"/>
<line x1="1597.7" y1="1230.8" x2="1609.3" y2="1225.0" stroke="#f2f030" stroke-width="2.8"/>
<line x1="1620.9" y1="1219.2" x2="1632.5" y2="1225.0" stroke="#5446f2" stroke-width="2.8"/>
<line x1="1644.1" y1="1230.8" x2="1632.5" y2="1225.0" stroke="#f2f030" stroke-width="2.8"/>
<line x1="1690.5" y1="1115.2" x2="1678.9" y2="1120.6" stroke="#5446f2" stroke-width="2.8"/>
<line x1="1667.3" y1="1125.9" x2="1678.9" y2="1120.6" stroke="#f2f030" stroke-width="2.8"/>
<line x1="1690.5" y1="1115.2" x2="1702.1" y2="1120.6" stroke="#5446f2" stroke-width="2.8"/>
<line x1="1713.7" y1="1125.9" x2="1702.1" y2="1120.6" stroke="#f2f030" stroke-width="2.8"/>
<line x1="1667.3" y1="1125.9" x2="1667.3" y2="1137.7" stroke="#f2f030" stroke-width="2.8"/>
<line x1="1667.3" y1="1149.5" x2="1667.3" y2="1137.7" stroke="#5446f2" stroke-width="2.8"/>
<line x1="1667.3" y1="1149.5" x2="1655.7" y2="1155.2" stroke="#5446f2" stroke-width="2.8"/>
<line x1="1644.1" y1="1160.8" x2="1655.7" y2="1155.2" stroke="#f2f030" stroke-width="2.8"/>
<line x1="1667.3" y1="1149.5" x2="1678.9" y2="1155.2" stroke="#5446f2" stroke-width="2.8"/>
<line x1="1690.5" y1="1160.8" x2="1678.9" y2="1155.2" stroke="#f2f030" stroke-width="2.8"/>
<line x1="1690.5" y1="1160.8" x2="1690.5" y2="1172.5" stroke="#f2f030" stroke-width="2.8"/>
<line x1="1690.5" y1="1184.3" x2="1690.5" y2="1172.5" stroke="#5446f2" stroke-width="2.8"/>
<line x1="1690.5" y1="1184.3" x2="1678.9" y2="1190.0" stroke="#5446f2" stroke-width="2.8"/>
<line x1="1667.3" y1="1195.6" x2="1678.9" y2="1190.0" stroke="#f2f030" stroke-width="2.8"/>
<line x1="1690.5" y1="1184.3" x2="1702.1" y2="1190.0" stroke="#5446f2" stroke-width="2.8"/>
<line x1="1713.7" y1="1195.6" x2="1702.1" y2="1190.0" stroke="#f2f030" stroke-width="2.8"/>
<line x1="1667.3" y1="1195.6" x2="1667.3" y2="1207.4" stroke="#f2f030" stroke-width="2.8"/>
<line x1="1667.3" y1="1219.2" x2="1667.3" y2="1207.4" stroke="#5446f2" stroke-width="2.8"/>
<line x1="1667.3" y1="1219.2" x2="1655.7" y2="1225.0" stroke="#5446f2" stroke-width="2.8"/>
<line x1="1644.1" y1="1230.8" x2="1655.7" y2="1225.0" stroke="#f2f030" stroke-width="2.8"/>
<line x1="1667.3" y1="1219.2" x2="1678.9" y2="1225.0" stroke="#5446f2" stroke-width="2.8"/>
<line x1="1690.5" y1="1230.8" x2="1678.9" y2="1225.0" stroke="#f2f030" stroke-width="2.8"/>
<line x1="1736.9" y1="1115.2" x2="1725.3" y2="1120.6" stroke="#5446f2" stroke-width="2.8"/>
<line x1="1713.7" y1="1125.9" x2="1725.3" y2="1120.6" stroke="#f2f030" stroke-width="2.8"/>
<line x1="1736.9" y1="1115.2" x2="1748.5" y2="1120.6" stroke="#5446f2" stroke-width="2.8"/>
<line x1="1760.1" y1="1125.9" x2="1748.5" y2="1120.6" stroke="#f2f030" stroke-width="2.8"/>
<line x1="1713.7" y1="1125.9" x2="1713.7" y2="1137.7" stroke="#f2f030" stroke-width="2.8"/>
<line x1="1713.7" y1="1149.5" x2="1713.7" y2="1137.7" stroke="#5446f2" stroke-width="2.8"/>
<line x1="1713.7" y1="1149.5" x2="1702.1" y2="1155.2" stroke="#5446f2" stroke-width="2.8"/>
<line x1="1690.5" y1="1160.8" x2="1702.1" y2="1155.2" stroke="#f2f030" stroke-width="2.8"/>
<line x1="1713.7" y1="1149.5" x2="1725.3" y2="1155.2" stroke="#5446f2" stroke-width="2.8"/>
<line x1="1736.9" y1="1160.8" x2="1725.3" y2="1155.2" stroke="#f2f030" stroke-width="2.8"/>
<line x1="1736.9" y1="1160.8" x2="1736.9" y2="1172.5" stroke="#f2f030" stroke-width="2.8"/>
<line x1="1736.9" y1="1184.3" x2="1736.9" y2="1172.5" stroke="#5446f2" stroke-width="2.8"/>
<line x1="1736.9" y1="1184.3" x2="1725.3" y2="1190.0" stroke="#5446f2" stroke-width="2.8"/>
<line x1="1713.7" y1="1195.6" x2="1725.3" y2="1190.0" stroke="#f2f030" stroke-width="2.8"/>
<line x1="1736.9" y1="1184.3" x2="1748.5" y2="1190.0" stroke="#5446f2" stroke-width="2.8"/>
<line x1="1760.1" y1="1195.6" x2="1748.5" y2="1190.0" stroke="#f2f030" stroke-width="2.8"/>
<line x1="1713.7" y1="1195.6" x2="1713.7" y2="1207.4" stroke="#f2f030" stroke-width="2.8"/>
<line x1="1713.7" y1="1219.2" x2="1713.7" y2="1207.4" stroke="#5446f2" stroke-width="2.8"/>
<line x1="1713.7" y1="1219.2" x2="1702.1" y2="1225.0" stroke="#5446f2" stroke-width="2.8"/>
<line x1="1690.5" y1="1230.8" x2="1702.1" y2="1225.0" stroke="#f2f030" stroke-width="2.8"/>
<line x1="1713.7" y1="1219.2" x2="1725.3" y2="1225.0" stroke="#5446f2" stroke-width="2.8"/>
<line x1="1736.9" y1="1230.8" x2="1725.3" y2="1225.0" stroke="#f2f030" stroke-width="2.8"/>
<line x1="1783.3" y1="1115.2" x2="1771.7" y2="1120.6" stroke="#5446f2" stroke-width="2.8"/>
<line x1="1760.1" y1="1125.9" x2="1771.7" y2="1120.6" stroke="#f2f030" stroke-width="2.8"/>
<line x1="1783.3" y1="1115.2" x2="1794.9" y2="1120.6" stroke="#5446f2" stroke-width="2.8"/>
<line x1="1806.5" y1="1125.9" x2="1794.9" y2="1120.6" stroke="#f2f030" stroke-width="2.8"/>
<line x1="1760.1" y1="1125.9" x2="1760.1" y2="1137.7" stroke="#f2f030" stroke-width="2.8"/>
<line x1="1760.1" y1="1149.5" x2="1760.1" y2="1137.7" stroke="#5446f2" stroke-width="2.8"/>
<line x1="1760.1" y1="1149.5" x2="1748.5" y2="1155.2" stroke="#5446f2" stroke-width="2.8"/>
<line x1="1736.9" y1="1160.8" x2="1748.5" y2="1155.2" stroke="#f2f030" stroke-width="2.8"/>
<line x1="1760.1" y1="1149.5" x2="1771.7" y2="1155.2" stroke="#5446f2" stroke-width="2.8"/>
<line x1="1783.3" y1="1160.8" x2="1771.7" y2="1155.2" stroke="#f2f030" stroke-width="2.8"/>
<line x1="1783.3" y1="1160.8" x2="1783.3" y2="1172.5" stroke="#f2f030" stroke-width="2.8"/>
<line x1="1783.3" y1="1184.3" x2="1783.3" y2="1172.5" stroke="#5446f2" stroke-width="2.8"/>
<line x1="1783.3" y1="1184.3" x2="1771.7" y2="1190.0" stroke="#5446f2" stroke-width="2.8"/>
<line x1="1760.1" y1="1195.6" x2="1771.7" y2="1190.0" stroke="#f2f030" stroke-width="2.8"/>
<line x1="1783.3" y1="1184.3" x2="1794.9" y2="1190.0" stroke="#5446f2" stroke-width="2.8"/>
<line x1="1806.5" y1="1195.6" x2="1794.9" y2="1190.0" stroke="#f2f030" stroke-width="2.8"/>
<line x1="1760.1" y1="1195.6" x2="1760.1" y2="1207.4" stroke="#f2f030" stroke-width="2.8"/>
<line x1="1760.1" y1="1219.2" x2="1760.1" y2="1207.4" stroke="#5446f2" stroke-width="2.8"/>
<line x1="1760.1" y1="1219.2" x2="1748.5" y2="1225.0" stroke="#5446f2" stroke-width="2.8"/>
<line x1="1736.9" y1="1230.8" x2="1748.5" y2="1225.0" stroke="#f2f030" stroke-width="2.8"/>
<line x1="1760.1" y1="1219.2" x2="1771.7" y2="1225.0" stroke="#5446f2" stroke-width="2.8"/>
<line x1="1783.3" y1="1230.8" x2="1771.7" y2="1225.0" stroke="#f2f030" stroke-width="2.8"/>
<line x1="1829.7" y1="1115.2" x2="1818.1" y2="1120.6" stroke="#5446f2" stroke-width="2.8"/>
<line x1="1806.5" y1="1125.9" x2="1818.1" y2="1120.6" stroke="#f2f030" stroke-width="2.8"/>
<line x1="1829.7" y1="1115.2" x2="1841.3" y2="1120.6" stroke="#5446f2" stroke-width="2.8"/>
<line x1="1852.9" y1="1125.9" x2="1841.3" y2="1120.6" stroke="#f2f030" stroke-width="2.8"/>
<line x1="1806.5" y1="1125.9" x2="1806.5" y2="1137.7" stroke="#f2f030" stroke-width="2.8"/>
<line x1="1806.5" y1="1149.5" x2="1806.5" y2="1137.7" stroke="#5446f2" stroke-width="2.8"/>
<line x1="1806.5" y1="1149.5" x2="1794.9" y2="1155.2" stroke="#5446f2" stroke-width="2.8"/>
<line x1="1783.3" y1="1160.8" x2="1794.9" y2="1155.2" stroke="#f2f030" stroke-width="2.8"/>
<line x1="1806.5" y1="1149.5" x2="1818.1" y2="1155.2" stroke="#5446f2" stroke-width="2.8"/>
<line x1="1829.7" y1="1160.8" x2="1818.1" y2="1155.2" stroke="#f2f030" stroke-width="2.8"/>
<line x1="1829.7" y1="1160.8" x2="1829.7" y2="1172.5" stroke="#f2f030" stroke-width="2.8"/>
<line x1="1829.7" y1="1184.3" x2="1829.7" y2="1172.5" stroke="#5446f2" stroke-width="2.8"/>
<line x1="1829.7" y1="1184.3" x2="1818.1" y2="1190.0" stroke="#5446f2" stroke-width="2.8"/>
<line x1="1806.5" y1="1195.6" x2="1818.1" y2="1190.0" stroke="#f2f030" stroke-width="2.8"/>
<line x1="1829.7" y1="1184.3" x2="1841.3" y2="1190.0" stroke="#5446f2" stroke-width="2.8"/>
<line x1="1852.9" y1="1195.6" x2="1841.3" y2="1190.0" stroke="#f2f030" stroke-width="2.8"/>
<line x1="1806.5" y1="1195.6" x2="1806.5" y2="1207.4" stroke="#f2f030" stroke-width="2.8"/>
<line x1="1806.5" y1="1219.2" x2="1806.5" y2="1207.4" stroke="#5446f2" stroke-width="2.8"/>
<line x1="1806.5" y1="1219.2" x2="1794.9" y2="1225.0" stroke="#5446f2" stroke-width="2.8"/>
<line x1="1783.3" y1="1230.8" x2="1794.9" y2="1225.0" stroke="#f2f030" stroke-width="2.8"/>
<line x1="1806.5" y1="1219.2" x2="1818.1" y2="1225.0" stroke="#5446f2" stroke-width="2.8"/>
<line x1="1829.7" y1="1230.8" x2="1818.1" y2="1225.0" stroke="#f2f030" stroke-width="2.8"/>
<ellipse cx="1156.9" cy="1125.9" rx="7.4" ry="6.3" fill="url(#gY)"/>
<ellipse cx="1203.3" cy="1125.9" rx="7.4" ry="6.3" fill="url(#gY)"/>
<ellipse cx="1249.7" cy="1125.9" rx="7.4" ry="6.3" fill="url(#gY)"/>
<ellipse cx="1296.1" cy="1125.9" rx="7.4" ry="6.3" fill="url(#gY)"/>
<ellipse cx="1342.5" cy="1125.9" rx="7.4" ry="6.3" fill="url(#gY)"/>
<ellipse cx="1388.9" cy="1125.9" rx="7.4" ry="6.3" fill="url(#gY)"/>
<ellipse cx="1435.3" cy="1125.9" rx="7.4" ry="6.3" fill="url(#gY)"/>
<ellipse cx="1481.7" cy="1125.9" rx="7.4" ry="6.3" fill="url(#gY)"/>
<ellipse cx="1528.1" cy="1125.9" rx="7.4" ry="6.3" fill="url(#gY)"/>
<ellipse cx="1574.5" cy="1125.9" rx="7.4" ry="6.3" fill="url(#gY)"/>
<ellipse cx="1620.9" cy="1125.9" rx="7.4" ry="6.3" fill="url(#gY)"/>
<ellipse cx="1667.3" cy="1125.9" rx="7.4" ry="6.3" fill="url(#gY)"/>
<ellipse cx="1713.7" cy="1125.9" rx="7.4" ry="6.3" fill="url(#gY)"/>
<ellipse cx="1760.1" cy="1125.9" rx="7.4" ry="6.3" fill="url(#gY)"/>
<ellipse cx="1806.5" cy="1125.9" rx="7.4" ry="6.3" fill="url(#gY)"/>
<ellipse cx="1180.1" cy="1160.8" rx="7.4" ry="6.3" fill="url(#gY)"/>
<ellipse cx="1226.5" cy="1160.8" rx="7.4" ry="6.3" fill="url(#gY)"/>
<ellipse cx="1272.9" cy="1160.8" rx="7.4" ry="6.3" fill="url(#gY)"/>
<ellipse cx="1319.3" cy="1160.8" rx="7.4" ry="6.3" fill="url(#gY)"/>
<ellipse cx="1365.7" cy="1160.8" rx="7.4" ry="6.3" fill="url(#gY)"/>
<ellipse cx="1412.1" cy="1160.8" rx="7.4" ry="6.3" fill="url(#gY)"/>
<ellipse cx="1458.5" cy="1160.8" rx="7.4" ry="6.3" fill="url(#gY)"/>
<ellipse cx="1504.9" cy="1160.8" rx="7.4" ry="6.3" fill="url(#gY)"/>
<ellipse cx="1551.3" cy="1160.8" rx="7.4" ry="6.3" fill="url(#gY)"/>
<ellipse cx="1597.7" cy="1160.8" rx="7.4" ry="6.3" fill="url(#gY)"/>
<ellipse cx="1644.1" cy="1160.8" rx="7.4" ry="6.3" fill="url(#gY)"/>
<ellipse cx="1690.5" cy="1160.8" rx="7.4" ry="6.3" fill="url(#gY)"/>
<ellipse cx="1736.9" cy="1160.8" rx="7.4" ry="6.3" fill="url(#gY)"/>
<ellipse cx="1783.3" cy="1160.8" rx="7.4" ry="6.3" fill="url(#gY)"/>
<ellipse cx="1156.9" cy="1195.6" rx="7.4" ry="6.3" fill="url(#gY)"/>
<ellipse cx="1203.3" cy="1195.6" rx="7.4" ry="6.3" fill="url(#gY)"/>
<ellipse cx="1249.7" cy="1195.6" rx="7.4" ry="6.3" fill="url(#gY)"/>
<ellipse cx="1296.1" cy="1195.6" rx="7.4" ry="6.3" fill="url(#gY)"/>
<ellipse cx="1342.5" cy="1195.6" rx="7.4" ry="6.3" fill="url(#gY)"/>
<ellipse cx="1388.9" cy="1195.6" rx="7.4" ry="6.3" fill="url(#gY)"/>
<ellipse cx="1435.3" cy="1195.6" rx="7.4" ry="6.3" fill="url(#gY)"/>
<ellipse cx="1481.7" cy="1195.6" rx="7.4" ry="6.3" fill="url(#gY)"/>
<ellipse cx="1528.1" cy="1195.6" rx="7.4" ry="6.3" fill="url(#gY)"/>
<ellipse cx="1574.5" cy="1195.6" rx="7.4" ry="6.3" fill="url(#gY)"/>
<ellipse cx="1620.9" cy="1195.6" rx="7.4" ry="6.3" fill="url(#gY)"/>
<ellipse cx="1667.3" cy="1195.6" rx="7.4" ry="6.3" fill="url(#gY)"/>
<ellipse cx="1713.7" cy="1195.6" rx="7.4" ry="6.3" fill="url(#gY)"/>
<ellipse cx="1760.1" cy="1195.6" rx="7.4" ry="6.3" fill="url(#gY)"/>
<ellipse cx="1806.5" cy="1195.6" rx="7.4" ry="6.3" fill="url(#gY)"/>
<ellipse cx="1180.1" cy="1230.8" rx="7.4" ry="6.3" fill="url(#gY)"/>
<ellipse cx="1226.5" cy="1230.8" rx="7.4" ry="6.3" fill="url(#gY)"/>
<ellipse cx="1272.9" cy="1230.8" rx="7.4" ry="6.3" fill="url(#gY)"/>
<ellipse cx="1319.3" cy="1230.8" rx="7.4" ry="6.3" fill="url(#gY)"/>
<ellipse cx="1365.7" cy="1230.8" rx="7.4" ry="6.3" fill="url(#gY)"/>
<ellipse cx="1412.1" cy="1230.8" rx="7.4" ry="6.3" fill="url(#gY)"/>
<ellipse cx="1458.5" cy="1230.8" rx="7.4" ry="6.3" fill="url(#gY)"/>
<ellipse cx="1504.9" cy="1230.8" rx="7.4" ry="6.3" fill="url(#gY)"/>
<ellipse cx="1551.3" cy="1230.8" rx="7.4" ry="6.3" fill="url(#gY)"/>
<ellipse cx="1597.7" cy="1230.8" rx="7.4" ry="6.3" fill="url(#gY)"/>
<ellipse cx="1644.1" cy="1230.8" rx="7.4" ry="6.3" fill="url(#gY)"/>
<ellipse cx="1690.5" cy="1230.8" rx="7.4" ry="6.3" fill="url(#gY)"/>
<ellipse cx="1736.9" cy="1230.8" rx="7.4" ry="6.3" fill="url(#gY)"/>
<ellipse cx="1783.3" cy="1230.8" rx="7.4" ry="6.3" fill="url(#gY)"/>
</g>
<rect x="1146.2" y="1093.0" width="96.5" height="163.0" fill="#bababa" style="mix-blend-mode:multiply"/>
<rect x="1707.0" y="1093.0" width="96.20000000000005" height="163.0" fill="#bababa" style="mix-blend-mode:multiply"/>
<ellipse cx="1560.0" cy="1111.8" rx="4.7" ry="2.8" fill="url(#oB)" transform="rotate(0 1560.0 1111.8)"/>
<ellipse cx="1545.0" cy="1119.3" rx="4.7" ry="2.8" fill="url(#oB)" transform="rotate(0 1545.0 1119.3)"/>
<ellipse cx="1589.4" cy="1109.0" rx="5.6" ry="3.8" fill="url(#oB)" transform="rotate(0 1589.4 1109.0)"/>
<ellipse cx="1605.8" cy="1120.7" rx="4.2" ry="4.2" fill="url(#oB)" transform="rotate(0 1605.8 1120.7)"/>
<ellipse cx="1654.7" cy="1106.1" rx="9" ry="5.7" fill="url(#oB)" transform="rotate(0 1654.7 1106.1)"/>
<ellipse cx="1638.3" cy="1120.7" rx="7.5" ry="7" fill="url(#oB)" transform="rotate(0 1638.3 1120.7)"/>
<ellipse cx="1678.8" cy="1117.5" rx="7.5" ry="9.4" fill="url(#oB)" transform="rotate(0 1678.8 1117.5)"/>
<path d="M1702.8,1098 C1695,1098.5 1691.5,1103.5 1692,1109 C1692.5,1115 1697,1118.5 1702.8,1118.8 Z" fill="url(#oB)"/>
<ellipse cx="1669.4" cy="1130.6" rx="5.7" ry="4.7" fill="url(#oB)" transform="rotate(0 1669.4 1130.6)"/>
<ellipse cx="1580.8" cy="1143.8" rx="4.7" ry="3.8" fill="url(#oB)" transform="rotate(0 1580.8 1143.8)"/>
<ellipse cx="1570.5" cy="1156.0" rx="3.8" ry="2.8" fill="url(#oB)" transform="rotate(0 1570.5 1156.0)"/>
<ellipse cx="1612.4" cy="1149.0" rx="9" ry="6.1" fill="url(#oB)" transform="rotate(0 1612.4 1149.0)"/>
<ellipse cx="1637.8" cy="1150.4" rx="10.8" ry="8.5" fill="url(#oB)" transform="rotate(0 1637.8 1150.4)"/>
<ellipse cx="1690.5" cy="1163.5" rx="7" ry="5.7" fill="url(#oB)" transform="rotate(0 1690.5 1163.5)"/>
<ellipse cx="1688.7" cy="1175.8" rx="7" ry="4.7" fill="url(#oB)" transform="rotate(0 1688.7 1175.8)"/>
<ellipse cx="1599.7" cy="1179.6" rx="4.7" ry="4.7" fill="url(#oB)" transform="rotate(0 1599.7 1179.6)"/>
<ellipse cx="1599.7" cy="1194.2" rx="4.7" ry="5.2" fill="url(#oB)" transform="rotate(0 1599.7 1194.2)"/>
<ellipse cx="1644.0" cy="1184.8" rx="14" ry="7" fill="url(#oB)" transform="rotate(-5 1644.0 1184.8)"/>
<path d="M1660.5,1229 C1658,1224 1662,1218 1668,1212 C1675,1205 1684,1196 1692,1191.5 C1699,1188.5 1703,1191 1702.5,1196 C1702,1202 1696,1206 1690,1210 C1683,1215 1676,1222 1670,1228 C1666,1232 1662,1232 1660.5,1229 Z" fill="url(#oB)"/>
<ellipse cx="1621.5" cy="1218.0" rx="11.5" ry="7.5" fill="url(#oB)" transform="rotate(35 1621.5 1218.0)"/>
<ellipse cx="1640.0" cy="1223.5" rx="12.5" ry="6.5" fill="url(#oB)" transform="rotate(-3 1640.0 1223.5)"/>
<ellipse cx="1578.0" cy="1228.5" rx="7.5" ry="5.7" fill="url(#oB)" transform="rotate(0 1578.0 1228.5)"/>
<ellipse cx="1593.0" cy="1235.7" rx="6.6" ry="5.2" fill="url(#oB)" transform="rotate(0 1593.0 1235.7)"/>
<ellipse cx="1692.0" cy="1238.9" rx="10.3" ry="6.6" fill="url(#oB)" transform="rotate(0 1692.0 1238.9)"/>
<ellipse cx="1527.0" cy="1220.0" rx="2" ry="2" fill="url(#oB)" transform="rotate(0 1527.0 1220.0)"/>
<ellipse cx="1576.0" cy="1212.0" rx="2.5" ry="3" fill="url(#oB)" transform="rotate(0 1576.0 1212.0)"/>
<ellipse cx="1280.3" cy="714.7" rx="7.2" ry="5.2" fill="url(#gY)"/>
<ellipse cx="1372.6" cy="714.7" rx="7.2" ry="5.2" fill="url(#gY)"/>
<ellipse cx="1557.3" cy="714.7" rx="7.2" ry="5.2" fill="url(#gY)"/>
<ellipse cx="1695.7" cy="714.7" rx="7.2" ry="5.2" fill="url(#gY)"/>
<ellipse cx="1603.4" cy="715.2" rx="7.0" ry="4.3" fill="url(#gY)"/>
<text x="1124.5" y="650.2" font-size="37" text-anchor="end" font-weight="bold" style="" fill="#000" >0.1V</text>
<text x="1124.5" y="692.5" font-size="37" text-anchor="end" font-weight="bold" style="" fill="#000" >HOMO</text>
<text x="1124.5" y="824.4" font-size="37" text-anchor="end" font-weight="bold" style="" fill="#000" >0.1V</text>
<text x="1124.5" y="866.7" font-size="37" text-anchor="end" font-weight="bold" style="" fill="#000" >LUMO</text>
<text x="1124.5" y="996.2" font-size="37" text-anchor="end" font-weight="bold" style="" fill="#000" >0.25V</text>
<text x="1124.5" y="1038.5" font-size="37" text-anchor="end" font-weight="bold" style="" fill="#000" >HOMO</text>
<text x="1124.5" y="1170.2" font-size="37" text-anchor="end" font-weight="bold" style="" fill="#000" >0.25V</text>
<text x="1124.5" y="1212.5" font-size="37" text-anchor="end" font-weight="bold" style="" fill="#000" >LUMO</text>

<text transform="translate(943.72,604.01) scale(1.0919,0.9898)" font-size="51" font-weight="bold" style="font-style:italic;white-space:pre" xml:space="preserve">(d)</text>
</svg>
</body></html>
